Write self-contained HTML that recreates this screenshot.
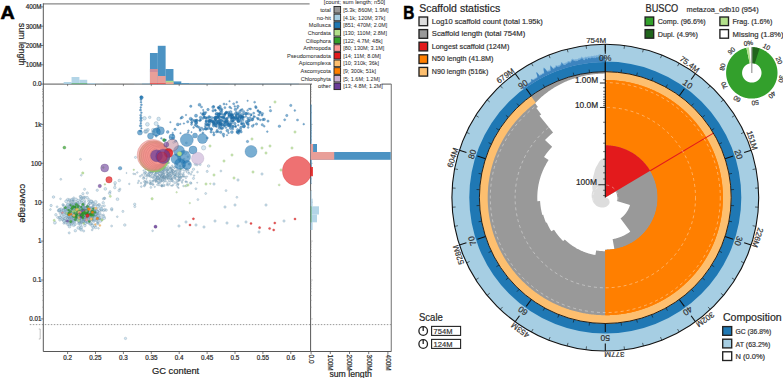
<!DOCTYPE html><html><head><meta charset="utf-8"><style>html,body{margin:0;padding:0;background:#fff;width:783px;height:378px;overflow:hidden}svg{display:block}text{font-family:"Liberation Sans",sans-serif;stroke:#333;stroke-width:0.2px}</style></head><body><svg width="783" height="378" viewBox="0 0 783 378"><text x="0.5" y="18.8" font-size="19" font-weight="bold" fill="#000" textLength="14.2" lengthAdjust="spacingAndGlyphs" style="stroke:#000;stroke-width:0.6px">A</text>
<line x1="43.3" y1="3.8" x2="309.6" y2="3.8" stroke="#888" stroke-width="1.2"/>
<line x1="43.3" y1="3.3" x2="43.3" y2="84.1" stroke="#444" stroke-width="0.9"/>
<line x1="43.3" y1="84.1" x2="310.6" y2="84.1" stroke="#444" stroke-width="0.9"/>
<line x1="40.8" y1="84.1" x2="43.3" y2="84.1" stroke="#444" stroke-width="0.7"/>
<text x="41.5" y="86.4" font-size="6.3" text-anchor="end" fill="#222">0.0</text>
<line x1="40.8" y1="64.8" x2="43.3" y2="64.8" stroke="#444" stroke-width="0.7"/>
<text x="41.5" y="67.1" font-size="6.3" text-anchor="end" fill="#222">100M</text>
<line x1="40.8" y1="45.5" x2="43.3" y2="45.5" stroke="#444" stroke-width="0.7"/>
<text x="41.5" y="47.8" font-size="6.3" text-anchor="end" fill="#222">200M</text>
<line x1="40.8" y1="26.2" x2="43.3" y2="26.2" stroke="#444" stroke-width="0.7"/>
<text x="41.5" y="28.5" font-size="6.3" text-anchor="end" fill="#222">300M</text>
<line x1="40.8" y1="6.9" x2="43.3" y2="6.9" stroke="#444" stroke-width="0.7"/>
<text x="41.5" y="9.2" font-size="6.3" text-anchor="end" fill="#222">400M</text>
<text transform="translate(18.9,44.3) rotate(90)" font-size="8.7" text-anchor="middle" fill="#222">sum length</text>
<line x1="67.6" y1="84.1" x2="67.6" y2="86.1" stroke="#444" stroke-width="0.6"/>
<line x1="95.5" y1="84.1" x2="95.5" y2="86.1" stroke="#444" stroke-width="0.6"/>
<line x1="123.4" y1="84.1" x2="123.4" y2="86.1" stroke="#444" stroke-width="0.6"/>
<line x1="151.3" y1="84.1" x2="151.3" y2="86.1" stroke="#444" stroke-width="0.6"/>
<line x1="179.2" y1="84.1" x2="179.2" y2="86.1" stroke="#444" stroke-width="0.6"/>
<line x1="207.1" y1="84.1" x2="207.1" y2="86.1" stroke="#444" stroke-width="0.6"/>
<line x1="235" y1="84.1" x2="235" y2="86.1" stroke="#444" stroke-width="0.6"/>
<line x1="262.9" y1="84.1" x2="262.9" y2="86.1" stroke="#444" stroke-width="0.6"/>
<line x1="290.8" y1="84.1" x2="290.8" y2="86.1" stroke="#444" stroke-width="0.6"/>
<line x1="43.3" y1="84.1" x2="43.3" y2="351.5" stroke="#444" stroke-width="0.9"/>
<line x1="43.3" y1="351.5" x2="310.6" y2="351.5" stroke="#444" stroke-width="0.9"/>
<line x1="40.8" y1="124.4" x2="43.3" y2="124.4" stroke="#444" stroke-width="0.7"/>
<text x="41.5" y="126.7" font-size="6.3" text-anchor="end" fill="#222">1k</text>
<line x1="42.0" y1="112.69" x2="43.3" y2="112.69" stroke="#999" stroke-width="0.5"/>
<line x1="42.0" y1="105.84" x2="43.3" y2="105.84" stroke="#999" stroke-width="0.5"/>
<line x1="42.0" y1="100.98" x2="43.3" y2="100.98" stroke="#999" stroke-width="0.5"/>
<line x1="42.0" y1="97.21" x2="43.3" y2="97.21" stroke="#999" stroke-width="0.5"/>
<line x1="42.0" y1="94.13" x2="43.3" y2="94.13" stroke="#999" stroke-width="0.5"/>
<line x1="42.0" y1="91.53" x2="43.3" y2="91.53" stroke="#999" stroke-width="0.5"/>
<line x1="42.0" y1="89.27" x2="43.3" y2="89.27" stroke="#999" stroke-width="0.5"/>
<line x1="40.8" y1="163.3" x2="43.3" y2="163.3" stroke="#444" stroke-width="0.7"/>
<text x="41.5" y="165.6" font-size="6.3" text-anchor="end" fill="#222">100</text>
<line x1="42.0" y1="151.59" x2="43.3" y2="151.59" stroke="#999" stroke-width="0.5"/>
<line x1="42.0" y1="144.74" x2="43.3" y2="144.74" stroke="#999" stroke-width="0.5"/>
<line x1="42.0" y1="139.88" x2="43.3" y2="139.88" stroke="#999" stroke-width="0.5"/>
<line x1="42.0" y1="136.11" x2="43.3" y2="136.11" stroke="#999" stroke-width="0.5"/>
<line x1="42.0" y1="133.03" x2="43.3" y2="133.03" stroke="#999" stroke-width="0.5"/>
<line x1="42.0" y1="130.43" x2="43.3" y2="130.43" stroke="#999" stroke-width="0.5"/>
<line x1="42.0" y1="128.17" x2="43.3" y2="128.17" stroke="#999" stroke-width="0.5"/>
<line x1="42.0" y1="126.18" x2="43.3" y2="126.18" stroke="#999" stroke-width="0.5"/>
<line x1="40.8" y1="202.2" x2="43.3" y2="202.2" stroke="#444" stroke-width="0.7"/>
<text x="41.5" y="204.5" font-size="6.3" text-anchor="end" fill="#222">10</text>
<line x1="42.0" y1="190.49" x2="43.3" y2="190.49" stroke="#999" stroke-width="0.5"/>
<line x1="42.0" y1="183.64" x2="43.3" y2="183.64" stroke="#999" stroke-width="0.5"/>
<line x1="42.0" y1="178.78" x2="43.3" y2="178.78" stroke="#999" stroke-width="0.5"/>
<line x1="42.0" y1="175.01" x2="43.3" y2="175.01" stroke="#999" stroke-width="0.5"/>
<line x1="42.0" y1="171.93" x2="43.3" y2="171.93" stroke="#999" stroke-width="0.5"/>
<line x1="42.0" y1="169.33" x2="43.3" y2="169.33" stroke="#999" stroke-width="0.5"/>
<line x1="42.0" y1="167.07" x2="43.3" y2="167.07" stroke="#999" stroke-width="0.5"/>
<line x1="42.0" y1="165.08" x2="43.3" y2="165.08" stroke="#999" stroke-width="0.5"/>
<line x1="40.8" y1="241.1" x2="43.3" y2="241.1" stroke="#444" stroke-width="0.7"/>
<text x="41.5" y="243.4" font-size="6.3" text-anchor="end" fill="#222">1</text>
<line x1="42.0" y1="229.39" x2="43.3" y2="229.39" stroke="#999" stroke-width="0.5"/>
<line x1="42.0" y1="222.54" x2="43.3" y2="222.54" stroke="#999" stroke-width="0.5"/>
<line x1="42.0" y1="217.68" x2="43.3" y2="217.68" stroke="#999" stroke-width="0.5"/>
<line x1="42.0" y1="213.91" x2="43.3" y2="213.91" stroke="#999" stroke-width="0.5"/>
<line x1="42.0" y1="210.83" x2="43.3" y2="210.83" stroke="#999" stroke-width="0.5"/>
<line x1="42.0" y1="208.23" x2="43.3" y2="208.23" stroke="#999" stroke-width="0.5"/>
<line x1="42.0" y1="205.97" x2="43.3" y2="205.97" stroke="#999" stroke-width="0.5"/>
<line x1="42.0" y1="203.98" x2="43.3" y2="203.98" stroke="#999" stroke-width="0.5"/>
<line x1="40.8" y1="280" x2="43.3" y2="280" stroke="#444" stroke-width="0.7"/>
<text x="41.5" y="282.3" font-size="6.3" text-anchor="end" fill="#222">0.1</text>
<line x1="42.0" y1="268.29" x2="43.3" y2="268.29" stroke="#999" stroke-width="0.5"/>
<line x1="42.0" y1="261.44" x2="43.3" y2="261.44" stroke="#999" stroke-width="0.5"/>
<line x1="42.0" y1="256.58" x2="43.3" y2="256.58" stroke="#999" stroke-width="0.5"/>
<line x1="42.0" y1="252.81" x2="43.3" y2="252.81" stroke="#999" stroke-width="0.5"/>
<line x1="42.0" y1="249.73" x2="43.3" y2="249.73" stroke="#999" stroke-width="0.5"/>
<line x1="42.0" y1="247.13" x2="43.3" y2="247.13" stroke="#999" stroke-width="0.5"/>
<line x1="42.0" y1="244.87" x2="43.3" y2="244.87" stroke="#999" stroke-width="0.5"/>
<line x1="42.0" y1="242.88" x2="43.3" y2="242.88" stroke="#999" stroke-width="0.5"/>
<line x1="40.8" y1="318.9" x2="43.3" y2="318.9" stroke="#444" stroke-width="0.7"/>
<text x="41.5" y="321.2" font-size="6.3" text-anchor="end" fill="#222">0.01</text>
<line x1="42.0" y1="307.19" x2="43.3" y2="307.19" stroke="#999" stroke-width="0.5"/>
<line x1="42.0" y1="300.34" x2="43.3" y2="300.34" stroke="#999" stroke-width="0.5"/>
<line x1="42.0" y1="295.48" x2="43.3" y2="295.48" stroke="#999" stroke-width="0.5"/>
<line x1="42.0" y1="291.71" x2="43.3" y2="291.71" stroke="#999" stroke-width="0.5"/>
<line x1="42.0" y1="288.63" x2="43.3" y2="288.63" stroke="#999" stroke-width="0.5"/>
<line x1="42.0" y1="286.03" x2="43.3" y2="286.03" stroke="#999" stroke-width="0.5"/>
<line x1="42.0" y1="283.77" x2="43.3" y2="283.77" stroke="#999" stroke-width="0.5"/>
<line x1="42.0" y1="281.78" x2="43.3" y2="281.78" stroke="#999" stroke-width="0.5"/>
<line x1="42.0" y1="112.69" x2="43.3" y2="112.69" stroke="#999" stroke-width="0.5"/>
<line x1="42.0" y1="105.84" x2="43.3" y2="105.84" stroke="#999" stroke-width="0.5"/>
<line x1="42.0" y1="100.98" x2="43.3" y2="100.98" stroke="#999" stroke-width="0.5"/>
<line x1="42.0" y1="97.21" x2="43.3" y2="97.21" stroke="#999" stroke-width="0.5"/>
<line x1="42.0" y1="94.13" x2="43.3" y2="94.13" stroke="#999" stroke-width="0.5"/>
<line x1="42.0" y1="91.53" x2="43.3" y2="91.53" stroke="#999" stroke-width="0.5"/>
<line x1="42.0" y1="89.27" x2="43.3" y2="89.27" stroke="#999" stroke-width="0.5"/>
<text transform="translate(19.9,203.2) rotate(90)" font-size="9.5" text-anchor="middle" fill="#111">coverage</text>
<line x1="67.6" y1="351.5" x2="67.6" y2="354.0" stroke="#444" stroke-width="0.7"/>
<text x="67.6" y="359.5" font-size="6.3" text-anchor="middle" fill="#222">0.2</text>
<line x1="95.5" y1="351.5" x2="95.5" y2="354.0" stroke="#444" stroke-width="0.7"/>
<text x="95.5" y="359.5" font-size="6.3" text-anchor="middle" fill="#222">0.25</text>
<line x1="123.4" y1="351.5" x2="123.4" y2="354.0" stroke="#444" stroke-width="0.7"/>
<text x="123.4" y="359.5" font-size="6.3" text-anchor="middle" fill="#222">0.3</text>
<line x1="151.3" y1="351.5" x2="151.3" y2="354.0" stroke="#444" stroke-width="0.7"/>
<text x="151.3" y="359.5" font-size="6.3" text-anchor="middle" fill="#222">0.35</text>
<line x1="179.2" y1="351.5" x2="179.2" y2="354.0" stroke="#444" stroke-width="0.7"/>
<text x="179.2" y="359.5" font-size="6.3" text-anchor="middle" fill="#222">0.4</text>
<line x1="207.1" y1="351.5" x2="207.1" y2="354.0" stroke="#444" stroke-width="0.7"/>
<text x="207.1" y="359.5" font-size="6.3" text-anchor="middle" fill="#222">0.45</text>
<line x1="235" y1="351.5" x2="235" y2="354.0" stroke="#444" stroke-width="0.7"/>
<text x="235" y="359.5" font-size="6.3" text-anchor="middle" fill="#222">0.5</text>
<line x1="262.9" y1="351.5" x2="262.9" y2="354.0" stroke="#444" stroke-width="0.7"/>
<text x="262.9" y="359.5" font-size="6.3" text-anchor="middle" fill="#222">0.55</text>
<line x1="290.8" y1="351.5" x2="290.8" y2="354.0" stroke="#444" stroke-width="0.7"/>
<text x="290.8" y="359.5" font-size="6.3" text-anchor="middle" fill="#222">0.6</text>
<text x="175.6" y="374.4" font-size="9.35" text-anchor="middle" fill="#111">GC content</text>
<line x1="29.8" y1="324.6" x2="391.3" y2="324.6" stroke="#555" stroke-width="0.6" stroke-dasharray="1.5,1.5"/>
<path d="M38.8,329 L40.2,329 L40.2,339 L38.8,339" fill="none" stroke="#999" stroke-width="0.6"/>
<line x1="310.6" y1="84.1" x2="310.6" y2="351.5" stroke="#444" stroke-width="0.9"/>
<line x1="310.6" y1="84.1" x2="391.3" y2="84.1" stroke="#444" stroke-width="0.9"/>
<line x1="391.3" y1="84.1" x2="391.3" y2="351.5" stroke="#888" stroke-width="1.2"/>
<line x1="311.1" y1="351.5" x2="311.1" y2="354.0" stroke="#444" stroke-width="0.7"/>
<text transform="translate(308.9,354.6) rotate(90)" font-size="6.4" text-anchor="start" fill="#222">0.0</text>
<line x1="330.3" y1="351.5" x2="330.3" y2="354.0" stroke="#444" stroke-width="0.7"/>
<text transform="translate(328.1,354.6) rotate(90)" font-size="6.4" text-anchor="start" fill="#222">100M</text>
<line x1="349.5" y1="351.5" x2="349.5" y2="354.0" stroke="#444" stroke-width="0.7"/>
<text transform="translate(347.3,354.6) rotate(90)" font-size="6.4" text-anchor="start" fill="#222">200M</text>
<line x1="368.7" y1="351.5" x2="368.7" y2="354.0" stroke="#444" stroke-width="0.7"/>
<text transform="translate(366.5,354.6) rotate(90)" font-size="6.4" text-anchor="start" fill="#222">300M</text>
<line x1="387.9" y1="351.5" x2="387.9" y2="354.0" stroke="#444" stroke-width="0.7"/>
<text transform="translate(385.7,354.6) rotate(90)" font-size="6.4" text-anchor="start" fill="#222">400M</text>
<text x="350.7" y="376.6" font-size="8.7" text-anchor="middle" fill="#111">sum length</text>
<line x1="310.6" y1="351.5" x2="391.3" y2="351.5" stroke="#444" stroke-width="0.9"/>
<line x1="310.6" y1="124.4" x2="312.8" y2="124.4" stroke="#999" stroke-width="0.5"/>
<line x1="310.6" y1="112.69" x2="311.8" y2="112.69" stroke="#999" stroke-width="0.5"/>
<line x1="310.6" y1="105.84" x2="311.8" y2="105.84" stroke="#999" stroke-width="0.5"/>
<line x1="310.6" y1="100.98" x2="311.8" y2="100.98" stroke="#999" stroke-width="0.5"/>
<line x1="310.6" y1="97.21" x2="311.8" y2="97.21" stroke="#999" stroke-width="0.5"/>
<line x1="310.6" y1="94.13" x2="311.8" y2="94.13" stroke="#999" stroke-width="0.5"/>
<line x1="310.6" y1="91.53" x2="311.8" y2="91.53" stroke="#999" stroke-width="0.5"/>
<line x1="310.6" y1="89.27" x2="311.8" y2="89.27" stroke="#999" stroke-width="0.5"/>
<line x1="310.6" y1="87.28" x2="311.8" y2="87.28" stroke="#999" stroke-width="0.5"/>
<line x1="310.6" y1="163.3" x2="312.8" y2="163.3" stroke="#999" stroke-width="0.5"/>
<line x1="310.6" y1="151.59" x2="311.8" y2="151.59" stroke="#999" stroke-width="0.5"/>
<line x1="310.6" y1="144.74" x2="311.8" y2="144.74" stroke="#999" stroke-width="0.5"/>
<line x1="310.6" y1="139.88" x2="311.8" y2="139.88" stroke="#999" stroke-width="0.5"/>
<line x1="310.6" y1="136.11" x2="311.8" y2="136.11" stroke="#999" stroke-width="0.5"/>
<line x1="310.6" y1="133.03" x2="311.8" y2="133.03" stroke="#999" stroke-width="0.5"/>
<line x1="310.6" y1="130.43" x2="311.8" y2="130.43" stroke="#999" stroke-width="0.5"/>
<line x1="310.6" y1="128.17" x2="311.8" y2="128.17" stroke="#999" stroke-width="0.5"/>
<line x1="310.6" y1="126.18" x2="311.8" y2="126.18" stroke="#999" stroke-width="0.5"/>
<line x1="310.6" y1="202.2" x2="312.8" y2="202.2" stroke="#999" stroke-width="0.5"/>
<line x1="310.6" y1="190.49" x2="311.8" y2="190.49" stroke="#999" stroke-width="0.5"/>
<line x1="310.6" y1="183.64" x2="311.8" y2="183.64" stroke="#999" stroke-width="0.5"/>
<line x1="310.6" y1="178.78" x2="311.8" y2="178.78" stroke="#999" stroke-width="0.5"/>
<line x1="310.6" y1="175.01" x2="311.8" y2="175.01" stroke="#999" stroke-width="0.5"/>
<line x1="310.6" y1="171.93" x2="311.8" y2="171.93" stroke="#999" stroke-width="0.5"/>
<line x1="310.6" y1="169.33" x2="311.8" y2="169.33" stroke="#999" stroke-width="0.5"/>
<line x1="310.6" y1="167.07" x2="311.8" y2="167.07" stroke="#999" stroke-width="0.5"/>
<line x1="310.6" y1="165.08" x2="311.8" y2="165.08" stroke="#999" stroke-width="0.5"/>
<line x1="310.6" y1="241.1" x2="312.8" y2="241.1" stroke="#999" stroke-width="0.5"/>
<line x1="310.6" y1="229.39" x2="311.8" y2="229.39" stroke="#999" stroke-width="0.5"/>
<line x1="310.6" y1="222.54" x2="311.8" y2="222.54" stroke="#999" stroke-width="0.5"/>
<line x1="310.6" y1="217.68" x2="311.8" y2="217.68" stroke="#999" stroke-width="0.5"/>
<line x1="310.6" y1="213.91" x2="311.8" y2="213.91" stroke="#999" stroke-width="0.5"/>
<line x1="310.6" y1="210.83" x2="311.8" y2="210.83" stroke="#999" stroke-width="0.5"/>
<line x1="310.6" y1="208.23" x2="311.8" y2="208.23" stroke="#999" stroke-width="0.5"/>
<line x1="310.6" y1="205.97" x2="311.8" y2="205.97" stroke="#999" stroke-width="0.5"/>
<line x1="310.6" y1="203.98" x2="311.8" y2="203.98" stroke="#999" stroke-width="0.5"/>
<line x1="310.6" y1="280" x2="312.8" y2="280" stroke="#999" stroke-width="0.5"/>
<line x1="310.6" y1="268.29" x2="311.8" y2="268.29" stroke="#999" stroke-width="0.5"/>
<line x1="310.6" y1="261.44" x2="311.8" y2="261.44" stroke="#999" stroke-width="0.5"/>
<line x1="310.6" y1="256.58" x2="311.8" y2="256.58" stroke="#999" stroke-width="0.5"/>
<line x1="310.6" y1="252.81" x2="311.8" y2="252.81" stroke="#999" stroke-width="0.5"/>
<line x1="310.6" y1="249.73" x2="311.8" y2="249.73" stroke="#999" stroke-width="0.5"/>
<line x1="310.6" y1="247.13" x2="311.8" y2="247.13" stroke="#999" stroke-width="0.5"/>
<line x1="310.6" y1="244.87" x2="311.8" y2="244.87" stroke="#999" stroke-width="0.5"/>
<line x1="310.6" y1="242.88" x2="311.8" y2="242.88" stroke="#999" stroke-width="0.5"/>
<line x1="310.6" y1="318.9" x2="312.8" y2="318.9" stroke="#999" stroke-width="0.5"/>
<line x1="310.6" y1="307.19" x2="311.8" y2="307.19" stroke="#999" stroke-width="0.5"/>
<line x1="310.6" y1="300.34" x2="311.8" y2="300.34" stroke="#999" stroke-width="0.5"/>
<line x1="310.6" y1="295.48" x2="311.8" y2="295.48" stroke="#999" stroke-width="0.5"/>
<line x1="310.6" y1="291.71" x2="311.8" y2="291.71" stroke="#999" stroke-width="0.5"/>
<line x1="310.6" y1="288.63" x2="311.8" y2="288.63" stroke="#999" stroke-width="0.5"/>
<line x1="310.6" y1="286.03" x2="311.8" y2="286.03" stroke="#999" stroke-width="0.5"/>
<line x1="310.6" y1="283.77" x2="311.8" y2="283.77" stroke="#999" stroke-width="0.5"/>
<line x1="310.6" y1="281.78" x2="311.8" y2="281.78" stroke="#999" stroke-width="0.5"/>
<rect x="63.70" y="82.00" width="7.84" height="2.10" fill="#a6cee3" fill-opacity="0.85"/>
<rect x="71.54" y="77.00" width="7.84" height="7.10" fill="#a6cee3" fill-opacity="0.85"/>
<rect x="79.38" y="79.80" width="7.84" height="4.30" fill="#a6cee3" fill-opacity="0.85"/>
<rect x="87.22" y="83.10" width="7.84" height="1.00" fill="#a6cee3" fill-opacity="0.85"/>
<rect x="95.06" y="83.80" width="7.84" height="0.30" fill="#a6cee3" fill-opacity="0.85"/>
<rect x="134.26" y="83.80" width="7.84" height="0.30" fill="#a6cee3" fill-opacity="0.85"/>
<rect x="142.10" y="83.70" width="7.84" height="0.40" fill="#a6cee3" fill-opacity="0.85"/>
<rect x="149.94" y="83.10" width="7.84" height="1.00" fill="#a6cee3" fill-opacity="0.85"/>
<rect x="157.78" y="83.10" width="7.84" height="1.00" fill="#a6cee3" fill-opacity="0.85"/>
<rect x="165.62" y="83.30" width="7.84" height="0.80" fill="#a6cee3" fill-opacity="0.85"/>
<rect x="173.46" y="83.50" width="7.84" height="0.60" fill="#a6cee3" fill-opacity="0.85"/>
<rect x="181.30" y="83.60" width="7.84" height="0.50" fill="#a6cee3" fill-opacity="0.85"/>
<rect x="189.14" y="83.70" width="7.84" height="0.40" fill="#a6cee3" fill-opacity="0.85"/>
<rect x="196.98" y="83.70" width="7.84" height="0.40" fill="#a6cee3" fill-opacity="0.85"/>
<rect x="204.82" y="83.80" width="7.84" height="0.30" fill="#a6cee3" fill-opacity="0.85"/>
<rect x="71.54" y="83.00" width="7.84" height="1.10" fill="#33a02c" fill-opacity="0.45"/>
<rect x="79.38" y="83.00" width="7.84" height="1.10" fill="#33a02c" fill-opacity="0.45"/>
<rect x="142.10" y="83.80" width="7.84" height="0.30" fill="#1f78b4" fill-opacity="0.8"/>
<rect x="149.94" y="53.00" width="7.84" height="31.10" fill="#1f78b4" fill-opacity="0.8"/>
<rect x="157.78" y="45.80" width="7.84" height="38.30" fill="#1f78b4" fill-opacity="0.8"/>
<rect x="165.62" y="69.00" width="7.84" height="15.10" fill="#1f78b4" fill-opacity="0.8"/>
<rect x="173.46" y="81.40" width="7.84" height="2.70" fill="#1f78b4" fill-opacity="0.8"/>
<rect x="181.30" y="83.30" width="7.84" height="0.80" fill="#1f78b4" fill-opacity="0.8"/>
<rect x="189.14" y="83.60" width="7.84" height="0.50" fill="#1f78b4" fill-opacity="0.8"/>
<rect x="196.98" y="83.60" width="7.84" height="0.50" fill="#1f78b4" fill-opacity="0.8"/>
<rect x="204.82" y="83.70" width="7.84" height="0.40" fill="#1f78b4" fill-opacity="0.8"/>
<rect x="212.66" y="83.70" width="7.84" height="0.40" fill="#1f78b4" fill-opacity="0.8"/>
<rect x="220.50" y="83.70" width="7.84" height="0.40" fill="#1f78b4" fill-opacity="0.8"/>
<rect x="228.34" y="83.80" width="7.84" height="0.30" fill="#1f78b4" fill-opacity="0.8"/>
<rect x="236.18" y="83.80" width="7.84" height="0.30" fill="#1f78b4" fill-opacity="0.8"/>
<rect x="244.02" y="83.80" width="7.84" height="0.30" fill="#1f78b4" fill-opacity="0.8"/>
<rect x="251.86" y="83.80" width="7.84" height="0.30" fill="#1f78b4" fill-opacity="0.8"/>
<rect x="259.70" y="83.80" width="7.84" height="0.30" fill="#1f78b4" fill-opacity="0.8"/>
<rect x="267.54" y="83.80" width="7.84" height="0.30" fill="#1f78b4" fill-opacity="0.8"/>
<rect x="275.38" y="83.80" width="7.84" height="0.30" fill="#1f78b4" fill-opacity="0.8"/>
<rect x="283.22" y="83.80" width="7.84" height="0.30" fill="#1f78b4" fill-opacity="0.8"/>
<rect x="291.06" y="83.80" width="7.84" height="0.30" fill="#1f78b4" fill-opacity="0.8"/>
<rect x="165.62" y="80.80" width="7.84" height="3.30" fill="#b2df8a" fill-opacity="0.95"/>
<rect x="149.94" y="69.00" width="7.84" height="15.10" fill="#f6a096" fill-opacity="0.92"/>
<rect x="157.78" y="76.00" width="7.84" height="8.10" fill="#f6a096" fill-opacity="0.92"/>
<rect x="165.62" y="82.30" width="7.84" height="1.80" fill="#f6a096" fill-opacity="0.92"/>
<rect x="149.94" y="81.50" width="7.84" height="2.60" fill="#cab2d6" fill-opacity="0.0"/>
<rect x="149.94" y="69.00" width="7.84" height="3.0" fill="#b07aa1" fill-opacity="0.45"/>
<rect x="149.94" y="83.20" width="15.68" height="0.8" fill="#e31a1c" fill-opacity="0.6"/>
<rect x="310.60" y="104.50" width="0.90" height="7.90" fill="#1f78b4" fill-opacity="0.8"/>
<rect x="310.60" y="112.30" width="0.90" height="7.90" fill="#1f78b4" fill-opacity="0.8"/>
<rect x="310.60" y="120.10" width="0.90" height="7.90" fill="#1f78b4" fill-opacity="0.8"/>
<rect x="310.60" y="128.00" width="0.90" height="7.90" fill="#1f78b4" fill-opacity="0.8"/>
<rect x="310.60" y="136.00" width="0.90" height="7.90" fill="#1f78b4" fill-opacity="0.8"/>
<rect x="310.60" y="144.00" width="6.40" height="8.00" fill="#1f78b4" fill-opacity="0.8"/>
<rect x="310.60" y="152.00" width="80.10" height="7.80" fill="#1f78b4" fill-opacity="0.8"/>
<rect x="310.60" y="159.80" width="1.00" height="7.20" fill="#1f78b4" fill-opacity="0.8"/>
<rect x="310.60" y="144.00" width="2.50" height="8.00" fill="#f6a096" fill-opacity="0.92"/>
<rect x="310.60" y="152.00" width="23.60" height="7.80" fill="#f6a096" fill-opacity="0.92"/>
<rect x="310.60" y="167.00" width="2.40" height="9.20" fill="#e31a1c" fill-opacity="0.8"/>
<rect x="310.60" y="176.20" width="0.80" height="7.80" fill="#1f78b4" fill-opacity="0.6"/>
<rect x="310.60" y="190.80" width="1.00" height="7.80" fill="#a6cee3" fill-opacity="0.85"/>
<rect x="310.60" y="198.60" width="2.00" height="7.70" fill="#a6cee3" fill-opacity="0.85"/>
<rect x="310.60" y="206.30" width="8.40" height="8.20" fill="#a6cee3" fill-opacity="0.85"/>
<rect x="310.60" y="214.50" width="6.40" height="7.80" fill="#a6cee3" fill-opacity="0.85"/>
<rect x="310.60" y="222.30" width="2.00" height="7.70" fill="#a6cee3" fill-opacity="0.85"/>
<rect x="310.60" y="206.30" width="1.00" height="16.00" fill="#33a02c" fill-opacity="0.5"/>
<style>.a50{fill:#fb9a99;fill-opacity:0.5;stroke:#c07070;stroke-opacity:0.55}.a70{fill:#fb9a99;fill-opacity:0.7;stroke:#c07070;stroke-opacity:0.55}.c70{fill:#33a02c;fill-opacity:0.7;stroke:#2a7a25;stroke-opacity:0.55}.c75{fill:#33a02c;fill-opacity:0.75;stroke:#2a7a25;stroke-opacity:0.55}.c80{fill:#33a02c;fill-opacity:0.8;stroke:#2a7a25;stroke-opacity:0.55}.h55{fill:#b2df8a;fill-opacity:0.55;stroke:#80a868;stroke-opacity:0.55}.h60{fill:#b2df8a;fill-opacity:0.6;stroke:#80a868;stroke-opacity:0.55}.h75{fill:#b2df8a;fill-opacity:0.75;stroke:#80a868;stroke-opacity:0.55}.h95{fill:#b2df8a;fill-opacity:0.95;stroke:#80a868;stroke-opacity:0.55}.l65{fill:#cab2d6;fill-opacity:0.65;stroke:#a090b0;stroke-opacity:0.55}.m15{fill:#1f78b4;fill-opacity:0.15;stroke:#1f5f94;stroke-opacity:0.55}.m55{fill:#1f78b4;fill-opacity:0.55;stroke:#1f5f94;stroke-opacity:0.55}.m60{fill:#1f78b4;fill-opacity:0.6;stroke:#1f5f94;stroke-opacity:0.55}.m65{fill:#1f78b4;fill-opacity:0.65;stroke:#1f5f94;stroke-opacity:0.55}.m80{fill:#1f78b4;fill-opacity:0.8;stroke:#1f5f94;stroke-opacity:0.55}.n45{fill:#a6cee3;fill-opacity:0.45;stroke:#5b7d95;stroke-opacity:0.55}.n50{fill:#a6cee3;fill-opacity:0.5;stroke:#5b7d95;stroke-opacity:0.55}.o60{fill:#6a3d9a;fill-opacity:0.6;stroke:#503070;stroke-opacity:0.55}.o70{fill:#6a3d9a;fill-opacity:0.7;stroke:#503070;stroke-opacity:0.55}.o72{fill:#6a3d9a;fill-opacity:0.72;stroke:#503070;stroke-opacity:0.55}.o85{fill:#6a3d9a;fill-opacity:0.85;stroke:#503070;stroke-opacity:0.55}.p30{fill:#e31a1c;fill-opacity:0.3;stroke:#b01010;stroke-opacity:0.55}.p70{fill:#e31a1c;fill-opacity:0.7;stroke:#b01010;stroke-opacity:0.55}.p75{fill:#e31a1c;fill-opacity:0.75;stroke:#b01010;stroke-opacity:0.55}.p80{fill:#e31a1c;fill-opacity:0.8;stroke:#b01010;stroke-opacity:0.55}.p85{fill:#e31a1c;fill-opacity:0.85;stroke:#b01010;stroke-opacity:0.55}.x85{fill:#fdbf6f;fill-opacity:0.85;stroke:#c09050;stroke-opacity:0.55}.y75{fill:#ff7f00;fill-opacity:0.75;stroke:#c06000;stroke-opacity:0.55}</style>
<g stroke-width="0.45">
<circle class="n50" cx="67.3" cy="217.5" r="1.6"/>
<circle class="n50" cx="93.1" cy="216.2" r="1.4"/>
<circle class="n50" cx="72.6" cy="210.6" r="1.1"/>
<circle class="n50" cx="78.5" cy="219.8" r="0.9"/>
<circle class="n50" cx="80.3" cy="211.2" r="1.4"/>
<circle class="n50" cx="73.9" cy="219.2" r="1.4"/>
<circle class="n50" cx="67.9" cy="199.7" r="1.5"/>
<circle class="n50" cx="87.2" cy="207.2" r="1.5"/>
<circle class="n50" cx="84.5" cy="209.4" r="1.4"/>
<circle class="n50" cx="62.3" cy="212.7" r="1.3"/>
<circle class="n50" cx="103.5" cy="198.8" r="1.2"/>
<circle class="n50" cx="90.3" cy="217.4" r="1.1"/>
<circle class="n50" cx="73.7" cy="218.5" r="1.5"/>
<circle class="n50" cx="89.7" cy="217.3" r="1.3"/>
<circle class="n50" cx="76.5" cy="209.7" r="1.5"/>
<circle class="n50" cx="80.4" cy="221.2" r="1.4"/>
<circle class="n50" cx="88.6" cy="209.5" r="1.1"/>
<circle class="n50" cx="68.9" cy="218.0" r="1.0"/>
<circle class="n50" cx="86.5" cy="212.4" r="0.9"/>
<circle class="n50" cx="94.4" cy="212.6" r="1.0"/>
<circle class="n50" cx="93.7" cy="211.8" r="1.2"/>
<circle class="n50" cx="78.1" cy="212.6" r="1.5"/>
<circle class="n50" cx="89.7" cy="219.2" r="1.1"/>
<circle class="n50" cx="65.4" cy="221.1" r="0.9"/>
<circle class="n50" cx="79.5" cy="221.0" r="1.5"/>
<circle class="n50" cx="85.3" cy="218.0" r="1.2"/>
<circle class="n50" cx="68.1" cy="216.6" r="1.3"/>
<circle class="n50" cx="80.2" cy="215.3" r="1.3"/>
<circle class="n50" cx="97.6" cy="222.9" r="1.0"/>
<circle class="n50" cx="106.1" cy="210.1" r="1.3"/>
<circle class="n50" cx="88.5" cy="209.0" r="1.1"/>
<circle class="n50" cx="89.0" cy="213.0" r="1.1"/>
<circle class="n50" cx="71.8" cy="203.0" r="0.9"/>
<circle class="n50" cx="69.4" cy="211.3" r="1.2"/>
<circle class="n50" cx="67.4" cy="212.4" r="0.9"/>
<circle class="n50" cx="86.2" cy="206.7" r="1.0"/>
<circle class="n50" cx="88.2" cy="209.4" r="1.3"/>
<circle class="n50" cx="74.7" cy="216.7" r="1.3"/>
<circle class="n50" cx="69.2" cy="211.4" r="1.5"/>
<circle class="n50" cx="83.5" cy="213.2" r="1.5"/>
<circle class="n50" cx="84.0" cy="218.7" r="1.2"/>
<circle class="n50" cx="79.7" cy="209.1" r="1.5"/>
<circle class="n50" cx="93.2" cy="206.1" r="1.0"/>
<circle class="n50" cx="80.1" cy="212.5" r="1.3"/>
<circle class="n50" cx="80.4" cy="215.2" r="1.5"/>
<circle class="n50" cx="70.4" cy="202.2" r="0.9"/>
<circle class="n50" cx="82.3" cy="216.5" r="1.5"/>
<circle class="n50" cx="93.9" cy="210.9" r="1.0"/>
<circle class="n50" cx="81.6" cy="210.3" r="0.9"/>
<circle class="n50" cx="81.7" cy="207.7" r="1.3"/>
<circle class="n50" cx="85.2" cy="211.6" r="1.5"/>
<circle class="n50" cx="83.7" cy="218.3" r="1.1"/>
<circle class="n50" cx="86.1" cy="215.8" r="1.1"/>
<circle class="n50" cx="86.2" cy="217.4" r="1.1"/>
<circle class="n50" cx="86.9" cy="210.6" r="1.1"/>
<circle class="n50" cx="73.4" cy="222.0" r="1.3"/>
<circle class="n50" cx="83.9" cy="220.1" r="1.0"/>
<circle class="n50" cx="65.6" cy="212.6" r="1.0"/>
<circle class="n50" cx="83.6" cy="197.5" r="1.4"/>
<circle class="n50" cx="68.9" cy="213.1" r="1.1"/>
<circle class="n50" cx="80.3" cy="228.7" r="1.4"/>
<circle class="n50" cx="85.6" cy="212.4" r="1.2"/>
<circle class="n50" cx="77.0" cy="206.8" r="1.0"/>
<circle class="n50" cx="81.9" cy="222.7" r="1.2"/>
<circle class="n50" cx="65.3" cy="209.2" r="1.1"/>
<circle class="n50" cx="72.8" cy="215.6" r="1.4"/>
<circle class="n50" cx="87.6" cy="217.2" r="1.5"/>
<circle class="n50" cx="69.9" cy="204.2" r="1.4"/>
<circle class="n50" cx="87.2" cy="213.5" r="1.2"/>
<circle class="n50" cx="67.7" cy="219.7" r="1.6"/>
<circle class="n50" cx="72.3" cy="210.9" r="1.0"/>
<circle class="n50" cx="70.5" cy="216.6" r="1.0"/>
<circle class="n50" cx="81.1" cy="212.6" r="1.0"/>
<circle class="n50" cx="86.1" cy="218.7" r="1.2"/>
<circle class="n50" cx="70.8" cy="223.5" r="1.4"/>
<circle class="n50" cx="79.3" cy="206.4" r="1.0"/>
<circle class="n50" cx="96.6" cy="211.1" r="1.6"/>
<circle class="n50" cx="78.0" cy="215.1" r="1.2"/>
<circle class="n50" cx="73.2" cy="209.1" r="1.5"/>
<circle class="n50" cx="84.7" cy="208.0" r="1.4"/>
<circle class="n50" cx="78.9" cy="210.8" r="1.0"/>
<circle class="n50" cx="74.3" cy="211.2" r="1.5"/>
<circle class="n50" cx="63.8" cy="209.0" r="1.1"/>
<circle class="n50" cx="88.9" cy="214.7" r="1.3"/>
<circle class="n50" cx="75.5" cy="217.5" r="1.3"/>
<circle class="n50" cx="81.0" cy="217.1" r="1.1"/>
<circle class="n50" cx="70.8" cy="216.7" r="1.1"/>
<circle class="n50" cx="93.5" cy="219.7" r="1.2"/>
<circle class="n50" cx="88.2" cy="204.9" r="1.4"/>
<circle class="n50" cx="90.4" cy="212.1" r="1.4"/>
<circle class="n50" cx="79.9" cy="213.9" r="1.2"/>
<circle class="n50" cx="85.5" cy="215.8" r="1.5"/>
<circle class="n50" cx="89.5" cy="203.4" r="1.0"/>
<circle class="n50" cx="90.8" cy="223.7" r="1.5"/>
<circle class="n50" cx="84.0" cy="207.6" r="1.2"/>
<circle class="n50" cx="80.4" cy="214.3" r="0.9"/>
<circle class="n50" cx="77.5" cy="217.1" r="1.3"/>
<circle class="n50" cx="73.8" cy="219.1" r="1.2"/>
<circle class="n50" cx="71.7" cy="208.8" r="1.1"/>
<circle class="n50" cx="84.5" cy="209.7" r="1.3"/>
<circle class="n50" cx="78.7" cy="215.0" r="1.4"/>
<circle class="n50" cx="61.8" cy="216.2" r="1.6"/>
<circle class="n50" cx="79.5" cy="218.1" r="0.9"/>
<circle class="n50" cx="91.2" cy="212.5" r="1.3"/>
<circle class="n50" cx="78.4" cy="208.8" r="1.6"/>
<circle class="n50" cx="63.2" cy="205.1" r="1.1"/>
<circle class="n50" cx="79.8" cy="222.9" r="1.5"/>
<circle class="n50" cx="88.5" cy="204.8" r="1.1"/>
<circle class="n50" cx="82.9" cy="216.9" r="1.4"/>
<circle class="n50" cx="76.9" cy="214.4" r="1.2"/>
<circle class="n50" cx="98.7" cy="217.2" r="1.3"/>
<circle class="n50" cx="99.2" cy="218.3" r="1.4"/>
<circle class="n50" cx="80.1" cy="220.6" r="1.0"/>
<circle class="n50" cx="88.8" cy="212.5" r="1.0"/>
<circle class="n50" cx="84.8" cy="215.1" r="1.3"/>
<circle class="n50" cx="88.5" cy="201.5" r="1.0"/>
<circle class="n50" cx="95.0" cy="213.1" r="1.5"/>
<circle class="n50" cx="88.9" cy="207.6" r="1.4"/>
<circle class="n50" cx="81.8" cy="211.9" r="1.0"/>
<circle class="n50" cx="74.7" cy="220.0" r="1.5"/>
<circle class="n50" cx="73.2" cy="213.4" r="1.5"/>
<circle class="n50" cx="80.8" cy="219.2" r="1.5"/>
<circle class="n50" cx="92.1" cy="211.7" r="0.9"/>
<circle class="n50" cx="83.9" cy="215.1" r="1.0"/>
<circle class="n50" cx="81.5" cy="210.4" r="1.0"/>
<circle class="n50" cx="83.5" cy="198.1" r="1.0"/>
<circle class="n50" cx="81.3" cy="208.7" r="1.4"/>
<circle class="n50" cx="86.3" cy="211.3" r="1.6"/>
<circle class="n50" cx="70.2" cy="213.7" r="1.4"/>
<circle class="n50" cx="62.0" cy="212.8" r="0.9"/>
<circle class="n50" cx="76.9" cy="212.1" r="1.5"/>
<circle class="n50" cx="70.0" cy="218.3" r="1.1"/>
<circle class="n50" cx="96.5" cy="216.5" r="1.2"/>
<circle class="n50" cx="79.5" cy="210.5" r="1.4"/>
<circle class="n50" cx="78.6" cy="217.9" r="1.3"/>
<circle class="n50" cx="66.2" cy="201.3" r="1.5"/>
<circle class="n50" cx="83.7" cy="211.2" r="1.0"/>
<circle class="n50" cx="75.0" cy="212.0" r="1.1"/>
<circle class="n50" cx="91.8" cy="220.4" r="1.0"/>
<circle class="n50" cx="89.1" cy="209.7" r="1.1"/>
<circle class="n50" cx="73.6" cy="204.3" r="1.3"/>
<circle class="n50" cx="84.9" cy="213.9" r="1.0"/>
<circle class="n50" cx="54.9" cy="222.7" r="1.5"/>
<circle class="n50" cx="74.5" cy="211.6" r="1.5"/>
<circle class="n50" cx="93.0" cy="212.3" r="1.4"/>
<circle class="n50" cx="88.6" cy="211.7" r="1.6"/>
<circle class="n50" cx="82.7" cy="213.2" r="1.3"/>
<circle class="n50" cx="80.7" cy="220.4" r="1.4"/>
<circle class="n50" cx="67.4" cy="224.3" r="1.1"/>
<circle class="n50" cx="67.9" cy="215.6" r="1.5"/>
<circle class="n50" cx="83.1" cy="212.3" r="1.5"/>
<circle class="n50" cx="97.9" cy="223.6" r="1.3"/>
<circle class="n50" cx="60.2" cy="213.5" r="1.0"/>
<circle class="n50" cx="87.0" cy="213.3" r="1.3"/>
<circle class="n50" cx="86.8" cy="210.8" r="1.2"/>
<circle class="n50" cx="90.1" cy="211.1" r="1.0"/>
<circle class="n50" cx="72.7" cy="214.3" r="1.2"/>
<circle class="n50" cx="75.9" cy="211.2" r="1.3"/>
<circle class="n50" cx="81.4" cy="215.3" r="1.5"/>
<circle class="n50" cx="71.1" cy="213.4" r="1.2"/>
<circle class="n50" cx="69.2" cy="216.1" r="1.0"/>
<circle class="n50" cx="72.5" cy="210.7" r="1.1"/>
<circle class="n50" cx="80.3" cy="211.7" r="1.3"/>
<circle class="n50" cx="84.6" cy="214.3" r="1.3"/>
<circle class="n50" cx="80.8" cy="213.3" r="1.1"/>
<circle class="n50" cx="81.7" cy="213.5" r="1.5"/>
<circle class="n50" cx="74.4" cy="219.7" r="1.2"/>
<circle class="n50" cx="74.1" cy="206.7" r="1.3"/>
<circle class="n50" cx="91.8" cy="201.6" r="1.5"/>
<circle class="n50" cx="80.5" cy="217.1" r="1.5"/>
<circle class="n50" cx="80.2" cy="211.5" r="1.2"/>
<circle class="n50" cx="90.0" cy="220.7" r="0.9"/>
<circle class="n50" cx="92.9" cy="212.4" r="1.4"/>
<circle class="n50" cx="93.2" cy="206.1" r="1.0"/>
<circle class="n50" cx="84.9" cy="225.6" r="1.3"/>
<circle class="n50" cx="80.5" cy="215.2" r="1.5"/>
<circle class="n50" cx="83.8" cy="210.3" r="1.3"/>
<circle class="n50" cx="82.7" cy="208.5" r="1.5"/>
<circle class="n50" cx="94.4" cy="216.1" r="1.2"/>
<circle class="n50" cx="83.8" cy="209.0" r="1.0"/>
<circle class="n50" cx="87.1" cy="215.1" r="1.2"/>
<circle class="n50" cx="80.7" cy="219.6" r="1.5"/>
<circle class="n50" cx="94.2" cy="204.8" r="1.1"/>
<circle class="n50" cx="61.3" cy="210.8" r="1.6"/>
<circle class="n50" cx="84.7" cy="215.7" r="1.0"/>
<circle class="n50" cx="88.3" cy="222.5" r="1.4"/>
<circle class="n50" cx="69.9" cy="218.3" r="1.5"/>
<circle class="n50" cx="101.6" cy="210.2" r="1.1"/>
<circle class="n50" cx="79.6" cy="221.4" r="1.4"/>
<circle class="n50" cx="79.5" cy="210.8" r="1.5"/>
<circle class="n50" cx="70.6" cy="211.9" r="1.1"/>
<circle class="n50" cx="89.4" cy="215.1" r="1.1"/>
<circle class="n50" cx="83.2" cy="206.5" r="1.1"/>
<circle class="n50" cx="75.3" cy="230.7" r="1.3"/>
<circle class="n50" cx="83.2" cy="219.8" r="1.5"/>
<circle class="n50" cx="87.6" cy="214.1" r="1.1"/>
<circle class="n50" cx="92.7" cy="209.6" r="1.6"/>
<circle class="n50" cx="83.1" cy="206.1" r="1.4"/>
<circle class="n50" cx="71.7" cy="215.0" r="1.3"/>
<circle class="n50" cx="75.7" cy="216.9" r="1.4"/>
<circle class="n50" cx="58.9" cy="210.5" r="1.6"/>
<circle class="n50" cx="74.0" cy="211.7" r="1.0"/>
<circle class="n50" cx="88.1" cy="216.1" r="1.2"/>
<circle class="n50" cx="85.5" cy="212.5" r="1.1"/>
<circle class="n50" cx="80.0" cy="202.1" r="1.6"/>
<circle class="n50" cx="77.7" cy="216.7" r="1.3"/>
<circle class="n50" cx="96.2" cy="214.3" r="1.1"/>
<circle class="n50" cx="83.7" cy="217.1" r="1.0"/>
<circle class="n50" cx="89.7" cy="208.5" r="1.5"/>
<circle class="n50" cx="84.8" cy="200.5" r="1.0"/>
<circle class="n50" cx="74.6" cy="205.6" r="1.3"/>
<circle class="n50" cx="95.9" cy="214.6" r="1.5"/>
<circle class="n50" cx="69.1" cy="224.9" r="1.4"/>
<circle class="n50" cx="69.5" cy="226.5" r="1.5"/>
<circle class="n50" cx="76.9" cy="214.6" r="1.3"/>
<circle class="n50" cx="74.0" cy="204.4" r="1.4"/>
<circle class="n50" cx="75.6" cy="210.9" r="1.3"/>
<circle class="n50" cx="75.2" cy="215.4" r="1.2"/>
<circle class="n50" cx="90.5" cy="215.4" r="1.5"/>
<circle class="n50" cx="81.5" cy="213.4" r="1.1"/>
<circle class="n50" cx="84.4" cy="220.6" r="1.0"/>
<circle class="n50" cx="65.8" cy="207.6" r="1.0"/>
<circle class="n50" cx="72.9" cy="200.3" r="1.0"/>
<circle class="n50" cx="91.4" cy="207.7" r="1.4"/>
<circle class="n50" cx="69.4" cy="206.1" r="1.1"/>
<circle class="n50" cx="92.3" cy="225.8" r="1.5"/>
<circle class="n50" cx="71.1" cy="211.7" r="1.0"/>
<circle class="n50" cx="83.9" cy="204.5" r="1.3"/>
<circle class="n50" cx="72.9" cy="216.4" r="1.5"/>
<circle class="n50" cx="82.9" cy="218.7" r="1.4"/>
<circle class="n50" cx="72.4" cy="213.1" r="0.9"/>
<circle class="n50" cx="78.5" cy="213.9" r="1.4"/>
<circle class="n50" cx="97.1" cy="218.8" r="1.6"/>
<circle class="n50" cx="77.4" cy="215.8" r="1.1"/>
<circle class="n50" cx="100.6" cy="208.8" r="1.5"/>
<circle class="n50" cx="76.6" cy="216.2" r="1.3"/>
<circle class="n50" cx="69.7" cy="218.2" r="1.1"/>
<circle class="n50" cx="81.7" cy="214.8" r="1.6"/>
<circle class="n50" cx="77.1" cy="217.9" r="1.5"/>
<circle class="n50" cx="97.9" cy="216.2" r="1.5"/>
<circle class="n50" cx="89.3" cy="211.5" r="0.9"/>
<circle class="n50" cx="92.3" cy="212.0" r="1.4"/>
<circle class="n50" cx="87.1" cy="216.4" r="1.2"/>
<circle class="n50" cx="104.7" cy="209.6" r="1.1"/>
<circle class="n50" cx="88.6" cy="219.5" r="1.5"/>
<circle class="n50" cx="86.1" cy="219.9" r="1.0"/>
<circle class="n50" cx="73.0" cy="201.0" r="1.0"/>
<circle class="n50" cx="72.3" cy="212.4" r="1.3"/>
<circle class="n50" cx="82.8" cy="208.5" r="1.3"/>
<circle class="n50" cx="90.6" cy="209.1" r="1.4"/>
<circle class="n50" cx="91.7" cy="213.7" r="1.1"/>
<circle class="n50" cx="71.9" cy="211.8" r="1.4"/>
<circle class="n50" cx="86.1" cy="216.1" r="1.4"/>
<circle class="n50" cx="82.9" cy="214.7" r="1.6"/>
<circle class="n50" cx="70.3" cy="215.0" r="1.6"/>
<circle class="n50" cx="85.9" cy="208.3" r="1.4"/>
<circle class="n50" cx="59.2" cy="210.8" r="1.1"/>
<circle class="n50" cx="83.5" cy="221.3" r="1.2"/>
<circle class="n50" cx="104.7" cy="198.4" r="1.1"/>
<circle class="n50" cx="71.2" cy="222.8" r="1.2"/>
<circle class="n50" cx="81.2" cy="209.6" r="1.0"/>
<circle class="n50" cx="62.8" cy="219.6" r="1.4"/>
<circle class="n50" cx="73.8" cy="197.8" r="1.0"/>
<circle class="n50" cx="88.3" cy="210.4" r="1.4"/>
<circle class="n50" cx="71.0" cy="217.7" r="1.2"/>
<circle class="n50" cx="80.7" cy="213.7" r="1.2"/>
<circle class="n50" cx="77.6" cy="218.7" r="1.6"/>
<circle class="n50" cx="77.4" cy="207.7" r="1.4"/>
<circle class="n50" cx="82.8" cy="209.6" r="0.9"/>
<circle class="n50" cx="85.7" cy="209.0" r="1.5"/>
<circle class="n50" cx="92.8" cy="215.8" r="1.3"/>
<circle class="n50" cx="89.0" cy="215.5" r="1.5"/>
<circle class="n50" cx="75.6" cy="212.1" r="1.3"/>
<circle class="n50" cx="94.6" cy="211.3" r="1.3"/>
<circle class="n50" cx="93.0" cy="211.1" r="1.4"/>
<circle class="n50" cx="66.0" cy="213.3" r="1.3"/>
<circle class="n50" cx="87.4" cy="207.3" r="1.0"/>
<circle class="n50" cx="88.9" cy="212.5" r="1.4"/>
<circle class="n50" cx="90.3" cy="212.0" r="1.1"/>
<circle class="n50" cx="86.3" cy="209.7" r="1.0"/>
<circle class="n50" cx="68.5" cy="209.5" r="1.3"/>
<circle class="n50" cx="78.4" cy="221.4" r="1.1"/>
<circle class="n50" cx="61.1" cy="209.2" r="1.5"/>
<circle class="n50" cx="79.5" cy="215.2" r="1.4"/>
<circle class="n50" cx="100.5" cy="220.7" r="1.6"/>
<circle class="n50" cx="87.5" cy="217.1" r="1.0"/>
<circle class="n50" cx="89.0" cy="212.9" r="1.4"/>
<circle class="n50" cx="76.1" cy="218.7" r="1.1"/>
<circle class="n50" cx="71.2" cy="204.5" r="1.5"/>
<circle class="n50" cx="70.7" cy="205.7" r="0.9"/>
<circle class="n50" cx="82.2" cy="210.5" r="1.2"/>
<circle class="n50" cx="73.3" cy="211.5" r="1.2"/>
<circle class="n50" cx="74.9" cy="212.3" r="1.4"/>
<circle class="n50" cx="92.0" cy="223.7" r="1.0"/>
<circle class="n50" cx="65.2" cy="222.6" r="1.4"/>
<circle class="n50" cx="68.4" cy="212.6" r="1.0"/>
<circle class="n50" cx="76.1" cy="214.3" r="1.3"/>
<circle class="n50" cx="80.0" cy="207.5" r="1.5"/>
<circle class="n50" cx="79.8" cy="214.7" r="1.3"/>
<circle class="n50" cx="67.6" cy="205.0" r="1.4"/>
<circle class="n50" cx="82.9" cy="220.9" r="1.4"/>
<circle class="n50" cx="79.8" cy="209.8" r="1.1"/>
<circle class="n50" cx="84.4" cy="216.0" r="1.2"/>
<circle class="n50" cx="70.6" cy="205.2" r="1.3"/>
<circle class="n50" cx="83.4" cy="220.9" r="1.2"/>
<circle class="n50" cx="83.1" cy="216.4" r="1.1"/>
<circle class="n50" cx="74.7" cy="224.2" r="1.6"/>
<circle class="n50" cx="78.9" cy="213.2" r="0.9"/>
<circle class="n50" cx="75.7" cy="203.4" r="1.1"/>
<circle class="n50" cx="94.0" cy="208.3" r="1.0"/>
<circle class="n50" cx="51.1" cy="205.5" r="1.2"/>
<circle class="n50" cx="67.1" cy="222.0" r="1.5"/>
<circle class="n50" cx="64.6" cy="209.2" r="1.3"/>
<circle class="n50" cx="77.4" cy="208.4" r="1.6"/>
<circle class="n50" cx="74.5" cy="216.3" r="1.0"/>
<circle class="n50" cx="77.1" cy="214.3" r="1.6"/>
<circle class="n50" cx="87.9" cy="215.7" r="1.5"/>
<circle class="n50" cx="65.3" cy="209.9" r="1.5"/>
<circle class="n50" cx="72.9" cy="201.2" r="1.2"/>
<circle class="n50" cx="78.9" cy="204.9" r="1.0"/>
<circle class="n50" cx="69.5" cy="200.1" r="1.4"/>
<circle class="n50" cx="84.6" cy="220.2" r="1.0"/>
<circle class="n50" cx="84.2" cy="218.1" r="1.6"/>
<circle class="n50" cx="74.2" cy="210.6" r="1.0"/>
<circle class="n50" cx="64.0" cy="216.4" r="1.2"/>
<circle class="n50" cx="96.4" cy="216.7" r="1.2"/>
<circle class="n50" cx="85.5" cy="216.5" r="1.0"/>
<circle class="n50" cx="85.1" cy="215.9" r="1.0"/>
<circle class="n50" cx="81.7" cy="217.9" r="1.2"/>
<circle class="n50" cx="80.9" cy="213.3" r="1.1"/>
<circle class="n50" cx="89.0" cy="199.9" r="1.3"/>
<circle class="n50" cx="80.9" cy="196.8" r="1.3"/>
<circle class="n50" cx="74.9" cy="220.1" r="1.4"/>
<circle class="n50" cx="87.8" cy="216.3" r="1.3"/>
<circle class="n50" cx="81.6" cy="198.2" r="1.2"/>
<circle class="n50" cx="73.6" cy="213.8" r="1.3"/>
<circle class="n50" cx="72.3" cy="207.7" r="1.4"/>
<circle class="n50" cx="92.2" cy="209.6" r="1.1"/>
<circle class="n50" cx="87.1" cy="197.7" r="1.4"/>
<circle class="n50" cx="100.0" cy="217.3" r="1.4"/>
<circle class="n50" cx="75.9" cy="212.3" r="1.4"/>
<circle class="n50" cx="73.9" cy="217.5" r="1.1"/>
<circle class="n50" cx="84.9" cy="219.1" r="1.1"/>
<circle class="n50" cx="94.2" cy="220.3" r="1.4"/>
<circle class="n50" cx="86.7" cy="222.4" r="0.9"/>
<circle class="n50" cx="85.2" cy="214.5" r="1.1"/>
<circle class="n50" cx="99.1" cy="214.1" r="1.2"/>
<circle class="n50" cx="73.9" cy="209.1" r="1.0"/>
<circle class="n50" cx="69.0" cy="215.9" r="1.3"/>
<circle class="n50" cx="73.9" cy="211.4" r="1.6"/>
<circle class="n50" cx="78.0" cy="206.0" r="1.5"/>
<circle class="n50" cx="84.6" cy="219.8" r="0.9"/>
<circle class="n50" cx="90.8" cy="217.0" r="1.3"/>
<circle class="n50" cx="84.9" cy="197.2" r="1.1"/>
<circle class="n50" cx="95.6" cy="202.0" r="1.6"/>
<circle class="n50" cx="73.1" cy="211.5" r="1.4"/>
<circle class="n50" cx="99.3" cy="205.0" r="1.5"/>
<circle class="n50" cx="73.2" cy="220.0" r="0.9"/>
<circle class="n50" cx="92.2" cy="213.9" r="1.3"/>
<circle class="n50" cx="72.0" cy="216.2" r="1.1"/>
<circle class="n50" cx="84.3" cy="218.3" r="1.2"/>
<circle class="n50" cx="81.5" cy="220.7" r="1.2"/>
<circle class="n50" cx="86.0" cy="211.3" r="1.4"/>
<circle class="n50" cx="88.2" cy="216.5" r="1.2"/>
<circle class="n50" cx="79.0" cy="214.4" r="1.5"/>
<circle class="n50" cx="80.4" cy="217.5" r="1.2"/>
<circle class="n50" cx="83.3" cy="216.1" r="1.1"/>
<circle class="n50" cx="68.5" cy="221.2" r="1.2"/>
<circle class="n50" cx="74.0" cy="216.0" r="1.5"/>
<circle class="n50" cx="65.4" cy="210.1" r="1.6"/>
<circle class="n50" cx="81.1" cy="213.6" r="1.0"/>
<circle class="n50" cx="102.3" cy="206.3" r="1.0"/>
<circle class="n50" cx="88.1" cy="214.8" r="1.0"/>
<circle class="n50" cx="72.7" cy="221.7" r="1.0"/>
<circle class="n50" cx="74.2" cy="209.4" r="1.5"/>
<circle class="n50" cx="90.4" cy="203.3" r="1.4"/>
<circle class="n50" cx="76.4" cy="212.4" r="1.5"/>
<circle class="n50" cx="65.6" cy="210.0" r="1.4"/>
<circle class="n50" cx="71.2" cy="212.9" r="1.1"/>
<circle class="n50" cx="70.9" cy="209.4" r="1.2"/>
<circle class="n50" cx="71.2" cy="213.4" r="1.1"/>
<circle class="n50" cx="87.5" cy="207.0" r="1.3"/>
<circle class="n50" cx="81.7" cy="222.0" r="1.0"/>
<circle class="n50" cx="66.7" cy="211.6" r="1.3"/>
<circle class="n50" cx="75.8" cy="215.9" r="1.2"/>
<circle class="n50" cx="70.1" cy="217.3" r="1.3"/>
<circle class="n50" cx="69.4" cy="212.0" r="1.5"/>
<circle class="n50" cx="66.5" cy="215.6" r="1.6"/>
<circle class="n50" cx="97.8" cy="211.5" r="1.2"/>
<circle class="n50" cx="78.0" cy="210.3" r="1.0"/>
<circle class="n50" cx="86.5" cy="211.6" r="1.6"/>
<circle class="n50" cx="89.3" cy="215.8" r="1.0"/>
<circle class="n50" cx="77.3" cy="205.5" r="1.5"/>
<circle class="n50" cx="86.1" cy="207.6" r="1.0"/>
<circle class="n50" cx="86.2" cy="208.2" r="1.2"/>
<circle class="n50" cx="83.1" cy="209.6" r="1.1"/>
<circle class="n50" cx="101.8" cy="219.7" r="1.1"/>
<circle class="n50" cx="83.7" cy="212.7" r="1.3"/>
<circle class="n50" cx="78.8" cy="211.1" r="1.3"/>
<circle class="n50" cx="87.2" cy="213.8" r="1.4"/>
<circle class="n50" cx="98.1" cy="219.1" r="1.3"/>
<circle class="n50" cx="90.5" cy="208.6" r="1.6"/>
<circle class="n50" cx="76.4" cy="218.9" r="1.4"/>
<circle class="n50" cx="72.8" cy="199.3" r="1.3"/>
<circle class="n50" cx="72.1" cy="207.8" r="1.5"/>
<circle class="n50" cx="74.6" cy="221.5" r="1.6"/>
<circle class="n50" cx="84.7" cy="222.0" r="1.0"/>
<circle class="n50" cx="89.1" cy="214.1" r="1.6"/>
<circle class="n50" cx="59.2" cy="210.5" r="1.5"/>
<circle class="n50" cx="80.8" cy="217.8" r="1.3"/>
<circle class="n50" cx="70.4" cy="210.6" r="1.3"/>
<circle class="n50" cx="87.6" cy="222.0" r="1.2"/>
<circle class="n50" cx="89.8" cy="219.9" r="1.4"/>
<circle class="n50" cx="73.5" cy="217.5" r="1.3"/>
<circle class="n50" cx="76.7" cy="208.1" r="1.3"/>
<circle class="n50" cx="71.9" cy="218.7" r="1.5"/>
<circle class="n50" cx="84.8" cy="211.6" r="1.5"/>
<circle class="n50" cx="65.5" cy="211.7" r="1.6"/>
<circle class="n50" cx="70.2" cy="210.6" r="1.2"/>
<circle class="n50" cx="74.4" cy="212.4" r="1.4"/>
<circle class="n50" cx="92.8" cy="216.0" r="1.0"/>
<circle class="n50" cx="104.1" cy="218.0" r="1.6"/>
<circle class="n50" cx="81.2" cy="218.0" r="1.3"/>
<circle class="n50" cx="69.2" cy="232.9" r="1.1"/>
<circle class="n50" cx="81.7" cy="211.1" r="1.4"/>
<circle class="n50" cx="72.7" cy="219.9" r="1.2"/>
<circle class="n50" cx="85.4" cy="209.3" r="1.3"/>
<circle class="n50" cx="70.3" cy="212.0" r="1.3"/>
<circle class="n50" cx="77.5" cy="206.4" r="1.4"/>
<circle class="n50" cx="80.9" cy="220.2" r="1.2"/>
<circle class="n50" cx="86.0" cy="214.7" r="0.9"/>
<circle class="n50" cx="80.3" cy="213.9" r="1.5"/>
<circle class="n50" cx="93.2" cy="212.5" r="1.5"/>
<circle class="n50" cx="82.2" cy="218.6" r="1.2"/>
<circle class="n50" cx="63.6" cy="210.3" r="1.4"/>
<circle class="n50" cx="89.9" cy="215.5" r="1.4"/>
<circle class="n50" cx="78.2" cy="227.9" r="1.4"/>
<circle class="n50" cx="74.6" cy="212.4" r="1.4"/>
<circle class="n50" cx="95.5" cy="209.6" r="1.0"/>
<circle class="n50" cx="71.5" cy="207.3" r="1.1"/>
<circle class="n50" cx="81.7" cy="218.0" r="1.3"/>
<circle class="n50" cx="74.2" cy="213.6" r="1.5"/>
<circle class="n50" cx="94.0" cy="208.9" r="1.4"/>
<circle class="n50" cx="77.5" cy="208.4" r="1.0"/>
<circle class="n50" cx="83.3" cy="213.4" r="1.1"/>
<circle class="n50" cx="67.6" cy="207.4" r="1.4"/>
<circle class="n50" cx="94.8" cy="225.5" r="1.5"/>
<circle class="n50" cx="70.7" cy="212.1" r="1.3"/>
<circle class="n50" cx="89.7" cy="212.2" r="1.2"/>
<circle class="n50" cx="91.7" cy="212.7" r="1.0"/>
<circle class="n50" cx="92.8" cy="202.7" r="1.0"/>
<circle class="n50" cx="98.4" cy="204.8" r="1.1"/>
<circle class="n50" cx="69.8" cy="211.2" r="1.4"/>
<circle class="n50" cx="84.9" cy="213.1" r="1.0"/>
<circle class="n50" cx="82.3" cy="206.1" r="1.2"/>
<circle class="n50" cx="85.0" cy="223.2" r="1.6"/>
<circle class="n50" cx="91.5" cy="215.9" r="1.5"/>
<circle class="n50" cx="82.0" cy="220.8" r="1.5"/>
<circle class="n50" cx="73.2" cy="220.1" r="1.3"/>
<circle class="n50" cx="80.1" cy="212.0" r="1.4"/>
<circle class="n50" cx="95.8" cy="227.5" r="1.3"/>
<circle class="n50" cx="69.7" cy="214.0" r="1.2"/>
<circle class="n50" cx="81.8" cy="202.3" r="1.4"/>
<circle class="n50" cx="71.6" cy="199.7" r="1.3"/>
<circle class="n50" cx="91.6" cy="213.3" r="1.1"/>
<circle class="n50" cx="65.2" cy="218.4" r="1.3"/>
<circle class="n50" cx="77.7" cy="213.7" r="1.6"/>
<circle class="n50" cx="79.8" cy="223.4" r="1.0"/>
<circle class="n50" cx="82.1" cy="211.5" r="1.2"/>
<circle class="n50" cx="103.7" cy="216.6" r="1.3"/>
<circle class="n50" cx="95.9" cy="217.6" r="1.5"/>
<circle class="n50" cx="71.1" cy="207.3" r="1.2"/>
<circle class="n50" cx="101.7" cy="215.1" r="1.0"/>
<circle class="n50" cx="69.6" cy="215.4" r="1.0"/>
<circle class="n50" cx="63.0" cy="219.7" r="1.2"/>
<circle class="n50" cx="66.6" cy="220.3" r="1.1"/>
<circle class="n50" cx="83.0" cy="219.0" r="0.9"/>
<circle class="n50" cx="86.1" cy="208.9" r="1.1"/>
<circle class="n50" cx="59.8" cy="217.6" r="1.6"/>
<circle class="n50" cx="85.2" cy="219.5" r="1.2"/>
<circle class="n50" cx="78.4" cy="213.5" r="1.2"/>
<circle class="n50" cx="87.8" cy="217.6" r="1.1"/>
<circle class="n50" cx="77.3" cy="217.7" r="1.2"/>
<circle class="n50" cx="89.6" cy="220.1" r="1.3"/>
<circle class="n50" cx="86.4" cy="213.7" r="1.0"/>
<circle class="n50" cx="69.7" cy="216.0" r="1.3"/>
<circle class="n50" cx="94.9" cy="214.4" r="1.5"/>
<circle class="n50" cx="83.0" cy="213.6" r="1.2"/>
<circle class="n50" cx="88.0" cy="209.7" r="1.0"/>
<circle class="n50" cx="93.1" cy="211.3" r="1.1"/>
<circle class="n50" cx="71.6" cy="206.7" r="1.6"/>
<circle class="n50" cx="80.2" cy="212.1" r="1.3"/>
<circle class="n50" cx="73.1" cy="217.2" r="1.5"/>
<circle class="n50" cx="72.0" cy="216.8" r="1.5"/>
<circle class="n50" cx="83.6" cy="217.6" r="1.3"/>
<circle class="n50" cx="84.3" cy="212.6" r="1.4"/>
<circle class="n50" cx="93.8" cy="221.3" r="1.2"/>
<circle class="n50" cx="94.3" cy="210.6" r="1.1"/>
<circle class="n50" cx="80.8" cy="217.7" r="1.2"/>
<circle class="n50" cx="73.0" cy="215.6" r="1.2"/>
<circle class="n50" cx="111.7" cy="208.9" r="1.3"/>
<circle class="n50" cx="101.6" cy="209.1" r="1.6"/>
<circle class="n50" cx="80.0" cy="217.5" r="1.5"/>
<circle class="n50" cx="72.1" cy="213.4" r="1.5"/>
<circle class="n50" cx="76.9" cy="214.8" r="1.1"/>
<circle class="n50" cx="83.7" cy="231.0" r="1.1"/>
<circle class="n50" cx="91.9" cy="216.5" r="1.6"/>
<circle class="n50" cx="90.3" cy="213.9" r="1.2"/>
<circle class="n50" cx="85.2" cy="217.5" r="1.3"/>
<circle class="n50" cx="78.6" cy="209.7" r="0.9"/>
<circle class="n50" cx="82.6" cy="212.2" r="1.5"/>
<circle class="n50" cx="78.0" cy="215.8" r="1.4"/>
<circle class="n50" cx="81.7" cy="208.5" r="1.5"/>
<circle class="n50" cx="80.0" cy="213.1" r="1.0"/>
<circle class="n50" cx="86.0" cy="212.2" r="1.0"/>
<circle class="n50" cx="62.9" cy="213.9" r="1.2"/>
<circle class="n50" cx="77.7" cy="203.0" r="1.5"/>
<circle class="n50" cx="78.2" cy="223.5" r="1.0"/>
<circle class="n50" cx="70.1" cy="212.7" r="0.9"/>
<circle class="n50" cx="79.3" cy="216.4" r="1.4"/>
<circle class="n50" cx="70.9" cy="207.2" r="1.4"/>
<circle class="n50" cx="74.6" cy="205.7" r="1.3"/>
<circle class="n50" cx="78.2" cy="213.4" r="1.2"/>
<circle class="n50" cx="78.6" cy="211.4" r="1.0"/>
<circle class="n50" cx="75.5" cy="217.0" r="1.0"/>
<circle class="n50" cx="91.6" cy="207.9" r="1.0"/>
<circle class="n50" cx="82.9" cy="207.5" r="1.1"/>
<circle class="n50" cx="84.1" cy="215.2" r="1.5"/>
<circle class="n50" cx="83.2" cy="217.3" r="1.3"/>
<circle class="n50" cx="74.6" cy="218.6" r="1.3"/>
<circle class="n50" cx="72.5" cy="213.1" r="1.6"/>
<circle class="n50" cx="89.1" cy="214.8" r="1.1"/>
<circle class="n50" cx="77.6" cy="208.6" r="1.2"/>
<circle class="n50" cx="64.0" cy="220.9" r="1.5"/>
<circle class="n50" cx="59.9" cy="219.9" r="1.3"/>
<circle class="n50" cx="83.1" cy="219.7" r="1.1"/>
<circle class="n50" cx="73.9" cy="203.9" r="1.0"/>
<circle class="n50" cx="80.4" cy="218.3" r="1.2"/>
<circle class="n50" cx="75.7" cy="209.0" r="1.1"/>
<circle class="n50" cx="77.1" cy="216.1" r="1.0"/>
<circle class="n50" cx="79.3" cy="215.7" r="1.1"/>
<circle class="n50" cx="69.0" cy="220.3" r="1.1"/>
<circle class="n50" cx="80.8" cy="212.1" r="1.5"/>
<circle class="n50" cx="90.5" cy="211.2" r="1.0"/>
<circle class="n50" cx="87.7" cy="207.4" r="1.3"/>
<circle class="n50" cx="64.3" cy="206.3" r="1.4"/>
<circle class="n50" cx="68.1" cy="216.6" r="1.1"/>
<circle class="n50" cx="68.2" cy="207.9" r="1.0"/>
<circle class="n50" cx="78.6" cy="217.1" r="1.3"/>
<circle class="n50" cx="89.2" cy="211.0" r="1.2"/>
<circle class="n50" cx="84.1" cy="209.9" r="1.2"/>
<circle class="n50" cx="64.2" cy="218.7" r="1.0"/>
<circle class="n50" cx="81.5" cy="218.1" r="1.6"/>
<circle class="n50" cx="88.8" cy="207.4" r="1.1"/>
<circle class="n50" cx="76.7" cy="212.2" r="1.4"/>
<circle class="n50" cx="99.3" cy="213.1" r="1.6"/>
<circle class="n50" cx="74.7" cy="217.0" r="1.1"/>
<circle class="n50" cx="92.3" cy="208.9" r="1.6"/>
<circle class="n50" cx="103.6" cy="210.7" r="1.1"/>
<circle class="n50" cx="68.7" cy="212.5" r="1.2"/>
<circle class="n50" cx="77.9" cy="217.1" r="1.2"/>
<circle class="n50" cx="86.5" cy="218.3" r="1.1"/>
<circle class="n50" cx="111.8" cy="210.0" r="1.1"/>
<circle class="n50" cx="63.8" cy="223.3" r="1.0"/>
<circle class="n50" cx="86.4" cy="215.6" r="1.5"/>
<circle class="n50" cx="83.7" cy="208.5" r="1.1"/>
<circle class="n50" cx="76.9" cy="204.1" r="1.2"/>
<circle class="n50" cx="73.0" cy="210.2" r="1.2"/>
<circle class="n50" cx="76.0" cy="199.3" r="1.4"/>
<circle class="n50" cx="78.1" cy="214.2" r="1.0"/>
<circle class="n50" cx="68.8" cy="216.3" r="1.5"/>
<circle class="n50" cx="96.1" cy="220.5" r="1.0"/>
<circle class="n50" cx="70.4" cy="216.0" r="1.4"/>
<circle class="n50" cx="76.9" cy="203.2" r="1.5"/>
<circle class="n50" cx="74.6" cy="211.5" r="1.1"/>
<circle class="n50" cx="77.0" cy="217.1" r="1.1"/>
<circle class="n50" cx="81.9" cy="200.5" r="1.5"/>
<circle class="n50" cx="73.7" cy="208.3" r="1.4"/>
<circle class="n50" cx="78.7" cy="216.7" r="1.0"/>
<circle class="n50" cx="97.6" cy="213.4" r="1.0"/>
<circle class="n50" cx="91.1" cy="201.5" r="1.5"/>
<circle class="n50" cx="78.2" cy="210.2" r="1.5"/>
<circle class="n50" cx="89.7" cy="213.2" r="1.3"/>
<circle class="n50" cx="73.6" cy="225.1" r="1.5"/>
<circle class="n50" cx="83.2" cy="210.5" r="1.2"/>
<circle class="n50" cx="67.3" cy="207.8" r="0.9"/>
<circle class="n50" cx="70.0" cy="214.5" r="1.1"/>
<circle class="n50" cx="72.7" cy="215.0" r="1.1"/>
<circle class="n50" cx="92.9" cy="216.4" r="1.5"/>
<circle class="n50" cx="83.2" cy="221.4" r="1.0"/>
<circle class="n50" cx="86.3" cy="212.7" r="1.2"/>
<circle class="n50" cx="82.5" cy="205.1" r="1.6"/>
<circle class="n50" cx="84.5" cy="213.3" r="1.1"/>
<circle class="n50" cx="85.0" cy="213.2" r="1.3"/>
<circle class="n50" cx="88.3" cy="218.7" r="1.4"/>
<circle class="n50" cx="82.5" cy="218.0" r="1.5"/>
<circle class="n50" cx="72.2" cy="208.9" r="1.6"/>
<circle class="n50" cx="73.4" cy="217.6" r="1.6"/>
<circle class="n50" cx="92.7" cy="218.9" r="1.3"/>
<circle class="n50" cx="94.6" cy="212.0" r="1.6"/>
<circle class="n50" cx="86.4" cy="218.6" r="0.9"/>
<circle class="n50" cx="65.2" cy="214.1" r="0.9"/>
<circle class="n50" cx="96.1" cy="214.1" r="1.4"/>
<circle class="n50" cx="84.1" cy="212.3" r="1.3"/>
<circle class="n50" cx="80.3" cy="217.8" r="1.2"/>
<circle class="n50" cx="81.2" cy="229.8" r="1.4"/>
<circle class="n50" cx="77.4" cy="214.4" r="1.5"/>
<circle class="n50" cx="97.9" cy="206.4" r="1.6"/>
<circle class="n50" cx="97.2" cy="211.8" r="1.4"/>
<circle class="n50" cx="70.8" cy="209.8" r="1.4"/>
<circle class="n50" cx="79.2" cy="215.0" r="1.4"/>
<circle class="n50" cx="83.9" cy="212.3" r="1.2"/>
<circle class="n50" cx="93.2" cy="227.8" r="1.2"/>
<circle class="n50" cx="57.7" cy="217.4" r="1.1"/>
<circle class="n50" cx="89.9" cy="223.9" r="1.3"/>
<circle class="n50" cx="97.0" cy="209.0" r="1.1"/>
<circle class="n50" cx="77.8" cy="211.9" r="0.9"/>
<circle class="n50" cx="80.5" cy="225.0" r="1.6"/>
<circle class="n50" cx="92.9" cy="203.4" r="1.3"/>
<circle class="n50" cx="84.5" cy="213.9" r="1.3"/>
<circle class="n50" cx="68.1" cy="204.1" r="1.4"/>
<circle class="n50" cx="69.7" cy="222.0" r="1.1"/>
<circle class="n50" cx="71.0" cy="204.9" r="1.2"/>
<circle class="n50" cx="67.2" cy="211.4" r="1.6"/>
<circle class="n50" cx="80.8" cy="212.1" r="1.1"/>
<circle class="n50" cx="75.9" cy="203.3" r="1.2"/>
<circle class="n50" cx="81.3" cy="227.4" r="1.5"/>
<circle class="n50" cx="87.7" cy="212.1" r="1.1"/>
<circle class="n50" cx="98.0" cy="222.6" r="1.0"/>
<circle class="n50" cx="82.9" cy="209.1" r="1.0"/>
<circle class="n50" cx="62.9" cy="204.6" r="1.0"/>
<circle class="n50" cx="94.2" cy="214.3" r="1.1"/>
<circle class="n50" cx="79.7" cy="214.2" r="0.9"/>
<circle class="n50" cx="92.1" cy="230.0" r="0.9"/>
<circle class="n50" cx="76.5" cy="207.0" r="1.4"/>
<circle class="n50" cx="83.8" cy="204.0" r="1.4"/>
<circle class="n50" cx="79.5" cy="209.0" r="1.4"/>
<circle class="n50" cx="80.6" cy="214.8" r="1.2"/>
<circle class="n50" cx="93.1" cy="216.3" r="1.2"/>
<circle class="n50" cx="74.5" cy="208.7" r="1.5"/>
<circle class="n50" cx="82.4" cy="211.0" r="1.4"/>
<circle class="n50" cx="83.0" cy="216.2" r="1.4"/>
<circle class="n50" cx="77.1" cy="219.4" r="1.5"/>
<circle class="n50" cx="59.7" cy="209.6" r="1.3"/>
<circle class="n50" cx="84.2" cy="213.8" r="1.6"/>
<circle class="n50" cx="53.5" cy="197.0" r="1.3"/>
<circle class="n50" cx="66.4" cy="207.4" r="1.5"/>
<circle class="n50" cx="76.4" cy="215.5" r="1.3"/>
<circle class="n50" cx="85.0" cy="213.0" r="1.6"/>
<circle class="n50" cx="89.1" cy="212.0" r="1.3"/>
<circle class="n45" cx="74.2" cy="201.3" r="1.0"/>
<circle class="n45" cx="93.4" cy="210.6" r="0.9"/>
<circle class="n45" cx="99.7" cy="210.7" r="1.1"/>
<circle class="n45" cx="50.4" cy="209.5" r="0.9"/>
<circle class="n45" cx="62.6" cy="211.9" r="0.9"/>
<circle class="n45" cx="75.4" cy="214.7" r="1.0"/>
<circle class="n45" cx="95.6" cy="214.2" r="1.1"/>
<circle class="n45" cx="98.5" cy="228.4" r="0.8"/>
<circle class="n45" cx="103.2" cy="202.8" r="1.3"/>
<circle class="n45" cx="104.5" cy="198.1" r="0.9"/>
<circle class="n45" cx="77.4" cy="213.7" r="1.0"/>
<circle class="n45" cx="70.1" cy="200.8" r="0.9"/>
<circle class="n45" cx="94.7" cy="208.9" r="1.3"/>
<circle class="n45" cx="79.5" cy="209.9" r="1.2"/>
<circle class="n45" cx="83.2" cy="204.1" r="0.9"/>
<circle class="n45" cx="78.2" cy="216.9" r="1.2"/>
<circle class="n45" cx="77.8" cy="215.7" r="1.1"/>
<circle class="n45" cx="94.6" cy="211.7" r="1.0"/>
<circle class="n45" cx="69.8" cy="215.4" r="1.3"/>
<circle class="n45" cx="60.3" cy="217.5" r="1.2"/>
<circle class="n45" cx="73.8" cy="208.1" r="0.9"/>
<circle class="n45" cx="84.1" cy="215.3" r="1.3"/>
<circle class="n45" cx="78.8" cy="211.7" r="1.1"/>
<circle class="n45" cx="81.0" cy="210.5" r="1.1"/>
<circle class="n45" cx="57.1" cy="206.8" r="1.0"/>
<circle class="n45" cx="71.4" cy="224.4" r="1.0"/>
<circle class="n45" cx="96.6" cy="213.1" r="0.8"/>
<circle class="n45" cx="80.5" cy="199.2" r="1.2"/>
<circle class="n45" cx="73.9" cy="214.5" r="1.1"/>
<circle class="n45" cx="97.2" cy="190.2" r="1.2"/>
<circle class="n45" cx="75.4" cy="212.7" r="1.0"/>
<circle class="n45" cx="92.3" cy="216.6" r="1.2"/>
<circle class="n45" cx="85.4" cy="221.8" r="0.9"/>
<circle class="n45" cx="87.8" cy="212.2" r="1.3"/>
<circle class="n45" cx="95.9" cy="204.9" r="1.2"/>
<circle class="n45" cx="111.6" cy="226.0" r="1.0"/>
<circle class="n45" cx="99.0" cy="218.7" r="1.1"/>
<circle class="n45" cx="71.6" cy="220.8" r="0.9"/>
<circle class="n45" cx="68.2" cy="208.5" r="1.1"/>
<circle class="n45" cx="78.3" cy="215.5" r="1.3"/>
<circle class="n45" cx="80.3" cy="196.5" r="1.2"/>
<circle class="n45" cx="91.5" cy="214.3" r="1.2"/>
<circle class="n45" cx="82.9" cy="193.7" r="1.2"/>
<circle class="n45" cx="85.1" cy="202.3" r="0.9"/>
<circle class="n45" cx="60.5" cy="198.8" r="0.9"/>
<circle class="n45" cx="81.8" cy="219.6" r="1.2"/>
<circle class="n45" cx="89.3" cy="217.8" r="0.9"/>
<circle class="n45" cx="104.4" cy="205.8" r="1.0"/>
<circle class="n45" cx="92.6" cy="220.3" r="0.8"/>
<circle class="n45" cx="83.7" cy="211.1" r="0.9"/>
<circle class="c75" cx="87.1" cy="212.4" r="1.2"/>
<circle class="c75" cx="70.6" cy="205.1" r="0.9"/>
<circle class="c75" cx="77.0" cy="214.8" r="1.3"/>
<circle class="c75" cx="79.5" cy="210.6" r="1.0"/>
<circle class="c75" cx="79.7" cy="212.4" r="1.2"/>
<circle class="c75" cx="91.4" cy="214.9" r="1.5"/>
<circle class="c75" cx="87.4" cy="206.6" r="1.2"/>
<circle class="c75" cx="78.8" cy="215.4" r="1.3"/>
<circle class="c75" cx="79.0" cy="215.6" r="1.1"/>
<circle class="c75" cx="70.7" cy="221.6" r="1.3"/>
<circle class="c75" cx="73.3" cy="216.7" r="1.0"/>
<circle class="c75" cx="88.5" cy="214.5" r="1.0"/>
<circle class="c75" cx="68.5" cy="210.1" r="1.0"/>
<circle class="c75" cx="83.8" cy="212.9" r="1.3"/>
<circle class="c75" cx="75.2" cy="206.7" r="1.0"/>
<circle class="c75" cx="77.8" cy="214.8" r="1.0"/>
<circle class="c75" cx="79.1" cy="212.1" r="1.3"/>
<circle class="c75" cx="91.7" cy="211.3" r="1.1"/>
<circle class="c75" cx="82.0" cy="213.0" r="1.3"/>
<circle class="c75" cx="83.1" cy="215.0" r="1.0"/>
<circle class="c75" cx="86.4" cy="214.1" r="1.0"/>
<circle class="c75" cx="65.4" cy="207.6" r="1.2"/>
<circle class="c75" cx="92.0" cy="218.9" r="1.0"/>
<circle class="c75" cx="68.9" cy="213.1" r="1.0"/>
<circle class="c75" cx="75.1" cy="214.4" r="0.9"/>
<circle class="c75" cx="84.3" cy="212.9" r="1.5"/>
<circle class="c75" cx="71.8" cy="208.7" r="1.2"/>
<circle class="c75" cx="68.5" cy="214.1" r="1.3"/>
<circle class="c75" cx="87.4" cy="211.2" r="1.4"/>
<circle class="c75" cx="77.8" cy="209.1" r="1.5"/>
<circle class="c75" cx="86.0" cy="213.5" r="1.3"/>
<circle class="c75" cx="83.0" cy="216.3" r="1.5"/>
<circle class="c75" cx="78.6" cy="215.6" r="1.2"/>
<circle class="c75" cx="90.9" cy="213.8" r="1.1"/>
<circle class="c75" cx="78.2" cy="210.2" r="1.0"/>
<circle class="c75" cx="93.0" cy="211.4" r="1.1"/>
<circle class="c75" cx="74.1" cy="212.3" r="1.3"/>
<circle class="c75" cx="73.4" cy="206.5" r="1.1"/>
<circle class="c75" cx="75.5" cy="216.5" r="1.5"/>
<circle class="c75" cx="81.5" cy="213.3" r="1.0"/>
<circle class="c75" cx="72.6" cy="207.2" r="1.5"/>
<circle class="c75" cx="75.4" cy="219.6" r="1.2"/>
<circle class="c75" cx="89.3" cy="221.5" r="1.1"/>
<circle class="c75" cx="81.2" cy="207.1" r="1.0"/>
<circle class="c75" cx="87.5" cy="212.1" r="1.0"/>
<circle class="c75" cx="82.4" cy="209.2" r="1.0"/>
<circle class="c75" cx="76.2" cy="216.3" r="0.9"/>
<circle class="c75" cx="75.0" cy="206.8" r="1.1"/>
<circle class="c75" cx="81.2" cy="215.1" r="1.4"/>
<circle class="c75" cx="80.5" cy="214.6" r="1.0"/>
<circle class="c75" cx="76.6" cy="217.8" r="0.9"/>
<circle class="c75" cx="76.4" cy="204.4" r="1.2"/>
<circle class="c75" cx="89.4" cy="209.5" r="1.1"/>
<circle class="c75" cx="86.8" cy="211.9" r="1.1"/>
<circle class="c75" cx="82.0" cy="217.1" r="0.9"/>
<circle class="c75" cx="77.8" cy="213.3" r="1.2"/>
<circle class="c75" cx="77.3" cy="216.2" r="1.1"/>
<circle class="c75" cx="93.0" cy="214.9" r="1.5"/>
<circle class="c75" cx="76.2" cy="208.9" r="1.5"/>
<circle class="c75" cx="95.0" cy="212.3" r="1.1"/>
<circle class="c75" cx="75.8" cy="211.1" r="1.5"/>
<circle class="c75" cx="70.4" cy="211.5" r="1.2"/>
<circle class="c75" cx="93.1" cy="208.8" r="1.0"/>
<circle class="c75" cx="79.3" cy="216.2" r="1.5"/>
<circle class="c75" cx="89.9" cy="214.2" r="1.1"/>
<circle class="c75" cx="82.9" cy="204.4" r="1.2"/>
<circle class="c75" cx="78.5" cy="216.1" r="1.3"/>
<circle class="c75" cx="86.1" cy="210.3" r="1.0"/>
<circle class="c75" cx="78.1" cy="206.2" r="1.2"/>
<circle class="c75" cx="82.8" cy="218.2" r="1.0"/>
<circle class="h75" cx="54.2" cy="220.3" r="1.1"/>
<circle class="h75" cx="102.0" cy="219.9" r="1.2"/>
<circle class="h75" cx="73.1" cy="211.4" r="1.2"/>
<circle class="h75" cx="74.7" cy="210.6" r="0.8"/>
<circle class="h75" cx="78.8" cy="220.6" r="1.3"/>
<circle class="h75" cx="83.8" cy="223.4" r="0.9"/>
<circle class="h75" cx="75.4" cy="211.5" r="1.0"/>
<circle class="h75" cx="79.0" cy="214.3" r="1.1"/>
<circle class="h75" cx="78.3" cy="209.2" r="1.2"/>
<circle class="h75" cx="66.7" cy="212.9" r="1.0"/>
<circle class="x85" cx="76.7" cy="209.6" r="1.4"/>
<circle class="x85" cx="95.3" cy="224.5" r="0.9"/>
<circle class="x85" cx="73.9" cy="215.4" r="1.2"/>
<circle class="x85" cx="79.1" cy="217.6" r="1.3"/>
<circle class="x85" cx="90.8" cy="219.0" r="1.0"/>
<circle class="x85" cx="79.4" cy="211.9" r="1.1"/>
<circle class="x85" cx="91.3" cy="219.0" r="1.4"/>
<circle class="x85" cx="95.8" cy="208.3" r="1.2"/>
<circle class="x85" cx="89.8" cy="209.6" r="1.3"/>
<circle class="x85" cx="78.8" cy="212.5" r="1.2"/>
<circle class="x85" cx="99.9" cy="225.4" r="1.0"/>
<circle class="x85" cx="86.9" cy="217.5" r="1.0"/>
<circle class="y75" cx="97.3" cy="218.5" r="1.3"/>
<circle class="y75" cx="71.2" cy="214.0" r="1.0"/>
<circle class="y75" cx="88.5" cy="209.1" r="1.4"/>
<circle class="y75" cx="85.6" cy="211.2" r="1.1"/>
<circle class="y75" cx="92.4" cy="212.3" r="1.3"/>
<circle class="y75" cx="69.3" cy="214.8" r="1.2"/>
<circle class="o60" cx="84.0" cy="209.9" r="0.9"/>
<circle class="o60" cx="86.8" cy="217.0" r="1.0"/>
<circle class="o60" cx="67.4" cy="221.1" r="1.2"/>
<circle class="o60" cx="79.8" cy="213.5" r="1.2"/>
<circle class="o60" cx="82.0" cy="211.0" r="1.0"/>
<circle class="o60" cx="80.7" cy="217.2" r="1.1"/>
<circle class="a70" cx="62.4" cy="212.7" r="0.9"/>
<circle class="a70" cx="86.5" cy="219.9" r="1.2"/>
<circle class="a70" cx="80.5" cy="212.3" r="1.1"/>
<circle class="p80" cx="87.5" cy="215.5" r="1.8"/>
<circle class="c75" cx="86.0" cy="212.0" r="1.6"/>
<circle class="n45" cx="84.6" cy="189.3" r="1.1"/>
<circle class="n45" cx="122.9" cy="211.4" r="1.1"/>
<circle class="n45" cx="117.3" cy="216.7" r="0.9"/>
<circle class="n45" cx="134.7" cy="204.2" r="1.2"/>
<circle class="n45" cx="78.0" cy="216.3" r="1.0"/>
<circle class="n45" cx="109.6" cy="193.3" r="1.3"/>
<circle class="n45" cx="117.5" cy="199.2" r="1.4"/>
<circle class="n45" cx="119.9" cy="189.1" r="1.1"/>
<circle class="n45" cx="114.9" cy="184.9" r="0.8"/>
<circle class="n45" cx="119.1" cy="190.6" r="1.2"/>
<circle class="n45" cx="60.8" cy="179.3" r="1.0"/>
<circle class="n45" cx="105.3" cy="188.9" r="1.4"/>
<circle class="n45" cx="97.4" cy="221.6" r="0.8"/>
<circle class="n45" cx="78.0" cy="200.4" r="1.2"/>
<circle class="n45" cx="114.8" cy="187.6" r="1.3"/>
<circle class="n45" cx="103.6" cy="214.7" r="0.8"/>
<circle class="n45" cx="86.5" cy="210.8" r="1.3"/>
<circle class="n45" cx="81.3" cy="175.3" r="0.9"/>
<circle class="n45" cx="119.3" cy="180.5" r="1.3"/>
<circle class="n45" cx="55.9" cy="214.8" r="1.3"/>
<circle class="n45" cx="110.1" cy="191.7" r="1.1"/>
<circle class="n45" cx="87.3" cy="193.0" r="1.2"/>
<circle class="n45" cx="115.1" cy="182.9" r="1.4"/>
<circle class="n45" cx="154.7" cy="174.7" r="0.9"/>
<circle class="n45" cx="134.8" cy="206.6" r="1.1"/>
<circle class="h75" cx="152.1" cy="198.8" r="1.2"/>
<circle class="h75" cx="110.3" cy="196.3" r="1.1"/>
<circle class="h75" cx="103.3" cy="167.5" r="0.9"/>
<circle class="h75" cx="133.8" cy="169.8" r="0.8"/>
<circle class="h75" cx="104.9" cy="184.4" r="0.8"/>
<circle class="h75" cx="82.8" cy="173.0" r="1.2"/>
<circle class="n50" cx="166.0" cy="181.6" r="0.6"/>
<circle class="n50" cx="160.3" cy="169.9" r="0.7"/>
<circle class="n50" cx="164.1" cy="168.1" r="0.7"/>
<circle class="n50" cx="186.9" cy="176.6" r="0.8"/>
<circle class="n50" cx="156.4" cy="181.2" r="1.0"/>
<circle class="n50" cx="154.7" cy="174.5" r="1.1"/>
<circle class="n50" cx="163.9" cy="178.4" r="0.8"/>
<circle class="n50" cx="155.8" cy="176.2" r="0.8"/>
<circle class="n50" cx="158.8" cy="174.5" r="0.7"/>
<circle class="n50" cx="158.8" cy="183.2" r="1.0"/>
<circle class="n50" cx="151.7" cy="174.9" r="0.7"/>
<circle class="n50" cx="179.9" cy="180.1" r="1.0"/>
<circle class="n50" cx="155.9" cy="167.9" r="0.9"/>
<circle class="n50" cx="181.3" cy="173.8" r="0.9"/>
<circle class="n50" cx="153.5" cy="180.6" r="0.8"/>
<circle class="n50" cx="152.6" cy="172.1" r="0.7"/>
<circle class="n50" cx="167.5" cy="162.0" r="0.8"/>
<circle class="n50" cx="160.9" cy="179.4" r="0.8"/>
<circle class="n50" cx="175.1" cy="178.4" r="0.9"/>
<circle class="n50" cx="172.9" cy="173.2" r="1.0"/>
<circle class="n50" cx="194.0" cy="175.6" r="0.8"/>
<circle class="n50" cx="126.5" cy="173.0" r="0.6"/>
<circle class="n50" cx="150.9" cy="177.3" r="0.8"/>
<circle class="n50" cx="163.7" cy="181.6" r="0.9"/>
<circle class="n50" cx="161.5" cy="176.9" r="1.1"/>
<circle class="n50" cx="163.6" cy="174.5" r="0.9"/>
<circle class="n50" cx="197.5" cy="172.1" r="0.9"/>
<circle class="n50" cx="135.2" cy="174.1" r="0.8"/>
<circle class="n50" cx="173.0" cy="172.0" r="0.7"/>
<circle class="n50" cx="161.3" cy="180.8" r="0.7"/>
<circle class="n50" cx="164.4" cy="168.7" r="1.0"/>
<circle class="n50" cx="178.2" cy="171.5" r="0.8"/>
<circle class="n50" cx="163.5" cy="177.1" r="0.7"/>
<circle class="n50" cx="174.4" cy="177.1" r="1.0"/>
<circle class="n50" cx="180.9" cy="176.6" r="0.8"/>
<circle class="n50" cx="179.7" cy="172.5" r="0.7"/>
<circle class="n50" cx="140.2" cy="176.3" r="0.9"/>
<circle class="n50" cx="155.8" cy="166.5" r="0.7"/>
<circle class="n50" cx="147.5" cy="165.9" r="0.9"/>
<circle class="n50" cx="154.1" cy="167.4" r="0.7"/>
<circle class="n50" cx="161.7" cy="177.4" r="0.9"/>
<circle class="n50" cx="191.0" cy="183.3" r="1.0"/>
<circle class="n50" cx="155.9" cy="172.5" r="0.8"/>
<circle class="n50" cx="160.3" cy="171.8" r="0.9"/>
<circle class="n50" cx="161.9" cy="173.4" r="1.1"/>
<circle class="n50" cx="183.4" cy="186.0" r="0.8"/>
<circle class="n50" cx="156.9" cy="176.5" r="0.9"/>
<circle class="n50" cx="169.9" cy="175.8" r="1.1"/>
<circle class="n50" cx="174.7" cy="171.8" r="0.6"/>
<circle class="n50" cx="171.5" cy="178.2" r="0.8"/>
<circle class="n50" cx="137.9" cy="183.0" r="0.7"/>
<circle class="n50" cx="147.2" cy="176.4" r="0.9"/>
<circle class="n50" cx="172.7" cy="170.4" r="0.7"/>
<circle class="n50" cx="141.0" cy="183.1" r="0.9"/>
<circle class="n50" cx="160.9" cy="175.1" r="1.0"/>
<circle class="n50" cx="144.3" cy="185.9" r="1.0"/>
<circle class="n50" cx="168.8" cy="168.9" r="0.9"/>
<circle class="n50" cx="163.0" cy="174.4" r="0.9"/>
<circle class="n50" cx="143.6" cy="176.9" r="0.7"/>
<circle class="n50" cx="160.3" cy="164.7" r="0.8"/>
<circle class="n50" cx="149.8" cy="175.8" r="0.7"/>
<circle class="n50" cx="156.3" cy="178.9" r="0.8"/>
<circle class="n50" cx="179.6" cy="174.5" r="0.9"/>
<circle class="n50" cx="167.1" cy="177.9" r="0.8"/>
<circle class="n50" cx="167.8" cy="176.3" r="0.8"/>
<circle class="n50" cx="183.2" cy="170.2" r="0.6"/>
<circle class="n50" cx="164.8" cy="179.6" r="0.7"/>
<circle class="n50" cx="180.3" cy="170.7" r="0.9"/>
<circle class="n50" cx="168.6" cy="173.4" r="0.8"/>
<circle class="n50" cx="166.9" cy="170.8" r="0.8"/>
<circle class="n50" cx="158.8" cy="179.0" r="0.9"/>
<circle class="n50" cx="152.8" cy="172.3" r="0.9"/>
<circle class="n50" cx="150.2" cy="172.3" r="0.8"/>
<circle class="n50" cx="151.5" cy="162.3" r="0.6"/>
<circle class="n50" cx="170.2" cy="173.5" r="1.0"/>
<circle class="n50" cx="168.7" cy="181.1" r="0.9"/>
<circle class="n50" cx="152.7" cy="162.6" r="0.7"/>
<circle class="n50" cx="179.2" cy="177.3" r="0.7"/>
<circle class="n50" cx="155.3" cy="174.9" r="1.1"/>
<circle class="n50" cx="158.5" cy="164.7" r="1.0"/>
<circle class="n50" cx="145.9" cy="172.6" r="1.0"/>
<circle class="n50" cx="152.8" cy="180.8" r="0.8"/>
<circle class="n50" cx="174.7" cy="175.0" r="0.8"/>
<circle class="n50" cx="169.2" cy="177.2" r="0.9"/>
<circle class="n50" cx="155.4" cy="181.7" r="0.7"/>
<circle class="n50" cx="179.3" cy="173.2" r="1.1"/>
<circle class="n50" cx="162.7" cy="180.3" r="1.0"/>
<circle class="n50" cx="164.5" cy="167.7" r="0.8"/>
<circle class="n50" cx="177.0" cy="170.0" r="0.9"/>
<circle class="n50" cx="169.5" cy="183.8" r="0.8"/>
<circle class="n50" cx="159.3" cy="183.2" r="1.1"/>
<circle class="n50" cx="150.1" cy="180.7" r="0.8"/>
<circle class="n50" cx="180.0" cy="166.2" r="0.9"/>
<circle class="n50" cx="133.5" cy="173.8" r="0.8"/>
<circle class="n50" cx="155.7" cy="169.8" r="0.8"/>
<circle class="n50" cx="141.3" cy="186.6" r="0.9"/>
<circle class="n50" cx="156.1" cy="167.1" r="0.6"/>
<circle class="n50" cx="174.4" cy="167.6" r="1.0"/>
<circle class="n50" cx="159.3" cy="171.6" r="0.6"/>
<circle class="n50" cx="158.1" cy="177.2" r="0.8"/>
<circle class="n50" cx="162.9" cy="171.7" r="1.1"/>
<circle class="n50" cx="188.6" cy="173.4" r="0.9"/>
<circle class="n50" cx="181.1" cy="177.0" r="1.0"/>
<circle class="n50" cx="166.5" cy="175.4" r="0.7"/>
<circle class="n50" cx="155.4" cy="164.0" r="0.6"/>
<circle class="n50" cx="158.5" cy="167.8" r="1.0"/>
<circle class="n50" cx="168.0" cy="185.0" r="1.1"/>
<circle class="n50" cx="160.6" cy="175.5" r="0.9"/>
<circle class="n50" cx="162.1" cy="186.1" r="1.0"/>
<circle class="n50" cx="150.4" cy="184.0" r="1.0"/>
<circle class="n50" cx="146.3" cy="181.9" r="1.0"/>
<circle class="n50" cx="149.7" cy="175.7" r="0.9"/>
<circle class="n50" cx="166.7" cy="184.5" r="0.8"/>
<circle class="n50" cx="152.0" cy="172.6" r="0.8"/>
<circle class="n50" cx="195.9" cy="188.7" r="1.0"/>
<circle class="n50" cx="170.9" cy="178.9" r="1.0"/>
<circle class="n50" cx="172.2" cy="178.9" r="0.6"/>
<circle class="n50" cx="176.6" cy="173.1" r="0.8"/>
<circle class="n50" cx="150.7" cy="172.1" r="0.8"/>
<circle class="n50" cx="149.1" cy="174.0" r="0.8"/>
<circle class="n50" cx="161.1" cy="172.4" r="0.7"/>
<circle class="n50" cx="171.6" cy="170.4" r="0.7"/>
<circle class="n50" cx="171.2" cy="169.1" r="0.9"/>
<circle class="n50" cx="185.1" cy="176.7" r="0.7"/>
<circle class="n50" cx="182.1" cy="182.7" r="0.7"/>
<circle class="n50" cx="177.8" cy="187.3" r="0.7"/>
<circle class="n50" cx="179.0" cy="180.2" r="1.0"/>
<circle class="n50" cx="168.1" cy="175.0" r="0.9"/>
<circle class="n50" cx="175.7" cy="179.3" r="0.8"/>
<circle class="n50" cx="161.4" cy="185.9" r="0.8"/>
<circle class="n50" cx="159.7" cy="176.5" r="1.0"/>
<circle class="n50" cx="177.0" cy="181.7" r="0.7"/>
<circle class="n50" cx="144.3" cy="178.1" r="0.8"/>
<circle class="n50" cx="183.0" cy="176.6" r="0.8"/>
<circle class="n50" cx="188.9" cy="172.4" r="0.7"/>
<circle class="n50" cx="159.3" cy="180.0" r="0.7"/>
<circle class="n50" cx="175.0" cy="170.9" r="1.0"/>
<circle class="n50" cx="167.8" cy="169.8" r="1.0"/>
<circle class="n50" cx="153.3" cy="177.8" r="1.0"/>
<circle class="n50" cx="170.4" cy="181.6" r="0.7"/>
<circle class="n50" cx="172.5" cy="181.3" r="0.8"/>
<circle class="n50" cx="178.7" cy="180.8" r="0.6"/>
<circle class="n50" cx="161.7" cy="174.0" r="0.6"/>
<circle class="n50" cx="167.7" cy="175.0" r="0.7"/>
<circle class="n50" cx="158.2" cy="182.5" r="0.9"/>
<circle class="n50" cx="178.7" cy="188.0" r="0.6"/>
<circle class="n50" cx="164.7" cy="159.8" r="1.1"/>
<circle class="n50" cx="176.9" cy="183.0" r="0.6"/>
<circle class="n50" cx="157.5" cy="177.1" r="1.1"/>
<circle class="n50" cx="167.5" cy="175.4" r="0.9"/>
<circle class="n50" cx="154.6" cy="171.4" r="0.6"/>
<circle class="n50" cx="156.6" cy="172.0" r="1.0"/>
<circle class="n50" cx="180.0" cy="168.6" r="0.8"/>
<circle class="n50" cx="163.7" cy="177.3" r="1.0"/>
<circle class="n50" cx="164.9" cy="169.9" r="0.9"/>
<circle class="n50" cx="175.2" cy="174.6" r="0.9"/>
<circle class="n50" cx="155.8" cy="166.8" r="0.9"/>
<circle class="n50" cx="190.5" cy="182.8" r="1.1"/>
<circle class="n50" cx="156.2" cy="179.7" r="0.9"/>
<circle class="n50" cx="161.0" cy="168.7" r="0.9"/>
<circle class="n50" cx="193.5" cy="178.4" r="1.1"/>
<circle class="n50" cx="144.3" cy="173.3" r="1.1"/>
<circle class="n50" cx="188.3" cy="170.5" r="0.7"/>
<circle class="n50" cx="170.9" cy="176.0" r="0.9"/>
<circle class="n50" cx="172.5" cy="180.6" r="1.1"/>
<circle class="n50" cx="152.7" cy="184.6" r="1.0"/>
<circle class="n50" cx="168.1" cy="177.2" r="0.7"/>
<circle class="n50" cx="150.0" cy="182.6" r="0.9"/>
<circle class="n50" cx="178.5" cy="179.6" r="1.0"/>
<circle class="n50" cx="162.8" cy="179.6" r="1.0"/>
<circle class="n50" cx="157.6" cy="181.4" r="0.6"/>
<circle class="n50" cx="159.7" cy="167.5" r="0.6"/>
<circle class="n50" cx="163.8" cy="173.2" r="0.7"/>
<circle class="n50" cx="178.1" cy="184.5" r="0.8"/>
<circle class="n50" cx="170.4" cy="167.6" r="0.8"/>
<circle class="n50" cx="156.1" cy="170.6" r="1.0"/>
<circle class="n50" cx="154.7" cy="186.8" r="0.8"/>
<circle class="n50" cx="152.7" cy="169.4" r="0.9"/>
<circle class="n50" cx="175.7" cy="176.3" r="1.0"/>
<circle class="n50" cx="171.7" cy="177.1" r="0.9"/>
<circle class="n50" cx="151.6" cy="173.8" r="1.0"/>
<circle class="n50" cx="145.1" cy="181.0" r="0.8"/>
<circle class="n50" cx="164.8" cy="180.6" r="0.9"/>
<circle class="n50" cx="158.2" cy="171.3" r="1.1"/>
<circle class="n50" cx="172.1" cy="185.8" r="0.7"/>
<circle class="n50" cx="163.9" cy="170.5" r="0.7"/>
<circle class="n50" cx="170.1" cy="172.7" r="0.7"/>
<circle class="n50" cx="175.6" cy="174.5" r="0.8"/>
<circle class="n50" cx="178.5" cy="176.6" r="0.8"/>
<circle class="n50" cx="162.6" cy="168.7" r="1.1"/>
<circle class="n50" cx="174.3" cy="176.7" r="0.6"/>
<circle class="n50" cx="158.1" cy="162.2" r="0.8"/>
<circle class="n50" cx="150.1" cy="172.3" r="0.7"/>
<circle class="n50" cx="168.1" cy="169.8" r="0.9"/>
<circle class="n50" cx="180.4" cy="170.9" r="0.9"/>
<circle class="n50" cx="183.1" cy="174.6" r="0.6"/>
<circle class="n50" cx="164.4" cy="176.5" r="1.1"/>
<circle class="n50" cx="143.6" cy="170.6" r="0.7"/>
<circle class="n50" cx="169.2" cy="175.1" r="0.8"/>
<circle class="n50" cx="162.5" cy="166.0" r="0.9"/>
<circle class="n50" cx="173.0" cy="172.7" r="0.8"/>
<circle class="n50" cx="178.6" cy="180.4" r="0.8"/>
<circle class="n50" cx="159.6" cy="170.8" r="1.1"/>
<circle class="n50" cx="156.2" cy="173.0" r="0.9"/>
<circle class="n50" cx="160.2" cy="174.7" r="1.0"/>
<circle class="n50" cx="156.5" cy="179.6" r="0.8"/>
<circle class="n50" cx="152.5" cy="177.0" r="1.0"/>
<circle class="n50" cx="167.7" cy="173.8" r="0.8"/>
<circle class="n50" cx="155.8" cy="168.9" r="1.0"/>
<circle class="n50" cx="161.4" cy="176.2" r="1.0"/>
<circle class="n50" cx="160.8" cy="157.8" r="1.0"/>
<circle class="n50" cx="157.3" cy="177.3" r="0.8"/>
<circle class="n50" cx="172.5" cy="170.3" r="0.9"/>
<circle class="n50" cx="159.1" cy="178.6" r="0.8"/>
<circle class="n50" cx="163.8" cy="174.4" r="1.0"/>
<circle class="n50" cx="174.8" cy="182.7" r="1.1"/>
<circle class="n50" cx="163.0" cy="171.0" r="0.7"/>
<circle class="n50" cx="146.6" cy="163.0" r="0.7"/>
<circle class="n50" cx="158.9" cy="174.9" r="0.7"/>
<circle class="n50" cx="158.8" cy="171.8" r="0.9"/>
<circle class="n50" cx="172.6" cy="174.1" r="0.8"/>
<circle class="n50" cx="185.5" cy="181.7" r="0.7"/>
<circle class="n50" cx="167.2" cy="169.4" r="0.9"/>
<circle class="n50" cx="163.1" cy="178.7" r="0.6"/>
<circle class="n50" cx="183.0" cy="179.9" r="0.8"/>
<circle class="n50" cx="156.0" cy="181.0" r="1.0"/>
<circle class="n50" cx="168.4" cy="162.9" r="1.1"/>
<circle class="n50" cx="170.6" cy="175.6" r="0.9"/>
<circle class="n50" cx="164.0" cy="170.6" r="1.1"/>
<circle class="n50" cx="162.4" cy="173.3" r="0.6"/>
<circle class="n50" cx="166.9" cy="169.9" r="0.6"/>
<circle class="n50" cx="183.6" cy="172.8" r="0.8"/>
<circle class="n50" cx="171.8" cy="180.3" r="0.9"/>
<circle class="n50" cx="157.3" cy="184.8" r="0.8"/>
<circle class="n50" cx="168.3" cy="178.8" r="1.0"/>
<circle class="n50" cx="176.7" cy="167.5" r="0.8"/>
<circle class="n50" cx="186.9" cy="182.1" r="0.9"/>
<circle class="n50" cx="174.7" cy="167.4" r="1.0"/>
<circle class="n50" cx="167.1" cy="172.5" r="0.7"/>
<circle class="n50" cx="181.9" cy="181.4" r="0.8"/>
<circle class="n50" cx="175.7" cy="171.3" r="1.0"/>
<circle class="n50" cx="166.5" cy="179.0" r="1.1"/>
<circle class="n50" cx="156.4" cy="173.2" r="1.0"/>
<circle class="n50" cx="165.7" cy="167.9" r="1.0"/>
<circle class="n50" cx="176.5" cy="176.0" r="0.9"/>
<circle class="n50" cx="151.3" cy="171.6" r="1.1"/>
<circle class="n50" cx="144.8" cy="185.1" r="1.0"/>
<circle class="n50" cx="171.0" cy="185.6" r="0.6"/>
<circle class="n50" cx="145.5" cy="184.0" r="0.9"/>
<circle class="n50" cx="148.4" cy="168.7" r="0.8"/>
<circle class="n50" cx="162.0" cy="185.9" r="0.7"/>
<circle class="n50" cx="161.6" cy="176.6" r="0.8"/>
<circle class="n50" cx="165.2" cy="177.8" r="0.9"/>
<circle class="n50" cx="166.6" cy="175.9" r="1.0"/>
<circle class="n50" cx="171.1" cy="171.5" r="0.6"/>
<circle class="n50" cx="163.2" cy="175.5" r="0.7"/>
<circle class="n50" cx="154.2" cy="180.0" r="0.7"/>
<circle class="n50" cx="129.3" cy="183.9" r="0.8"/>
<circle class="n50" cx="179.8" cy="178.2" r="1.0"/>
<circle class="n50" cx="174.1" cy="174.9" r="0.6"/>
<circle class="n50" cx="172.1" cy="172.0" r="0.7"/>
<circle class="n50" cx="164.0" cy="172.9" r="0.9"/>
<circle class="n50" cx="153.3" cy="184.4" r="0.7"/>
<circle class="n50" cx="170.2" cy="178.9" r="1.1"/>
<circle class="n50" cx="163.4" cy="176.2" r="0.7"/>
<circle class="n50" cx="147.3" cy="165.1" r="1.0"/>
<circle class="n50" cx="177.0" cy="164.4" r="0.7"/>
<circle class="n50" cx="146.5" cy="178.8" r="0.7"/>
<circle class="n50" cx="158.8" cy="178.5" r="0.8"/>
<circle class="n50" cx="186.0" cy="181.4" r="0.7"/>
<circle class="n50" cx="154.1" cy="176.0" r="1.0"/>
<circle class="n50" cx="166.3" cy="170.9" r="0.9"/>
<circle class="n50" cx="177.3" cy="164.7" r="0.7"/>
<circle class="n50" cx="164.2" cy="169.3" r="0.9"/>
<circle class="n50" cx="146.6" cy="161.1" r="0.9"/>
<circle class="n50" cx="157.9" cy="176.5" r="0.9"/>
<circle class="n50" cx="163.4" cy="177.6" r="0.7"/>
<circle class="n50" cx="145.4" cy="182.9" r="0.9"/>
<circle class="n50" cx="181.8" cy="164.0" r="0.7"/>
<circle class="n50" cx="167.9" cy="166.4" r="1.0"/>
<circle class="n50" cx="172.8" cy="178.4" r="0.8"/>
<circle class="n50" cx="167.3" cy="176.7" r="0.7"/>
<circle class="n50" cx="168.6" cy="162.9" r="0.6"/>
<circle class="n50" cx="159.4" cy="170.5" r="1.0"/>
<circle class="n50" cx="145.6" cy="175.3" r="1.1"/>
<circle class="n50" cx="172.2" cy="172.4" r="0.7"/>
<circle class="n50" cx="164.3" cy="176.9" r="0.9"/>
<circle class="n50" cx="183.3" cy="174.9" r="1.1"/>
<circle class="n50" cx="149.4" cy="171.4" r="1.0"/>
<circle class="n50" cx="165.8" cy="177.0" r="0.7"/>
<circle class="n50" cx="190.9" cy="174.2" r="1.0"/>
<circle class="n50" cx="147.1" cy="181.6" r="0.9"/>
<circle class="n50" cx="149.0" cy="166.1" r="0.8"/>
<circle class="n50" cx="166.6" cy="173.3" r="1.1"/>
<circle class="n50" cx="184.9" cy="170.7" r="0.7"/>
<circle class="n50" cx="148.9" cy="173.2" r="1.1"/>
<circle class="n50" cx="164.5" cy="177.1" r="0.9"/>
<circle class="n50" cx="161.4" cy="178.5" r="1.1"/>
<circle class="n50" cx="156.7" cy="162.0" r="0.9"/>
<circle class="n50" cx="160.5" cy="181.6" r="0.9"/>
<circle class="n50" cx="178.9" cy="177.9" r="0.7"/>
<circle class="n50" cx="165.4" cy="177.8" r="0.9"/>
<circle class="n50" cx="147.2" cy="175.1" r="0.8"/>
<circle class="n50" cx="155.9" cy="180.3" r="0.9"/>
<circle class="n50" cx="164.8" cy="177.2" r="0.7"/>
<circle class="n50" cx="146.1" cy="164.0" r="1.1"/>
<circle class="n50" cx="154.9" cy="170.7" r="0.9"/>
<circle class="n50" cx="158.5" cy="173.2" r="0.8"/>
<circle class="n50" cx="137.3" cy="172.5" r="0.8"/>
<circle class="n50" cx="186.6" cy="172.0" r="0.7"/>
<circle class="n50" cx="143.3" cy="178.3" r="1.1"/>
<circle class="n50" cx="164.2" cy="168.0" r="1.1"/>
<circle class="n50" cx="161.3" cy="170.2" r="1.0"/>
<circle class="n50" cx="155.9" cy="168.8" r="0.8"/>
<circle class="n50" cx="178.6" cy="174.5" r="1.0"/>
<circle class="n50" cx="164.2" cy="177.3" r="0.8"/>
<circle class="n50" cx="153.0" cy="169.3" r="1.0"/>
<circle class="n50" cx="178.0" cy="177.0" r="1.0"/>
<circle class="n50" cx="170.3" cy="171.4" r="1.1"/>
<circle class="n50" cx="150.5" cy="183.1" r="0.7"/>
<circle class="n50" cx="144.4" cy="161.3" r="0.6"/>
<circle class="n50" cx="174.5" cy="174.6" r="1.0"/>
<circle class="n50" cx="161.7" cy="181.5" r="0.7"/>
<circle class="n50" cx="145.2" cy="172.5" r="1.1"/>
<circle class="n50" cx="170.3" cy="168.1" r="1.0"/>
<circle class="n50" cx="145.5" cy="169.5" r="0.7"/>
<circle class="n50" cx="154.8" cy="178.0" r="1.0"/>
<circle class="n50" cx="153.2" cy="171.4" r="0.8"/>
<circle class="n50" cx="138.7" cy="181.0" r="0.9"/>
<circle class="n50" cx="172.0" cy="175.0" r="0.9"/>
<circle class="n50" cx="207.2" cy="171.4" r="1.1"/>
<circle class="n50" cx="171.5" cy="172.1" r="0.9"/>
<circle class="n50" cx="168.6" cy="177.6" r="1.0"/>
<circle class="n50" cx="160.3" cy="180.8" r="0.9"/>
<circle class="n50" cx="162.6" cy="169.9" r="0.8"/>
<circle class="n50" cx="167.0" cy="167.7" r="0.7"/>
<circle class="n50" cx="171.3" cy="167.8" r="0.9"/>
<circle class="n50" cx="157.3" cy="177.6" r="0.9"/>
<circle class="n50" cx="164.1" cy="185.7" r="1.0"/>
<circle class="n50" cx="161.0" cy="171.7" r="0.9"/>
<circle class="n50" cx="170.7" cy="178.8" r="0.9"/>
<circle class="n50" cx="175.5" cy="172.4" r="1.1"/>
<circle class="n50" cx="177.5" cy="180.4" r="1.0"/>
<circle class="n50" cx="158.3" cy="165.9" r="1.1"/>
<circle class="n50" cx="157.9" cy="178.4" r="0.9"/>
<circle class="n50" cx="172.6" cy="167.0" r="0.7"/>
<circle class="n50" cx="160.8" cy="169.7" r="0.7"/>
<circle class="n50" cx="161.4" cy="176.8" r="0.9"/>
<circle class="n50" cx="169.9" cy="173.4" r="1.1"/>
<circle class="n50" cx="168.9" cy="174.4" r="1.0"/>
<circle class="n50" cx="180.8" cy="178.0" r="0.9"/>
<circle class="n50" cx="149.0" cy="176.0" r="0.9"/>
<circle class="n50" cx="178.4" cy="183.8" r="0.8"/>
<circle class="n50" cx="158.5" cy="179.4" r="0.7"/>
<circle class="n50" cx="172.8" cy="169.7" r="0.6"/>
<circle class="n50" cx="148.2" cy="174.4" r="1.0"/>
<circle class="n50" cx="162.8" cy="171.6" r="0.9"/>
<circle class="n50" cx="156.7" cy="172.4" r="1.0"/>
<circle class="n50" cx="186.6" cy="185.6" r="1.0"/>
<circle class="n50" cx="152.6" cy="170.2" r="0.7"/>
<circle class="n45" cx="184.1" cy="176.6" r="0.7"/>
<circle class="n45" cx="161.7" cy="167.0" r="0.8"/>
<circle class="n45" cx="182.6" cy="176.2" r="0.6"/>
<circle class="n45" cx="192.0" cy="171.8" r="0.9"/>
<circle class="n45" cx="197.9" cy="199.6" r="1.0"/>
<circle class="n45" cx="193.5" cy="169.2" r="1.2"/>
<circle class="n45" cx="187.9" cy="156.7" r="0.9"/>
<circle class="n45" cx="152.1" cy="182.1" r="1.2"/>
<circle class="n45" cx="167.4" cy="182.9" r="0.6"/>
<circle class="n45" cx="177.2" cy="185.2" r="1.2"/>
<circle class="n45" cx="169.9" cy="137.2" r="0.6"/>
<circle class="n45" cx="135.5" cy="157.4" r="1.1"/>
<circle class="n45" cx="166.1" cy="158.9" r="1.1"/>
<circle class="n45" cx="156.8" cy="148.8" r="0.7"/>
<circle class="n45" cx="172.7" cy="170.2" r="0.7"/>
<circle class="n45" cx="175.0" cy="176.7" r="1.3"/>
<circle class="n45" cx="144.3" cy="181.7" r="1.0"/>
<circle class="n45" cx="156.0" cy="179.7" r="1.1"/>
<circle class="n45" cx="171.7" cy="168.9" r="0.7"/>
<circle class="n45" cx="150.9" cy="187.4" r="1.0"/>
<circle class="n45" cx="168.4" cy="171.6" r="1.0"/>
<circle class="n45" cx="154.4" cy="134.3" r="0.7"/>
<circle class="n45" cx="156.7" cy="164.5" r="0.9"/>
<circle class="n45" cx="184.0" cy="159.2" r="1.1"/>
<circle class="n45" cx="166.6" cy="172.4" r="0.8"/>
<circle class="n45" cx="159.3" cy="163.1" r="1.2"/>
<circle class="n45" cx="195.2" cy="164.2" r="1.2"/>
<circle class="n45" cx="163.3" cy="184.9" r="1.2"/>
<circle class="n45" cx="168.2" cy="158.8" r="0.7"/>
<circle class="n45" cx="169.1" cy="151.3" r="1.0"/>
<circle class="n45" cx="220.9" cy="171.0" r="1.0"/>
<circle class="n45" cx="179.6" cy="175.8" r="1.1"/>
<circle class="n45" cx="183.6" cy="166.5" r="1.3"/>
<circle class="n45" cx="162.4" cy="167.8" r="0.9"/>
<circle class="n45" cx="183.3" cy="160.7" r="0.8"/>
<circle class="n45" cx="188.2" cy="151.7" r="0.8"/>
<circle class="n45" cx="148.6" cy="158.5" r="0.6"/>
<circle class="n45" cx="176.3" cy="154.8" r="1.0"/>
<circle class="n45" cx="197.2" cy="182.7" r="0.6"/>
<circle class="n45" cx="200.2" cy="164.6" r="1.0"/>
<circle class="n45" cx="173.1" cy="184.9" r="0.8"/>
<circle class="n45" cx="208.6" cy="166.0" r="1.3"/>
<circle class="n45" cx="157.2" cy="156.5" r="1.2"/>
<circle class="n45" cx="187.0" cy="169.9" r="1.2"/>
<circle class="n45" cx="178.3" cy="170.1" r="0.6"/>
<circle class="n45" cx="150.9" cy="183.8" r="1.0"/>
<circle class="n45" cx="186.4" cy="142.9" r="1.0"/>
<circle class="n45" cx="147.1" cy="162.5" r="0.9"/>
<circle class="n45" cx="157.8" cy="172.6" r="1.1"/>
<circle class="n45" cx="167.5" cy="158.4" r="0.9"/>
<circle class="n45" cx="148.4" cy="169.1" r="1.2"/>
<circle class="n45" cx="189.3" cy="164.1" r="0.9"/>
<circle class="n45" cx="161.4" cy="185.1" r="0.8"/>
<circle class="n45" cx="147.8" cy="183.0" r="0.7"/>
<circle class="n45" cx="173.6" cy="142.5" r="1.0"/>
<circle class="n45" cx="169.0" cy="148.8" r="0.7"/>
<circle class="n45" cx="150.4" cy="158.0" r="1.3"/>
<circle class="n45" cx="159.8" cy="166.8" r="1.0"/>
<circle class="n45" cx="184.5" cy="165.7" r="1.0"/>
<circle class="n45" cx="183.4" cy="161.4" r="1.1"/>
<circle class="n45" cx="142.0" cy="175.1" r="1.0"/>
<circle class="n45" cx="185.9" cy="178.3" r="0.6"/>
<circle class="n45" cx="186.1" cy="168.9" r="1.0"/>
<circle class="n45" cx="189.1" cy="164.1" r="1.1"/>
<circle class="n45" cx="161.1" cy="168.2" r="0.7"/>
<circle class="n45" cx="156.1" cy="157.6" r="1.1"/>
<circle class="n45" cx="167.7" cy="177.8" r="0.8"/>
<circle class="n45" cx="158.1" cy="177.9" r="1.3"/>
<circle class="n45" cx="165.0" cy="156.5" r="0.7"/>
<circle class="n45" cx="159.0" cy="185.5" r="0.6"/>
<circle class="n45" cx="164.5" cy="167.2" r="0.8"/>
<circle class="n45" cx="160.9" cy="177.9" r="1.0"/>
<circle class="n45" cx="170.0" cy="167.8" r="0.7"/>
<circle class="n45" cx="172.2" cy="165.6" r="0.8"/>
<circle class="n45" cx="164.9" cy="176.5" r="0.9"/>
<circle class="n45" cx="160.0" cy="155.9" r="1.2"/>
<circle class="n45" cx="197.0" cy="164.8" r="1.2"/>
<circle class="n45" cx="185.4" cy="153.3" r="1.3"/>
<circle class="n45" cx="177.8" cy="173.8" r="1.1"/>
<circle class="n45" cx="154.3" cy="165.0" r="1.0"/>
<circle class="n45" cx="205.7" cy="193.5" r="1.0"/>
<circle class="n45" cx="80.5" cy="159.3" r="1.0"/>
<circle class="n45" cx="152.6" cy="230.8" r="0.9"/>
<circle class="n45" cx="226.0" cy="190.6" r="1.0"/>
<circle class="n45" cx="124.8" cy="225.0" r="1.3"/>
<circle class="n45" cx="236.9" cy="197.3" r="1.0"/>
<circle class="h55" cx="189.8" cy="203.1" r="0.8"/>
<circle class="h55" cx="210.3" cy="183.7" r="0.8"/>
<circle class="h55" cx="279.2" cy="184.9" r="1.0"/>
<circle class="h55" cx="180.8" cy="168.9" r="0.9"/>
<circle class="h55" cx="176.6" cy="192.3" r="0.8"/>
<circle class="h55" cx="185.2" cy="186.1" r="0.9"/>
<circle class="o85" cx="155.5" cy="226.7" r="1.6"/>
<circle class="p75" cx="193.4" cy="218.8" r="1.1"/>
<circle class="p75" cx="190.0" cy="225.0" r="1.1"/>
<circle class="p75" cx="251.0" cy="223.5" r="1.1"/>
<circle class="p75" cx="259.6" cy="227.7" r="1.1"/>
<circle class="p75" cx="269.6" cy="228.5" r="1.1"/>
<circle class="p75" cx="274.8" cy="223.0" r="1.1"/>
<circle class="p75" cx="273.7" cy="230.0" r="1.1"/>
<circle class="p75" cx="295.0" cy="219.0" r="1.1"/>
<circle class="n50" cx="179.0" cy="226.0" r="1.2"/>
<circle class="n50" cx="186.0" cy="222.0" r="1.2"/>
<circle class="n50" cx="196.0" cy="225.0" r="1.2"/>
<circle class="n50" cx="204.0" cy="227.0" r="1.2"/>
<circle class="n50" cx="215.0" cy="221.0" r="1.2"/>
<circle class="n50" cx="227.0" cy="223.0" r="1.2"/>
<circle class="n50" cx="238.0" cy="226.0" r="1.2"/>
<circle class="n50" cx="246.0" cy="222.0" r="1.2"/>
<circle class="n50" cx="284.0" cy="221.0" r="1.2"/>
<circle class="n50" cx="259.0" cy="232.0" r="1.2"/>
<circle class="n50" cx="125.5" cy="338.4" r="1.2"/>
<circle class="n50" cx="262.0" cy="174.0" r="1.2"/>
<circle class="n50" cx="235.0" cy="205.0" r="1.2"/>
<circle class="n50" cx="266.0" cy="205.0" r="1.2"/>
<circle class="n50" cx="238.0" cy="180.0" r="1.2"/>
<circle class="n50" cx="214.0" cy="184.0" r="1.2"/>
<circle class="n50" cx="225.0" cy="207.0" r="1.2"/>
<circle class="m60" cx="215.6" cy="110.6" r="0.8"/>
<circle class="m60" cx="180.9" cy="118.3" r="1.0"/>
<circle class="m60" cx="231.7" cy="114.5" r="0.9"/>
<circle class="m60" cx="237.5" cy="117.6" r="1.6"/>
<circle class="m60" cx="224.7" cy="124.7" r="1.2"/>
<circle class="m60" cx="243.7" cy="114.2" r="0.8"/>
<circle class="m60" cx="241.0" cy="127.3" r="1.3"/>
<circle class="m60" cx="196.3" cy="123.1" r="1.3"/>
<circle class="m60" cx="218.3" cy="107.6" r="1.1"/>
<circle class="m60" cx="215.3" cy="119.6" r="1.3"/>
<circle class="m60" cx="249.1" cy="120.6" r="1.5"/>
<circle class="m60" cx="241.4" cy="123.8" r="0.9"/>
<circle class="m60" cx="224.7" cy="114.6" r="0.9"/>
<circle class="m60" cx="232.5" cy="117.5" r="1.3"/>
<circle class="m60" cx="239.0" cy="130.9" r="1.2"/>
<circle class="m60" cx="212.0" cy="121.2" r="1.4"/>
<circle class="m60" cx="219.8" cy="113.9" r="1.4"/>
<circle class="m60" cx="220.8" cy="110.2" r="1.5"/>
<circle class="m60" cx="216.2" cy="117.2" r="1.5"/>
<circle class="m60" cx="218.3" cy="121.9" r="1.4"/>
<circle class="m60" cx="226.4" cy="112.1" r="1.1"/>
<circle class="m60" cx="203.2" cy="129.4" r="1.0"/>
<circle class="m60" cx="204.2" cy="116.6" r="0.9"/>
<circle class="m60" cx="234.8" cy="106.4" r="0.9"/>
<circle class="m60" cx="248.4" cy="120.4" r="1.5"/>
<circle class="m60" cx="253.7" cy="116.2" r="0.8"/>
<circle class="m60" cx="194.6" cy="120.8" r="1.4"/>
<circle class="m60" cx="230.1" cy="126.1" r="1.3"/>
<circle class="m60" cx="209.3" cy="117.0" r="1.0"/>
<circle class="m60" cx="214.9" cy="124.3" r="0.8"/>
<circle class="m60" cx="219.3" cy="116.4" r="1.2"/>
<circle class="m60" cx="230.7" cy="128.3" r="1.4"/>
<circle class="m60" cx="232.3" cy="118.3" r="1.0"/>
<circle class="m60" cx="183.9" cy="123.5" r="0.8"/>
<circle class="m60" cx="213.8" cy="123.8" r="1.1"/>
<circle class="m60" cx="240.7" cy="116.9" r="1.4"/>
<circle class="m60" cx="225.5" cy="121.7" r="1.2"/>
<circle class="m60" cx="196.8" cy="120.6" r="1.5"/>
<circle class="m60" cx="207.6" cy="124.6" r="1.1"/>
<circle class="m60" cx="210.1" cy="121.0" r="1.2"/>
<circle class="m60" cx="239.1" cy="114.3" r="1.6"/>
<circle class="m60" cx="251.9" cy="119.7" r="1.4"/>
<circle class="m60" cx="205.5" cy="123.9" r="1.0"/>
<circle class="m60" cx="230.6" cy="112.1" r="1.6"/>
<circle class="m60" cx="218.2" cy="118.0" r="1.0"/>
<circle class="m60" cx="231.2" cy="108.3" r="0.8"/>
<circle class="m60" cx="219.3" cy="120.3" r="1.2"/>
<circle class="m60" cx="205.3" cy="126.2" r="1.0"/>
<circle class="m60" cx="213.9" cy="134.8" r="1.2"/>
<circle class="m60" cx="212.4" cy="122.1" r="1.0"/>
<circle class="m60" cx="247.1" cy="123.1" r="1.3"/>
<circle class="m60" cx="211.5" cy="129.4" r="1.2"/>
<circle class="m60" cx="232.3" cy="122.7" r="1.1"/>
<circle class="m60" cx="208.0" cy="109.6" r="1.3"/>
<circle class="m60" cx="211.7" cy="117.7" r="1.3"/>
<circle class="m60" cx="226.7" cy="121.0" r="1.5"/>
<circle class="m60" cx="213.7" cy="122.1" r="1.2"/>
<circle class="m60" cx="254.7" cy="116.7" r="0.9"/>
<circle class="m60" cx="243.6" cy="111.7" r="1.3"/>
<circle class="m60" cx="203.2" cy="110.1" r="0.8"/>
<circle class="m60" cx="231.3" cy="120.7" r="1.2"/>
<circle class="m60" cx="247.9" cy="123.7" r="1.4"/>
<circle class="m60" cx="202.9" cy="118.5" r="1.0"/>
<circle class="m60" cx="216.5" cy="123.3" r="1.1"/>
<circle class="m60" cx="246.4" cy="113.6" r="1.5"/>
<circle class="m60" cx="209.3" cy="119.9" r="1.0"/>
<circle class="m60" cx="232.6" cy="114.8" r="0.9"/>
<circle class="m60" cx="222.0" cy="124.4" r="1.4"/>
<circle class="m60" cx="225.1" cy="113.6" r="1.2"/>
<circle class="m60" cx="206.0" cy="122.0" r="1.1"/>
<circle class="m60" cx="222.2" cy="124.9" r="1.2"/>
<circle class="m60" cx="215.7" cy="120.0" r="1.1"/>
<circle class="m60" cx="250.5" cy="109.0" r="1.0"/>
<circle class="m60" cx="233.4" cy="120.6" r="1.2"/>
<circle class="m60" cx="224.4" cy="118.1" r="0.8"/>
<circle class="m60" cx="221.6" cy="111.7" r="1.2"/>
<circle class="m60" cx="233.8" cy="117.1" r="1.0"/>
<circle class="m60" cx="196.6" cy="120.3" r="0.9"/>
<circle class="m60" cx="206.8" cy="124.7" r="1.3"/>
<circle class="m60" cx="207.5" cy="118.0" r="1.1"/>
<circle class="m60" cx="209.7" cy="121.3" r="1.0"/>
<circle class="m60" cx="196.3" cy="125.7" r="1.4"/>
<circle class="m60" cx="229.8" cy="107.2" r="1.1"/>
<circle class="m60" cx="215.6" cy="126.0" r="0.9"/>
<circle class="m60" cx="243.0" cy="117.3" r="0.9"/>
<circle class="m60" cx="220.0" cy="113.6" r="1.0"/>
<circle class="m60" cx="216.7" cy="120.7" r="1.2"/>
<circle class="m60" cx="230.4" cy="124.7" r="1.4"/>
<circle class="m60" cx="229.2" cy="114.5" r="1.4"/>
<circle class="m60" cx="217.6" cy="116.5" r="1.0"/>
<circle class="m60" cx="232.8" cy="126.4" r="1.0"/>
<circle class="m60" cx="243.9" cy="126.5" r="1.5"/>
<circle class="m60" cx="216.5" cy="131.9" r="1.1"/>
<circle class="m60" cx="243.6" cy="117.4" r="1.1"/>
<circle class="m60" cx="218.8" cy="114.0" r="1.3"/>
<circle class="m60" cx="236.0" cy="112.2" r="0.9"/>
<circle class="m60" cx="221.7" cy="117.5" r="0.8"/>
<circle class="m60" cx="215.7" cy="114.1" r="0.9"/>
<circle class="m60" cx="227.7" cy="121.4" r="0.8"/>
<circle class="m60" cx="205.2" cy="128.7" r="1.3"/>
<circle class="m60" cx="196.0" cy="115.7" r="1.6"/>
<circle class="m60" cx="222.8" cy="128.2" r="1.1"/>
<circle class="m60" cx="218.1" cy="114.4" r="1.4"/>
<circle class="m60" cx="204.0" cy="117.1" r="1.2"/>
<circle class="m60" cx="256.0" cy="107.6" r="1.2"/>
<circle class="m60" cx="229.6" cy="123.0" r="1.4"/>
<circle class="m60" cx="210.8" cy="120.1" r="0.8"/>
<circle class="m60" cx="230.9" cy="118.6" r="1.0"/>
<circle class="m60" cx="229.5" cy="101.2" r="0.8"/>
<circle class="m60" cx="215.9" cy="116.5" r="0.8"/>
<circle class="m60" cx="218.9" cy="121.5" r="1.2"/>
<circle class="m60" cx="190.8" cy="106.2" r="1.2"/>
<circle class="m60" cx="227.4" cy="130.6" r="1.5"/>
<circle class="m60" cx="253.3" cy="118.0" r="0.9"/>
<circle class="m60" cx="241.8" cy="123.9" r="1.2"/>
<circle class="m60" cx="239.2" cy="115.8" r="1.2"/>
<circle class="m60" cx="213.7" cy="125.8" r="1.4"/>
<circle class="m60" cx="206.0" cy="128.8" r="1.5"/>
<circle class="m60" cx="238.5" cy="133.1" r="1.3"/>
<circle class="m60" cx="226.8" cy="112.8" r="1.1"/>
<circle class="m60" cx="220.7" cy="132.2" r="1.3"/>
<circle class="m60" cx="216.9" cy="113.6" r="1.5"/>
<circle class="m60" cx="237.9" cy="118.9" r="0.9"/>
<circle class="m60" cx="232.5" cy="116.2" r="1.3"/>
<circle class="m60" cx="214.9" cy="119.4" r="1.0"/>
<circle class="m60" cx="219.6" cy="108.3" r="1.2"/>
<circle class="m60" cx="195.5" cy="120.7" r="1.2"/>
<circle class="m60" cx="202.9" cy="114.5" r="1.3"/>
<circle class="m60" cx="231.7" cy="117.5" r="1.1"/>
<circle class="m60" cx="215.4" cy="122.0" r="1.0"/>
<circle class="m60" cx="208.7" cy="121.5" r="0.9"/>
<circle class="m60" cx="226.9" cy="118.6" r="1.1"/>
<circle class="m60" cx="243.9" cy="125.8" r="1.6"/>
<circle class="m60" cx="209.3" cy="123.1" r="1.6"/>
<circle class="m60" cx="217.8" cy="123.8" r="1.6"/>
<circle class="m60" cx="219.3" cy="128.1" r="1.3"/>
<circle class="m60" cx="262.0" cy="115.2" r="1.1"/>
<circle class="m60" cx="239.2" cy="118.6" r="1.4"/>
<circle class="m60" cx="227.3" cy="123.3" r="1.2"/>
<circle class="m60" cx="199.5" cy="120.6" r="0.9"/>
<circle class="m60" cx="235.7" cy="125.9" r="0.9"/>
<circle class="m60" cx="231.4" cy="115.0" r="1.0"/>
<circle class="m60" cx="219.4" cy="118.8" r="0.8"/>
<circle class="m60" cx="210.4" cy="120.2" r="1.2"/>
<circle class="m60" cx="215.2" cy="118.6" r="1.1"/>
<circle class="m60" cx="196.0" cy="122.5" r="1.5"/>
<circle class="m60" cx="216.1" cy="117.6" r="1.1"/>
<circle class="m60" cx="213.7" cy="106.4" r="1.0"/>
<circle class="m60" cx="208.7" cy="128.1" r="1.4"/>
<circle class="m60" cx="217.1" cy="117.7" r="1.0"/>
<circle class="m60" cx="197.6" cy="126.7" r="1.1"/>
<circle class="m60" cx="240.1" cy="111.4" r="1.4"/>
<circle class="m60" cx="220.4" cy="123.4" r="1.4"/>
<circle class="m60" cx="202.7" cy="114.0" r="0.9"/>
<circle class="m60" cx="235.8" cy="127.0" r="0.8"/>
<circle class="m60" cx="231.4" cy="117.9" r="0.9"/>
<circle class="m60" cx="214.2" cy="117.8" r="1.0"/>
<circle class="m60" cx="199.5" cy="104.8" r="1.5"/>
<circle class="m60" cx="220.0" cy="106.2" r="1.2"/>
<circle class="m60" cx="229.7" cy="115.8" r="1.5"/>
<circle class="m60" cx="232.4" cy="114.6" r="1.2"/>
<circle class="m60" cx="236.9" cy="114.2" r="1.3"/>
<circle class="m60" cx="235.9" cy="114.9" r="1.0"/>
<circle class="m60" cx="199.3" cy="127.6" r="1.2"/>
<circle class="m60" cx="224.1" cy="116.8" r="1.1"/>
<circle class="m60" cx="192.1" cy="120.1" r="1.5"/>
<circle class="m60" cx="237.5" cy="113.3" r="1.5"/>
<circle class="m60" cx="228.3" cy="112.3" r="1.1"/>
<circle class="m60" cx="237.9" cy="119.9" r="1.4"/>
<circle class="m60" cx="222.7" cy="116.7" r="1.0"/>
<circle class="m60" cx="222.1" cy="117.1" r="1.2"/>
<circle class="m60" cx="213.8" cy="122.0" r="1.5"/>
<circle class="m60" cx="177.8" cy="124.4" r="1.5"/>
<circle class="m60" cx="219.7" cy="124.3" r="1.0"/>
<circle class="m60" cx="264.2" cy="119.4" r="1.3"/>
<circle class="m60" cx="242.2" cy="109.5" r="1.0"/>
<circle class="m60" cx="218.4" cy="115.0" r="1.5"/>
<circle class="m60" cx="228.3" cy="124.5" r="1.3"/>
<circle class="m60" cx="229.4" cy="116.3" r="1.5"/>
<circle class="m60" cx="213.5" cy="124.1" r="1.5"/>
<circle class="m60" cx="221.9" cy="114.1" r="1.2"/>
<circle class="m60" cx="226.5" cy="104.3" r="0.8"/>
<circle class="m60" cx="213.1" cy="107.1" r="1.5"/>
<circle class="m60" cx="229.5" cy="114.4" r="1.6"/>
<circle class="m60" cx="242.1" cy="114.7" r="1.5"/>
<circle class="m60" cx="237.4" cy="131.9" r="1.1"/>
<circle class="m60" cx="227.5" cy="123.4" r="1.1"/>
<circle class="m60" cx="220.3" cy="123.8" r="1.4"/>
<circle class="m60" cx="234.9" cy="123.6" r="1.3"/>
<circle class="m60" cx="213.1" cy="110.8" r="1.3"/>
<circle class="m60" cx="212.6" cy="120.9" r="1.2"/>
<circle class="m60" cx="243.1" cy="116.7" r="1.0"/>
<circle class="m60" cx="218.1" cy="131.8" r="1.0"/>
<circle class="m60" cx="200.6" cy="117.6" r="1.4"/>
<circle class="m60" cx="235.5" cy="109.4" r="1.4"/>
<circle class="m60" cx="234.4" cy="118.7" r="1.1"/>
<circle class="m60" cx="240.7" cy="116.5" r="1.1"/>
<circle class="m60" cx="221.3" cy="120.3" r="1.4"/>
<circle class="m60" cx="241.4" cy="119.0" r="1.6"/>
<circle class="m60" cx="220.9" cy="120.7" r="1.3"/>
<circle class="m60" cx="206.4" cy="117.5" r="0.8"/>
<circle class="m60" cx="219.8" cy="117.2" r="1.4"/>
<circle class="m60" cx="228.5" cy="132.9" r="0.9"/>
<circle class="m60" cx="205.2" cy="117.7" r="1.3"/>
<circle class="m60" cx="220.4" cy="122.9" r="0.9"/>
<circle class="m60" cx="226.4" cy="113.2" r="0.9"/>
<circle class="m60" cx="215.2" cy="110.1" r="1.1"/>
<circle class="m60" cx="224.9" cy="124.9" r="1.6"/>
<circle class="m60" cx="222.8" cy="120.9" r="0.9"/>
<circle class="m60" cx="211.1" cy="129.0" r="1.4"/>
<circle class="m60" cx="229.2" cy="125.5" r="1.6"/>
<circle class="m60" cx="232.6" cy="120.4" r="1.5"/>
<circle class="m60" cx="190.7" cy="118.8" r="1.6"/>
<circle class="m60" cx="213.7" cy="132.6" r="0.9"/>
<circle class="m60" cx="236.4" cy="119.0" r="1.6"/>
<circle class="m60" cx="231.9" cy="132.1" r="1.5"/>
<circle class="m60" cx="193.6" cy="127.5" r="0.9"/>
<circle class="m60" cx="227.8" cy="125.2" r="1.4"/>
<circle class="m60" cx="246.2" cy="121.6" r="1.2"/>
<circle class="m60" cx="237.8" cy="121.6" r="1.0"/>
<circle class="m60" cx="235.7" cy="117.9" r="1.5"/>
<circle class="m60" cx="223.4" cy="134.5" r="1.4"/>
<circle class="m60" cx="224.4" cy="115.0" r="1.4"/>
<circle class="m60" cx="204.5" cy="113.4" r="1.5"/>
<circle class="m60" cx="224.3" cy="122.2" r="1.6"/>
<circle class="m60" cx="260.1" cy="112.7" r="1.4"/>
<circle class="m60" cx="224.1" cy="126.3" r="1.0"/>
<circle class="m60" cx="209.1" cy="120.9" r="1.3"/>
<circle class="m60" cx="233.0" cy="126.6" r="1.5"/>
<circle class="m60" cx="191.5" cy="124.4" r="1.0"/>
<circle class="m60" cx="259.7" cy="112.0" r="1.1"/>
<circle class="m60" cx="233.7" cy="117.5" r="0.8"/>
<circle class="m60" cx="220.2" cy="125.0" r="1.1"/>
<circle class="m60" cx="217.8" cy="117.4" r="0.8"/>
<circle class="m60" cx="209.1" cy="117.0" r="1.6"/>
<circle class="m60" cx="225.8" cy="119.1" r="1.1"/>
<circle class="m60" cx="224.9" cy="122.2" r="1.0"/>
<circle class="m60" cx="200.2" cy="130.3" r="1.2"/>
<circle class="m60" cx="240.3" cy="121.2" r="1.3"/>
<circle class="m60" cx="219.0" cy="126.0" r="1.1"/>
<circle class="m60" cx="206.7" cy="121.0" r="1.5"/>
<circle class="m60" cx="240.3" cy="129.7" r="1.5"/>
<circle class="m60" cx="237.5" cy="132.0" r="1.6"/>
<circle class="m60" cx="214.7" cy="117.4" r="1.0"/>
<circle class="m60" cx="214.0" cy="122.8" r="1.0"/>
<circle class="m60" cx="241.7" cy="117.7" r="1.4"/>
<circle class="m60" cx="218.2" cy="122.9" r="1.2"/>
<circle class="m60" cx="227.4" cy="118.1" r="1.1"/>
<circle class="m60" cx="245.8" cy="113.8" r="1.4"/>
<circle class="m60" cx="204.3" cy="114.6" r="1.0"/>
<circle class="m55" cx="205.9" cy="118.6" r="0.8"/>
<circle class="m55" cx="248.4" cy="124.9" r="0.9"/>
<circle class="m55" cx="191.9" cy="122.6" r="0.8"/>
<circle class="m55" cx="200.3" cy="120.3" r="1.1"/>
<circle class="m55" cx="268.0" cy="121.1" r="1.2"/>
<circle class="m55" cx="234.6" cy="113.6" r="0.8"/>
<circle class="m55" cx="239.3" cy="131.0" r="1.1"/>
<circle class="m55" cx="218.9" cy="116.4" r="0.7"/>
<circle class="m55" cx="294.8" cy="110.5" r="0.9"/>
<circle class="m55" cx="303.7" cy="124.2" r="0.9"/>
<circle class="m55" cx="222.2" cy="109.4" r="0.9"/>
<circle class="m55" cx="248.2" cy="127.4" r="1.0"/>
<circle class="m55" cx="220.6" cy="123.0" r="1.1"/>
<circle class="m55" cx="238.8" cy="121.3" r="1.2"/>
<circle class="m55" cx="260.3" cy="120.0" r="1.0"/>
<circle class="m55" cx="258.1" cy="110.5" r="0.9"/>
<circle class="m55" cx="223.7" cy="136.5" r="0.8"/>
<circle class="m55" cx="238.3" cy="125.2" r="0.9"/>
<circle class="m55" cx="297.5" cy="120.0" r="1.1"/>
<circle class="m55" cx="252.5" cy="126.1" r="1.3"/>
<circle class="m55" cx="264.2" cy="126.2" r="1.0"/>
<circle class="m55" cx="242.7" cy="122.7" r="1.3"/>
<circle class="m55" cx="225.3" cy="113.6" r="0.8"/>
<circle class="m55" cx="200.8" cy="113.1" r="0.7"/>
<circle class="m55" cx="203.6" cy="112.2" r="0.9"/>
<circle class="m55" cx="187.7" cy="121.8" r="1.2"/>
<circle class="m55" cx="202.9" cy="132.8" r="1.0"/>
<circle class="m55" cx="205.9" cy="112.4" r="1.0"/>
<circle class="m55" cx="245.9" cy="116.5" r="0.9"/>
<circle class="m55" cx="188.5" cy="130.7" r="0.9"/>
<circle class="m55" cx="238.3" cy="117.3" r="0.7"/>
<circle class="m55" cx="180.3" cy="124.1" r="0.8"/>
<circle class="m55" cx="290.8" cy="105.4" r="1.2"/>
<circle class="m55" cx="214.5" cy="124.2" r="1.1"/>
<circle class="m55" cx="231.5" cy="115.8" r="1.0"/>
<circle class="m55" cx="270.5" cy="110.7" r="1.2"/>
<circle class="m55" cx="223.2" cy="118.2" r="1.1"/>
<circle class="m55" cx="231.1" cy="124.1" r="0.8"/>
<circle class="m55" cx="232.8" cy="129.1" r="1.0"/>
<circle class="m55" cx="240.9" cy="109.8" r="0.9"/>
<circle class="m55" cx="216.6" cy="126.7" r="0.9"/>
<circle class="m55" cx="270.1" cy="107.1" r="0.8"/>
<circle class="m55" cx="254.6" cy="102.2" r="1.0"/>
<circle class="m55" cx="231.3" cy="115.0" r="0.9"/>
<circle class="m55" cx="258.3" cy="118.5" r="1.0"/>
<circle class="m55" cx="225.9" cy="120.9" r="1.2"/>
<circle class="m55" cx="215.9" cy="125.7" r="1.1"/>
<circle class="m55" cx="224.0" cy="104.0" r="1.1"/>
<circle class="m55" cx="241.1" cy="131.9" r="1.2"/>
<circle class="m55" cx="191.5" cy="132.2" r="0.7"/>
<circle class="m55" cx="221.1" cy="127.7" r="1.3"/>
<circle class="m55" cx="237.9" cy="106.3" r="1.3"/>
<circle class="m55" cx="201.8" cy="127.9" r="0.9"/>
<circle class="m55" cx="235.9" cy="116.0" r="1.0"/>
<circle class="m55" cx="200.8" cy="119.9" r="0.8"/>
<circle class="m55" cx="233.1" cy="120.8" r="0.9"/>
<circle class="m55" cx="224.9" cy="107.7" r="1.1"/>
<circle class="m55" cx="237.5" cy="129.7" r="1.1"/>
<circle class="m55" cx="211.1" cy="131.9" r="1.2"/>
<circle class="m55" cx="180.5" cy="133.2" r="0.8"/>
<circle class="m55" cx="165.7" cy="140.0" r="0.9"/>
<circle class="m55" cx="191.6" cy="122.6" r="1.1"/>
<circle class="m55" cx="206.1" cy="120.7" r="0.7"/>
<circle class="m55" cx="186.0" cy="115.0" r="0.8"/>
<circle class="m55" cx="262.3" cy="124.8" r="1.2"/>
<circle class="m55" cx="247.5" cy="141.5" r="1.2"/>
<circle class="m55" cx="247.6" cy="110.3" r="0.9"/>
<circle class="m55" cx="200.2" cy="129.4" r="0.9"/>
<circle class="m55" cx="252.6" cy="119.6" r="1.2"/>
<circle class="m55" cx="209.0" cy="124.8" r="1.1"/>
<circle class="m55" cx="258.0" cy="119.3" r="0.9"/>
<circle class="m55" cx="226.0" cy="127.7" r="0.9"/>
<circle class="m55" cx="170.4" cy="122.2" r="0.8"/>
<circle class="m55" cx="224.4" cy="118.5" r="1.2"/>
<circle class="m55" cx="207.3" cy="138.0" r="1.1"/>
<circle class="m55" cx="286.8" cy="115.5" r="1.2"/>
<circle class="m55" cx="194.7" cy="125.0" r="0.8"/>
<circle class="m55" cx="218.3" cy="107.5" r="0.9"/>
<circle class="m55" cx="220.6" cy="126.4" r="1.2"/>
<circle class="m55" cx="206.9" cy="129.1" r="0.9"/>
<circle class="m55" cx="209.2" cy="125.9" r="1.0"/>
<circle class="m55" cx="227.0" cy="135.2" r="0.7"/>
<circle class="m55" cx="233.7" cy="103.8" r="1.1"/>
<circle class="m55" cx="217.1" cy="130.3" r="1.1"/>
<circle class="m55" cx="218.7" cy="108.4" r="0.9"/>
<circle class="m55" cx="225.8" cy="112.6" r="1.0"/>
<circle class="m55" cx="201.5" cy="107.0" r="1.1"/>
<circle class="m55" cx="221.5" cy="129.1" r="1.0"/>
<circle class="m55" cx="227.3" cy="120.3" r="1.1"/>
<circle class="m55" cx="251.4" cy="115.0" r="0.7"/>
<circle class="m55" cx="243.3" cy="119.9" r="0.9"/>
<circle class="m55" cx="236.8" cy="102.2" r="1.0"/>
<circle class="m55" cx="248.5" cy="113.7" r="1.1"/>
<circle class="m55" cx="207.5" cy="125.0" r="1.2"/>
<circle class="m55" cx="253.7" cy="113.2" r="1.1"/>
<circle class="m55" cx="217.2" cy="121.6" r="1.1"/>
<circle class="m55" cx="221.4" cy="108.1" r="0.7"/>
<circle class="m55" cx="216.4" cy="123.7" r="0.9"/>
<circle class="m55" cx="242.1" cy="116.9" r="1.0"/>
<circle class="m55" cx="238.3" cy="121.4" r="1.0"/>
<circle class="m55" cx="247.9" cy="118.2" r="1.1"/>
<circle class="m55" cx="262.6" cy="113.6" r="1.1"/>
<circle class="m55" cx="257.0" cy="117.9" r="0.8"/>
<circle class="m55" cx="234.0" cy="118.0" r="1.1"/>
<circle class="m55" cx="256.5" cy="124.0" r="1.2"/>
<circle class="m55" cx="258.3" cy="114.9" r="0.7"/>
<circle class="m55" cx="250.2" cy="117.7" r="1.1"/>
<circle class="m55" cx="244.2" cy="123.8" r="0.7"/>
<circle class="m55" cx="236.0" cy="117.4" r="1.0"/>
<circle class="m55" cx="255.7" cy="106.6" r="1.1"/>
<circle class="m55" cx="253.7" cy="124.8" r="0.8"/>
<circle class="m55" cx="250.9" cy="114.7" r="1.2"/>
<circle class="m55" cx="262.9" cy="119.6" r="1.2"/>
<circle class="m55" cx="257.8" cy="111.1" r="1.0"/>
<circle class="m55" cx="241.8" cy="116.1" r="0.8"/>
<circle class="m55" cx="249.1" cy="108.7" r="0.8"/>
<circle class="m55" cx="267.3" cy="131.6" r="0.9"/>
<circle class="m55" cx="237.6" cy="108.1" r="0.8"/>
<circle class="m55" cx="279.4" cy="126.2" r="1.3"/>
<circle class="m55" cx="247.6" cy="100.8" r="0.8"/>
<circle class="m55" cx="284.7" cy="119.8" r="1.1"/>
<circle class="m55" cx="259.4" cy="115.0" r="0.8"/>
<circle class="m55" cx="235.2" cy="126.4" r="0.7"/>
<circle class="m65" cx="141.1" cy="97.0" r="1.2"/>
<circle class="m65" cx="141.0" cy="99.6" r="1.1"/>
<circle class="m65" cx="141.0" cy="102.2" r="0.9"/>
<circle class="m65" cx="141.4" cy="104.8" r="1.0"/>
<circle class="m65" cx="140.7" cy="107.5" r="0.9"/>
<circle class="m65" cx="140.5" cy="110.1" r="1.1"/>
<circle class="m65" cx="141.4" cy="112.7" r="0.9"/>
<circle class="m65" cx="140.7" cy="115.3" r="1.1"/>
<circle class="m65" cx="141.0" cy="117.9" r="1.3"/>
<circle class="m65" cx="140.9" cy="120.5" r="1.3"/>
<circle class="m65" cx="140.8" cy="123.2" r="0.9"/>
<circle class="m65" cx="140.6" cy="125.8" r="1.3"/>
<circle class="m65" cx="141.4" cy="128.4" r="0.8"/>
<circle class="m65" cx="140.5" cy="131.0" r="1.1"/>
<circle class="m80" cx="141.5" cy="97.5" r="1.8"/>
<circle class="m55" cx="172.6" cy="137.9" r="1.2"/>
<circle class="m55" cx="164.5" cy="140.4" r="1.3"/>
<circle class="m55" cx="173.0" cy="135.0" r="0.8"/>
<circle class="m55" cx="158.3" cy="126.1" r="1.0"/>
<circle class="m55" cx="156.2" cy="136.0" r="1.2"/>
<circle class="m55" cx="161.4" cy="138.3" r="0.9"/>
<circle class="m55" cx="172.7" cy="133.0" r="0.8"/>
<circle class="m55" cx="175.0" cy="129.3" r="1.2"/>
<circle class="m55" cx="167.7" cy="132.0" r="1.4"/>
<circle class="m55" cx="188.0" cy="132.5" r="0.8"/>
<circle class="m55" cx="182.1" cy="117.3" r="1.3"/>
<circle class="m55" cx="175.6" cy="141.2" r="1.2"/>
<circle class="n50" cx="144.5" cy="118.3" r="1.8"/>
<circle class="n50" cx="153.2" cy="130.1" r="1.8"/>
<circle class="n50" cx="158.6" cy="118.9" r="1.8"/>
<circle class="n50" cx="146.3" cy="131.1" r="2.2"/>
<circle class="n50" cx="150.7" cy="145.7" r="2.0"/>
<circle class="n50" cx="147.4" cy="124.3" r="1.9"/>
<circle class="n50" cx="149.7" cy="117.3" r="1.3"/>
<circle class="n50" cx="152.9" cy="132.1" r="1.4"/>
<circle class="n50" cx="156.1" cy="123.6" r="2.0"/>
<circle class="n50" cx="157.3" cy="129.6" r="2.2"/>
<circle class="n50" cx="148.0" cy="129.8" r="1.4"/>
<circle class="n50" cx="156.0" cy="131.2" r="1.9"/>
<circle class="n50" cx="148.3" cy="143.6" r="2.2"/>
<circle class="n50" cx="145.1" cy="131.8" r="1.5"/>
<circle class="n50" cx="146.2" cy="131.5" r="1.2"/>
<circle class="h60" cx="275.0" cy="102.0" r="1.2"/>
<circle class="h60" cx="252.0" cy="139.0" r="1.2"/>
<circle class="h60" cx="262.0" cy="148.0" r="1.2"/>
<circle class="h60" cx="270.0" cy="146.0" r="1.2"/>
<circle class="h60" cx="266.0" cy="153.0" r="1.2"/>
<circle class="h60" cx="295.0" cy="132.0" r="1.2"/>
<circle class="h60" cx="292.0" cy="148.0" r="1.2"/>
<circle class="h60" cx="281.0" cy="170.0" r="1.2"/>
<circle class="h60" cx="232.0" cy="155.0" r="1.2"/>
<circle class="h60" cx="224.0" cy="161.0" r="1.2"/>
<circle class="h60" cx="234.0" cy="178.0" r="1.2"/>
<circle class="h60" cx="214.0" cy="175.0" r="1.2"/>
<circle class="h60" cx="253.0" cy="172.0" r="1.2"/>
<circle class="h60" cx="210.0" cy="146.0" r="1.2"/>
<circle class="h60" cx="206.0" cy="184.0" r="1.2"/>
<circle class="h60" cx="188.0" cy="185.0" r="1.2"/>
<circle class="c70" cx="64.4" cy="147.6" r="1.5"/>
<circle class="m60" cx="186.8" cy="140.0" r="6.5"/>
<circle class="m60" cx="202.5" cy="138.6" r="5.0"/>
<circle class="m60" cx="195.0" cy="135.5" r="2.5"/>
<circle class="m60" cx="179.0" cy="151.0" r="5.5"/>
<circle class="m60" cx="184.0" cy="157.0" r="6.5"/>
<circle class="m60" cx="180.0" cy="164.0" r="5.5"/>
<circle class="m60" cx="176.0" cy="159.0" r="5.0"/>
<circle class="m60" cx="187.0" cy="165.0" r="4.5"/>
<circle class="m60" cx="160.4" cy="130.7" r="4.0"/>
<circle class="m60" cx="156.4" cy="132.0" r="4.0"/>
<circle class="m60" cx="150.5" cy="136.0" r="3.0"/>
<circle class="m60" cx="139.9" cy="132.6" r="2.5"/>
<circle class="m60" cx="251.0" cy="151.4" r="6.0"/>
<circle class="m60" cx="120.1" cy="168.2" r="1.8"/>
<circle class="m60" cx="193.0" cy="150.0" r="4.0"/>
<circle class="m60" cx="172.0" cy="137.0" r="3.0"/>
<circle class="n50" cx="203.6" cy="147.8" r="2.2"/>
<circle class="l65" cx="197.7" cy="158.4" r="6.2"/>
<circle cx="154.3" cy="156.6" r="15.6" fill="#8cc46a" fill-opacity="0.9" stroke="none"/>
<circle cx="152.8" cy="155.1" r="15.7" fill="#f49490" fill-opacity="0.62" stroke="#b86060" stroke-opacity="0.55" stroke-width="0.45"/>
<circle cx="153.7" cy="155.3" r="14.5" fill="#f49490" fill-opacity="0.62" stroke="#b86060" stroke-opacity="0.55" stroke-width="0.45"/>
<circle cx="154.6" cy="155.5" r="13.3" fill="#f49490" fill-opacity="0.62" stroke="#b86060" stroke-opacity="0.55" stroke-width="0.45"/>
<circle cx="155.5" cy="155.6" r="12.1" fill="#f49490" fill-opacity="0.62" stroke="#b86060" stroke-opacity="0.55" stroke-width="0.45"/>
<circle cx="156.4" cy="155.8" r="10.9" fill="#f49490" fill-opacity="0.62" stroke="#b86060" stroke-opacity="0.55" stroke-width="0.45"/>
<circle cx="157.3" cy="156.0" r="9.7" fill="#f49490" fill-opacity="0.62" stroke="#b86060" stroke-opacity="0.55" stroke-width="0.45"/>
<circle cx="158.2" cy="156.2" r="8.5" fill="#f49490" fill-opacity="0.62" stroke="#b86060" stroke-opacity="0.55" stroke-width="0.45"/>
<circle class="a50" cx="172.3" cy="145.2" r="6.0"/>
<circle class="m15" cx="172.3" cy="145.2" r="6.0"/>
<circle class="o60" cx="166.3" cy="144.5" r="2.5"/>
<circle class="p85" cx="168.5" cy="153.0" r="4.5"/>
<circle class="o72" cx="156.5" cy="155.7" r="6.0"/>
<circle class="o72" cx="163.0" cy="156.4" r="7.2"/>
<circle class="p30" cx="162.0" cy="157.0" r="5.0"/>
<circle class="h95" cx="179.5" cy="153.8" r="2.3"/>
<circle class="c80" cx="164.0" cy="140.0" r="1.5"/>
<circle class="o60" cx="104.7" cy="168.0" r="4.0"/>
<circle class="p70" cx="109.0" cy="179.8" r="3.2"/>
<circle class="o70" cx="99.8" cy="186.0" r="1.7"/>
<circle cx="297" cy="171" r="14.7" fill="#e31a1c" fill-opacity="0.62" stroke="#c01010" stroke-opacity="0.3" stroke-width="0.5"/>
</g>
<rect x="312" y="0" width="69.5" height="90.5" fill="#fff"/>
<text x="354.5" y="3.9" font-size="6.0" text-anchor="middle" textLength="61.4" lengthAdjust="spacingAndGlyphs" fill="#333" style="stroke-width:0.05px">[count; sum length; n50]</text>
<rect x="334.0" y="6.50" width="6.6" height="6.6" fill="#999999" stroke="#222" stroke-width="0.9"/>
<text x="330.8" y="11.90" font-size="6.0" text-anchor="end" textLength="10.55" lengthAdjust="spacingAndGlyphs" fill="#333" style="stroke-width:0.05px">total</text>
<text x="343.2" y="11.90" font-size="6.0" textLength="45.37" lengthAdjust="spacingAndGlyphs" fill="#333" style="stroke-width:0.05px">[5.3k; 860M; 1.9M]</text>
<rect x="334.0" y="14.15" width="6.6" height="6.6" fill="#a6cee3" stroke="#222" stroke-width="0.9"/>
<text x="330.8" y="19.55" font-size="6.0" text-anchor="end" textLength="13.96" lengthAdjust="spacingAndGlyphs" fill="#333" style="stroke-width:0.05px">no-hit</text>
<text x="343.2" y="19.55" font-size="6.0" textLength="42.02" lengthAdjust="spacingAndGlyphs" fill="#333" style="stroke-width:0.05px">[4.1k; 120M; 37k]</text>
<rect x="334.0" y="21.80" width="6.6" height="6.6" fill="#1f78b4" stroke="#222" stroke-width="0.9"/>
<text x="330.8" y="27.20" font-size="6.0" text-anchor="end" textLength="22.02" lengthAdjust="spacingAndGlyphs" fill="#333" style="stroke-width:0.05px">Mollusca</text>
<text x="343.2" y="27.20" font-size="6.0" textLength="44.15" lengthAdjust="spacingAndGlyphs" fill="#333" style="stroke-width:0.05px">[851; 470M; 2.0M]</text>
<rect x="334.0" y="29.45" width="6.6" height="6.6" fill="#b2df8a" stroke="#222" stroke-width="0.9"/>
<text x="330.8" y="34.85" font-size="6.0" text-anchor="end" textLength="22.96" lengthAdjust="spacingAndGlyphs" fill="#333" style="stroke-width:0.05px">Chordata</text>
<text x="343.2" y="34.85" font-size="6.0" textLength="43.75" lengthAdjust="spacingAndGlyphs" fill="#333" style="stroke-width:0.05px">[130; 110M; 2.8M]</text>
<rect x="334.0" y="37.10" width="6.6" height="6.6" fill="#33a02c" stroke="#222" stroke-width="0.9"/>
<text x="330.8" y="42.50" font-size="6.0" text-anchor="end" textLength="25.12" lengthAdjust="spacingAndGlyphs" fill="#333" style="stroke-width:0.05px">Ciliophora</text>
<text x="343.2" y="42.50" font-size="6.0" textLength="39.28" lengthAdjust="spacingAndGlyphs" fill="#333" style="stroke-width:0.05px">[122; 4.7M; 48k]</text>
<rect x="334.0" y="44.75" width="6.6" height="6.6" fill="#fb9a99" stroke="#222" stroke-width="0.9"/>
<text x="330.8" y="50.15" font-size="6.0" text-anchor="end" textLength="27.61" lengthAdjust="spacingAndGlyphs" fill="#333" style="stroke-width:0.05px">Arthropoda</text>
<text x="343.2" y="50.15" font-size="6.0" textLength="41.11" lengthAdjust="spacingAndGlyphs" fill="#333" style="stroke-width:0.05px">[80; 130M; 3.1M]</text>
<rect x="334.0" y="52.40" width="6.6" height="6.6" fill="#e31a1c" stroke="#222" stroke-width="0.9"/>
<text x="330.8" y="57.80" font-size="6.0" text-anchor="end" textLength="43.75" lengthAdjust="spacingAndGlyphs" fill="#333" style="stroke-width:0.05px">Pseudomonadota</text>
<text x="343.2" y="57.80" font-size="6.0" textLength="37.65" lengthAdjust="spacingAndGlyphs" fill="#333" style="stroke-width:0.05px">[14; 11M; 8.0M]</text>
<rect x="334.0" y="60.05" width="6.6" height="6.6" fill="#fdbf6f" stroke="#222" stroke-width="0.9"/>
<text x="330.8" y="65.45" font-size="6.0" text-anchor="end" textLength="31.95" lengthAdjust="spacingAndGlyphs" fill="#333" style="stroke-width:0.05px">Apicomplexa</text>
<text x="343.2" y="65.45" font-size="6.0" textLength="35.94" lengthAdjust="spacingAndGlyphs" fill="#333" style="stroke-width:0.05px">[10; 310k; 36k]</text>
<rect x="334.0" y="67.70" width="6.6" height="6.6" fill="#ff7f00" stroke="#222" stroke-width="0.9"/>
<text x="330.8" y="73.10" font-size="6.0" text-anchor="end" textLength="30.39" lengthAdjust="spacingAndGlyphs" fill="#333" style="stroke-width:0.05px">Ascomycota</text>
<text x="343.2" y="73.10" font-size="6.0" textLength="32.89" lengthAdjust="spacingAndGlyphs" fill="#333" style="stroke-width:0.05px">[9; 300k; 51k]</text>
<rect x="334.0" y="75.35" width="6.6" height="6.6" fill="#cab2d6" stroke="#222" stroke-width="0.9"/>
<text x="330.8" y="80.75" font-size="6.0" text-anchor="end" textLength="30.09" lengthAdjust="spacingAndGlyphs" fill="#333" style="stroke-width:0.05px">Chlorophyta</text>
<text x="343.2" y="80.75" font-size="6.0" textLength="36.54" lengthAdjust="spacingAndGlyphs" fill="#333" style="stroke-width:0.05px">[5; 1.6M; 1.2M]</text>
<rect x="334.0" y="83.00" width="6.6" height="6.6" fill="#6a3d9a" stroke="#222" stroke-width="0.9"/>
<text x="330.8" y="88.40" font-size="6.0" text-anchor="end" textLength="12.72" lengthAdjust="spacingAndGlyphs" fill="#333" style="stroke-width:0.05px">other</text>
<text x="343.2" y="88.40" font-size="6.0" textLength="39.58" lengthAdjust="spacingAndGlyphs" fill="#333" style="stroke-width:0.05px">[13; 4.8M; 1.2M]</text>
<circle cx="605.3" cy="197.6" r="139.65" fill="none" stroke="#a6cee3" stroke-width="27.50"/>
<circle cx="605.3" cy="197.6" r="130.95" fill="none" stroke="#1f78b4" stroke-width="10.10"/>
<polygon points="522.73,88.03 523.24,87.51 523.77,87.02 524.30,86.52 524.84,86.04 525.38,85.56 525.96,85.13 526.52,84.67 527.05,84.17 527.61,83.72 528.16,83.23 528.78,82.86 529.35,82.41 529.92,81.97 530.50,81.53 531.08,81.09 530.81,79.31 531.37,78.83 532.60,79.43 533.39,79.34 533.96,78.87 534.62,78.56 535.18,78.08 535.82,77.74 536.42,77.34 537.03,76.93 537.06,75.50 536.01,72.09 536.81,71.98 539.48,75.36 540.03,74.85 540.60,74.37 541.34,74.21 541.86,73.62 542.54,73.35 543.15,72.95 543.86,72.74 543.56,70.45 543.22,68.03 543.81,67.51 545.01,68.30 547.03,70.90 547.70,70.62 548.35,70.28 549.00,69.94 549.65,69.61 550.30,69.28 550.08,66.87 550.09,64.96 551.40,66.19 552.93,67.99 553.60,67.67 554.20,67.21 554.91,67.00 555.43,66.32 555.77,65.12 556.68,65.46 557.61,65.87 558.19,65.31 558.97,65.30 559.62,64.92 560.20,64.37 560.89,64.09 560.96,61.95 561.76,61.98 563.05,63.61 563.76,63.40 564.45,63.14 565.14,62.89 565.78,62.45 566.53,62.40 567.18,61.98 567.77,61.36 568.42,60.92 569.28,61.29 570.03,61.23 570.74,61.00 571.13,59.52 571.81,59.15 572.41,58.45 573.36,59.23 574.13,59.28 574.99,59.74 575.61,59.10 576.42,59.35 577.13,59.16 577.85,58.98 578.46,58.22 579.28,58.58 579.90,57.82 580.67,57.93 581.23,56.80 581.99,56.79 582.91,57.78 583.63,57.63 584.36,57.48 585.09,57.33 585.72,56.48 586.55,57.05 587.28,56.91 587.96,56.37 588.71,56.41 589.48,56.53 590.21,56.40 590.95,56.29 591.63,55.64 592.40,55.90 593.16,55.96 593.90,55.86 594.61,55.39 595.38,55.67 596.12,55.58 596.83,55.02 597.60,55.41 598.33,55.12 599.04,54.32 599.80,54.52 600.55,54.28 601.32,55.06 602.06,55.01 602.81,54.95 603.55,54.60 604.30,54.86 605.05,54.81 605.30,62.10 602.94,62.12 600.57,62.18 598.21,62.29 595.85,62.43 593.49,62.62 591.14,62.84 588.79,63.11 586.44,63.42 584.10,63.77 581.77,64.16 579.45,64.59 577.13,65.06 574.82,65.57 572.52,66.12 570.23,66.72 567.95,67.35 565.68,68.02 563.43,68.73 561.19,69.48 558.96,70.27 556.74,71.10 554.54,71.97 552.36,72.87 550.19,73.81 548.04,74.80 545.90,75.81 543.78,76.87 541.69,77.96 539.61,79.09 537.55,80.25 535.51,81.45 533.50,82.69 531.50,83.96 529.53,85.27 527.58,86.60 525.66,87.98 523.75,89.38" fill="#7ab0d9"/>
<polygon points="522.97,88.35 523.49,87.85 524.02,87.36 524.56,86.88 525.11,86.41 525.65,85.93 526.25,85.54 526.81,85.08 527.34,84.58 527.91,84.14 528.45,83.67 529.09,83.33 529.66,82.89 530.27,82.50 530.83,82.04 531.39,81.59 531.13,79.82 531.70,79.35 532.94,79.97 533.73,79.89 534.30,79.44 534.99,79.19 535.53,78.67 536.22,78.43 536.78,77.95 537.46,77.70 537.42,76.14 536.38,72.74 537.17,72.65 539.94,76.21 540.40,75.54 540.97,75.08 541.71,74.93 542.23,74.35 542.91,74.10 543.53,73.72 544.28,73.60 543.94,71.24 543.61,68.84 544.19,68.33 545.40,69.14 547.41,71.75 548.12,71.54 548.84,71.39 549.54,71.17 550.23,70.96 550.84,70.54 550.47,67.80 550.48,65.90 551.80,67.14 553.38,69.11 554.07,68.87 554.59,68.21 555.30,68.02 555.82,67.35 556.16,66.17 557.07,66.51 558.12,67.26 558.58,66.39 559.46,66.70 560.00,66.04 560.59,65.50 561.27,65.23 561.34,63.11 562.13,63.15 563.43,64.80 564.28,65.08 565.03,65.05 565.70,64.77 566.14,63.70 566.96,63.90 567.54,63.26 568.13,62.64 568.77,62.22 569.63,62.60 570.40,62.65 571.08,62.36 571.47,60.88 572.14,60.52 572.73,59.83 573.68,60.63 574.45,60.69 575.37,61.47 575.92,60.54 576.79,61.15 577.51,61.01 578.15,60.48 578.75,59.73 579.57,60.10 580.18,59.35 580.94,59.47 581.50,58.36 582.25,58.36 583.18,59.52 584.02,60.15 584.74,60.05 585.34,59.10 585.95,58.12 586.80,58.91 587.60,59.40 588.17,58.05 588.91,58.11 589.67,58.28 590.44,58.59 591.13,58.08 591.80,57.40 592.57,57.67 593.32,57.80 594.10,58.46 594.74,57.20 595.55,58.16 596.25,57.73 596.94,56.87 597.73,57.74 598.42,56.99 599.13,56.21 599.88,56.42 600.61,56.19 601.38,57.36 602.11,57.24 602.86,57.72 603.58,56.56 604.32,57.10 605.05,57.02 605.30,62.10 602.94,62.12 600.57,62.18 598.21,62.29 595.85,62.43 593.49,62.62 591.14,62.84 588.79,63.11 586.44,63.42 584.10,63.77 581.77,64.16 579.45,64.59 577.13,65.06 574.82,65.57 572.52,66.12 570.23,66.72 567.95,67.35 565.68,68.02 563.43,68.73 561.19,69.48 558.96,70.27 556.74,71.10 554.54,71.97 552.36,72.87 550.19,73.81 548.04,74.80 545.90,75.81 543.78,76.87 541.69,77.96 539.61,79.09 537.55,80.25 535.51,81.45 533.50,82.69 531.50,83.96 529.53,85.27 527.58,86.60 525.66,87.98 523.75,89.38" fill="#3d84bf"/>
<polygon points="605.30,197.60 615.61,191.46 615.66,191.55 615.71,191.64 615.77,191.73 615.82,191.82 615.87,191.91 615.92,192.01 615.97,192.10 616.01,192.19 616.06,192.29 616.11,192.38 616.15,192.48 616.20,192.57 616.24,192.67 616.28,192.77 616.33,192.86 616.37,192.96 616.41,193.06 616.45,193.15 616.48,193.25 616.52,193.35 616.56,193.45 616.60,193.55 616.63,193.65 616.66,193.75 616.70,193.85 616.73,193.95 616.76,194.05 616.79,194.15 616.82,194.25 616.85,194.35 616.88,194.45 616.91,194.56 616.93,194.66 616.96,194.76 616.98,194.86 617.01,194.96 617.03,195.07 617.05,195.17 617.07,195.27 617.09,195.38 617.11,195.48 617.13,195.59 617.15,195.69 617.16,195.79 617.18,195.90 617.19,196.00 617.21,196.11 617.22,196.21 617.23,196.32 617.24,196.42 617.25,196.53 617.26,196.63 617.27,196.74 617.28,196.84 617.28,196.95 617.29,197.05 617.29,197.16 617.30,197.26 617.30,197.37 617.30,197.47 617.30,197.58 617.30,197.68 617.30,197.79 617.30,197.89 617.29,198.00 617.29,198.10 617.28,198.21 617.28,198.32 617.27,198.42 617.26,198.53 617.26,198.63 617.25,198.74 617.24,198.84 617.22,198.95 617.21,199.05 617.20,199.15 617.18,199.26 617.17,199.36 617.15,199.47 617.14,199.57 617.12,199.68 617.10,199.78 617.08,199.88 617.06,199.99 617.04,200.09 617.02,200.19 616.99,200.29 616.97,200.40 616.94,200.50 616.92,200.60 616.89,200.70 616.86,200.81 616.84,200.91 616.81,201.01 630.04,204.93 629.97,205.14 629.91,205.36 629.84,205.58 629.77,205.79 629.69,206.01 629.62,206.22 629.54,206.43 629.46,206.64 629.38,206.86 629.30,207.07 629.22,207.28 629.13,207.49 629.04,207.70 628.95,207.90 628.86,208.11 628.77,208.32 628.67,208.52 628.58,208.73 628.48,208.93 628.38,209.13 628.28,209.34 628.17,209.54 628.07,209.74 627.96,209.94 627.85,210.13 627.74,210.33 627.63,210.53 627.51,210.72 627.40,210.92 627.28,211.11 627.16,211.30 627.04,211.50 626.92,211.69 626.79,211.87 626.67,212.06 626.54,212.25 626.41,212.44 626.28,212.62 626.14,212.80 626.01,212.99 625.87,213.17 625.74,213.35 625.60,213.53 625.46,213.70 625.32,213.88 625.17,214.05 625.03,214.23 624.88,214.40 624.73,214.57 624.58,214.74 624.43,214.91 624.28,215.08 624.12,215.24 623.97,215.41 623.81,215.57 623.65,215.73 623.49,215.89 623.33,216.05 623.17,216.21 623.01,216.36 622.84,216.52 622.67,216.67 622.51,216.82 622.34,216.97 622.17,217.12 621.99,217.27 621.82,217.42 621.65,217.56 621.47,217.70 621.29,217.84 621.12,217.98 620.94,218.12 620.76,218.26 620.57,218.39 630.28,231.61 629.98,231.83 629.68,232.05 629.37,232.26 629.07,232.47 628.76,232.68 628.45,232.89 628.14,233.09 627.82,233.29 627.51,233.49 627.19,233.68 626.87,233.87 626.55,234.06 626.22,234.25 625.90,234.43 625.57,234.61 625.25,234.79 624.92,234.96 624.59,235.13 624.25,235.30 623.92,235.47 623.59,235.63 623.25,235.79 622.91,235.95 622.57,236.10 622.23,236.25 621.89,236.40 621.55,236.55 621.20,236.69 620.86,236.83 620.51,236.96 620.16,237.10 619.81,237.23 619.46,237.35 619.11,237.48 618.76,237.60 618.41,237.71 618.05,237.83 617.69,237.94 617.34,238.05 616.98,238.15 616.62,238.25 616.26,238.35 615.90,238.45 615.54,238.54 615.18,238.63 614.82,238.71 614.45,238.80 614.09,238.87 613.73,238.95 613.36,239.02 612.99,239.09 612.63,239.16 614.33,248.81 613.88,248.89 613.43,248.96 612.99,249.03 612.54,249.09 612.09,249.16 611.64,249.21 611.19,249.27 610.74,249.32 610.28,249.36 609.83,249.40 609.38,249.44 608.93,249.47 608.47,249.50 608.02,249.53 607.57,249.55 607.11,249.57 606.66,249.58 606.21,249.59 605.75,249.60 605.30,249.60 605.30,251.20 604.82,251.20 604.34,251.19 603.85,251.18 603.37,251.17 602.89,251.15 602.41,251.12 601.92,251.09 601.44,251.06 600.96,251.02 600.48,250.98 600.00,250.94 599.52,250.89 599.04,250.83 598.56,250.77 598.08,250.71 597.61,250.64 597.13,250.57 596.65,250.50 596.18,250.42 595.38,255.05 594.87,254.96 594.37,254.87 593.87,254.77 593.37,254.67 592.87,254.56 592.37,254.45 591.87,254.33 591.37,254.21 590.87,254.09 590.38,253.96 589.88,253.83 589.39,253.69 588.90,253.55 588.41,253.40 587.92,253.25 587.43,253.09 586.95,252.94 586.46,252.77 585.98,252.60 585.50,252.43 585.01,252.26 584.54,252.08 584.06,251.89 583.58,251.70 583.11,251.51 582.64,251.31 582.17,251.11 581.70,250.91 581.23,250.70 580.76,250.49 580.30,250.27 579.84,250.05 579.38,249.82 578.92,249.59 578.47,249.36 578.01,249.12 577.56,248.88 577.11,248.63 576.67,248.38 576.22,248.13 575.78,247.87 575.34,247.61 574.90,247.35 574.47,247.08 574.03,246.81 573.60,246.53 573.17,246.25 572.75,245.97 572.33,245.68 571.90,245.39 571.49,245.09 571.07,244.79 570.66,244.49 570.25,244.19 569.84,243.88 569.44,243.56 569.03,243.25 568.63,242.93 568.24,242.60 567.84,242.28 567.45,241.95 567.07,241.61 566.68,241.27 566.30,240.93 565.92,240.59 565.54,240.24 565.17,239.89 564.80,239.54 563.27,241.12 562.89,240.75 562.52,240.38 562.15,240.01 561.78,239.63 561.41,239.25 561.05,238.86 560.69,238.47 560.34,238.08 559.99,237.69 559.64,237.29 559.30,236.89 558.95,236.49 558.62,236.08 558.28,235.67 557.95,235.26 557.63,234.85 557.30,234.43 556.98,234.01 556.67,233.59 556.35,233.16 556.05,232.73 555.74,232.30 555.44,231.87 555.14,231.43 554.85,230.99 554.56,230.55 554.27,230.11 553.99,229.66 551.36,231.30 551.07,230.83 550.78,230.36 550.50,229.88 550.22,229.40 549.95,228.92 549.67,228.43 549.41,227.95 549.14,227.46 548.89,226.97 548.63,226.47 548.38,225.98 548.14,225.48 547.90,224.98 547.66,224.48 547.43,223.97 547.20,223.47 546.97,222.96 546.76,222.45 546.02,222.76 545.80,222.24 545.59,221.72 545.38,221.20 545.18,220.68 544.98,220.15 544.78,219.63 544.59,219.10 544.41,218.57 544.23,218.03 544.05,217.50 543.88,216.97 543.71,216.43 543.55,215.89 543.39,215.35 543.24,214.81 542.37,215.05 542.23,214.50 542.08,213.95 541.94,213.40 541.80,212.84 541.67,212.29 541.55,211.73 541.43,211.18 541.31,210.62 541.20,210.06 541.09,209.50 540.99,208.94 540.90,208.38 540.80,207.82 540.72,207.25 540.64,206.69 540.56,206.12 540.49,205.56 540.42,204.99 540.36,204.43 540.30,203.86 540.25,203.29 540.20,202.72 540.16,202.16 540.12,201.59 540.09,201.02 537.39,201.16 537.36,200.57 537.34,199.97 537.32,199.38 537.31,198.79 537.30,198.19 537.30,197.60 537.30,197.01 537.31,196.41 537.32,195.82 537.34,195.23 537.36,194.63 537.39,194.04 537.43,193.45 537.47,192.86 537.51,192.26 537.56,191.67 537.61,191.08 537.67,190.49 537.74,189.90 537.81,189.31 537.88,188.72 537.96,188.14 538.05,187.55 538.14,186.96 538.23,186.38 538.33,185.79 538.44,185.21 538.55,184.62 538.67,184.04 538.79,183.46 538.91,182.88 539.04,182.30 539.18,181.73 539.32,181.15 539.47,180.57 539.62,180.00 539.77,179.43 539.93,178.86 540.10,178.29 540.27,177.72 540.45,177.15 540.63,176.59 540.81,176.02 541.00,175.46 541.20,174.90 541.40,174.34 541.61,173.79 541.82,173.23 542.03,172.68 542.25,172.13 542.48,171.58 542.71,171.03 542.94,170.49 543.18,169.94 543.42,169.40 543.67,168.86 543.92,168.33 544.18,167.79 544.44,167.26 544.71,166.73 544.98,166.20 545.26,165.68 545.54,165.15 545.83,164.63 546.12,164.12 546.41,163.60 546.71,163.09 547.01,162.58 547.32,162.07 547.63,161.57 547.95,161.06 548.27,160.56 548.60,160.07 544.01,157.03 544.37,156.49 544.74,155.95 545.11,155.41 545.49,154.88 545.87,154.35 546.26,153.82 546.65,153.29 547.05,152.77 547.45,152.26 547.86,151.74 548.27,151.24 548.68,150.73 549.10,150.23 549.53,149.73 549.96,149.23 550.39,148.74 550.83,148.26 551.27,147.77 551.71,147.30 552.16,146.82 545.00,139.98 545.51,139.46 546.02,138.94 546.53,138.42 547.05,137.91 547.58,137.41 548.10,136.90 548.63,136.41 549.17,135.91 549.71,135.43 550.26,134.94 550.80,134.47 551.36,133.99 551.91,133.53 552.48,133.06 553.04,132.60 539.51,115.77 540.37,115.09 541.23,114.41 536.35,108.07 537.14,107.47 537.93,106.88 535.18,103.19 535.90,102.43 536.62,101.67 537.36,100.93 538.10,100.19 538.85,99.46 539.61,98.73 540.39,98.02 541.17,97.32 541.95,96.62 542.75,95.93 543.56,95.25 544.38,94.58 545.20,93.92 546.03,93.27 546.87,92.63 547.72,92.00 548.58,91.37 549.44,90.76 550.32,90.15 551.20,89.56 552.09,88.98 552.98,88.40 553.88,87.84 554.79,87.28 555.71,86.74 556.63,86.20 557.56,85.68 558.50,85.17 559.44,84.66 560.39,84.17 561.35,83.69 562.31,83.22 563.27,82.76 564.25,82.31 565.23,81.87 566.21,81.44 567.20,81.03 568.19,80.62 569.19,80.23 570.20,79.85 571.20,79.47 572.22,79.11 573.24,78.76 574.26,78.42 575.28,78.10 576.31,77.78 577.35,77.48 578.38,77.18 579.42,76.90 580.47,76.63 581.52,76.37 582.57,76.13 583.62,75.89 584.68,75.67 585.74,75.46 586.80,75.26 587.86,75.07 588.93,74.89 589.99,74.72 591.06,74.57 592.14,74.43 593.21,74.29 594.28,74.17 595.36,74.07 596.44,73.97 597.52,73.88 598.60,73.81 599.68,73.75 600.76,73.70 601.84,73.65 602.92,73.63 604.00,73.61 605.08,73.60 605.30,73.60 605.30,73.60 605.30,197.60 605.30,71.70 604.20,71.70 603.10,71.72 602.00,71.74 600.91,71.78 599.81,71.82 598.71,71.87 597.61,71.93 596.52,72.01 595.42,72.09 594.33,72.18 593.23,72.28 592.14,72.39 591.05,72.51 589.96,72.64 588.87,72.78 587.78,72.93 586.69,73.08 585.60,73.25 584.52,73.43 583.44,73.61 582.36,73.81 581.28,74.01 580.20,74.23 579.12,74.45 578.05,74.68 576.98,74.93 575.91,75.18 574.84,75.44 573.78,75.71 572.71,75.99 571.65,76.28 570.60,76.58 569.54,76.88 568.49,77.20 567.44,77.53 566.39,77.86 565.35,78.21 564.31,78.56 563.27,78.92 562.24,79.29 561.21,79.67 560.18,80.06 559.16,80.46 558.14,80.87 557.12,81.28 556.11,81.71 555.10,82.14 554.09,82.58 553.09,83.04 552.09,83.50 551.10,83.96 550.11,84.44 549.12,84.93 548.14,85.42 547.17,85.93 546.19,86.44 545.23,86.96 544.26,87.49 543.30,88.02 542.35,88.57 541.40,89.12 540.46,89.68 539.52,90.25 538.58,90.83 537.65,91.42 536.73,92.01 535.81,92.61 534.90,93.22 533.99,93.84 533.09,94.47 532.19,95.10 531.30,95.74 530.41,96.39 529.53,97.05 528.66,97.72 527.79,98.39 526.93,99.07 526.07,99.76 525.22,100.45 524.37,101.16 523.53,101.86 522.70,102.58 521.88,103.31 521.06,104.04 520.24,104.78 519.44,105.52 518.64,106.28 517.84,107.04 517.06,107.80 516.28,108.58 515.50,109.36 514.74,110.14 513.98,110.94 513.22,111.74 512.48,112.54 511.74,113.36 511.01,114.18 510.28,115.00 509.56,115.83 508.86,116.67 508.15,117.52 507.46,118.37 506.77,119.23 506.09,120.09 505.42,120.96 504.75,121.83 504.09,122.71 503.44,123.60 502.80,124.49 502.17,125.39 501.54,126.29 500.92,127.20 500.31,128.11 499.71,129.03 499.12,129.95 498.53,130.88 497.95,131.82 497.38,132.76 496.82,133.70 496.27,134.65 495.72,135.60 495.19,136.56 494.66,137.53 494.14,138.49 493.63,139.47 493.12,140.44 492.63,141.42 492.14,142.41 491.66,143.40 491.20,144.39 490.74,145.39 490.28,146.39 489.84,147.40 489.41,148.41 488.98,149.42 488.57,150.44 488.16,151.46 487.76,152.48 487.37,153.51 486.99,154.54 486.62,155.57 486.26,156.61 485.91,157.65 485.56,158.69 485.23,159.74 484.90,160.79 484.58,161.84 484.28,162.90 483.98,163.95 483.69,165.01 483.41,166.08 483.14,167.14 482.88,168.21 482.63,169.28 482.38,170.35 482.15,171.42 481.93,172.50 481.71,173.58 481.51,174.66 481.31,175.74 481.13,176.82 480.95,177.90 480.78,178.99 480.63,180.08 480.48,181.17 480.34,182.26 480.21,183.35 480.09,184.44 479.98,185.53 479.88,186.63 479.79,187.72 479.71,188.82 479.63,189.91 479.57,191.01 479.52,192.11 479.48,193.21 479.44,194.30 479.42,195.40 479.40,196.50 479.40,197.60 479.40,198.70 479.42,199.80 479.44,200.90 479.48,201.99 479.52,203.09 479.57,204.19 479.63,205.29 479.71,206.38 479.79,207.48 479.88,208.57 479.98,209.67 480.09,210.76 480.21,211.85 480.34,212.94 480.48,214.03 480.63,215.12 480.78,216.21 480.95,217.30 481.13,218.38 481.31,219.46 481.51,220.54 481.71,221.62 481.93,222.70 482.15,223.78 482.38,224.85 482.63,225.92 482.88,226.99 483.14,228.06 483.41,229.12 483.69,230.19 483.98,231.25 484.28,232.30 484.58,233.36 484.90,234.41 485.23,235.46 485.56,236.51 485.91,237.55 486.26,238.59 486.62,239.63 486.99,240.66 487.37,241.69 487.76,242.72 488.16,243.74 488.57,244.76 488.98,245.78 489.41,246.79 489.84,247.80 490.28,248.81 490.74,249.81 491.20,250.81 491.66,251.80 492.14,252.79 492.63,253.78 493.12,254.76 493.63,255.73 494.14,256.71 494.66,257.67 495.19,258.64 495.72,259.60 496.27,260.55 496.82,261.50 497.38,262.44 497.95,263.38 498.53,264.32 499.12,265.25 499.71,266.17 500.31,267.09 500.92,268.00 501.54,268.91 502.17,269.81 502.80,270.71 503.44,271.60 504.09,272.49 504.75,273.37 505.42,274.24 506.09,275.11 506.77,275.97 507.46,276.83 508.15,277.68 508.86,278.53 509.56,279.37 510.28,280.20 511.01,281.02 511.74,281.84 512.48,282.66 513.22,283.46 513.98,284.26 514.74,285.06 515.50,285.84 516.28,286.62 517.06,287.40 517.84,288.16 518.64,288.92 519.44,289.68 520.24,290.42 521.06,291.16 521.88,291.89 522.70,292.62 523.53,293.34 524.37,294.04 525.22,294.75 526.07,295.44 526.93,296.13 527.79,296.81 528.66,297.48 529.53,298.15 530.41,298.81 531.30,299.46 532.19,300.10 533.09,300.73 533.99,301.36 534.90,301.98 535.81,302.59 536.73,303.19 537.65,303.78 538.58,304.37 539.52,304.95 540.46,305.52 541.40,306.08 542.35,306.63 543.30,307.18 544.26,307.71 545.23,308.24 546.19,308.76 547.17,309.27 548.14,309.78 549.12,310.27 550.11,310.76 551.10,311.24 552.09,311.70 553.09,312.16 554.09,312.62 555.10,313.06 556.11,313.49 557.12,313.92 558.14,314.33 559.16,314.74 560.18,315.14 561.21,315.53 562.24,315.91 563.27,316.28 564.31,316.64 565.35,316.99 566.39,317.34 567.44,317.67 568.49,318.00 569.54,318.32 570.60,318.62 571.65,318.92 572.71,319.21 573.78,319.49 574.84,319.76 575.91,320.02 576.98,320.27 578.05,320.52 579.12,320.75 580.20,320.97 581.28,321.19 582.36,321.39 583.44,321.59 584.52,321.77 585.60,321.95 586.69,322.12 587.78,322.27 588.87,322.42 589.96,322.56 591.05,322.69 592.14,322.81 593.23,322.92 594.33,323.02 595.42,323.11 596.52,323.19 597.61,323.27 598.71,323.33 599.81,323.38 600.91,323.42 602.00,323.46 603.10,323.48 604.20,323.50 605.30,323.50 606.40,323.50 607.50,323.48 608.60,323.46 609.69,323.42 610.79,323.38 611.89,323.33 612.99,323.27 614.08,323.19 615.18,323.11 616.27,323.02 617.37,322.92 618.46,322.81 619.55,322.69 620.64,322.56 621.73,322.42 622.82,322.27 623.91,322.12 625.00,321.95 626.08,321.77 627.16,321.59 628.24,321.39 629.32,321.19 630.40,320.97 631.48,320.75 632.55,320.52 633.62,320.27 634.69,320.02 635.76,319.76 636.82,319.49 637.89,319.21 638.95,318.92 640.00,318.62 641.06,318.32 642.11,318.00 643.16,317.67 644.21,317.34 645.25,316.99 646.29,316.64 647.33,316.28 648.36,315.91 649.39,315.53 650.42,315.14 651.44,314.74 652.46,314.33 653.48,313.92 654.49,313.49 655.50,313.06 656.51,312.62 657.51,312.16 658.51,311.70 659.50,311.24 660.49,310.76 661.48,310.27 662.46,309.78 663.43,309.27 664.41,308.76 665.37,308.24 666.34,307.71 667.30,307.18 668.25,306.63 669.20,306.08 670.14,305.52 671.08,304.95 672.02,304.37 672.95,303.78 673.87,303.19 674.79,302.59 675.70,301.98 676.61,301.36 677.51,300.73 678.41,300.10 679.30,299.46 680.19,298.81 681.07,298.15 681.94,297.48 682.81,296.81 683.67,296.13 684.53,295.44 685.38,294.75 686.23,294.04 687.07,293.34 687.90,292.62 688.72,291.89 689.54,291.16 690.36,290.42 691.16,289.68 691.96,288.92 692.76,288.16 693.54,287.40 694.32,286.62 695.10,285.84 695.86,285.06 696.62,284.26 697.38,283.46 698.12,282.66 698.86,281.84 699.59,281.02 700.32,280.20 701.04,279.37 701.74,278.53 702.45,277.68 703.14,276.83 703.83,275.97 704.51,275.11 705.18,274.24 705.85,273.37 706.51,272.49 707.16,271.60 707.80,270.71 708.43,269.81 709.06,268.91 709.68,268.00 710.29,267.09 710.89,266.17 711.48,265.25 712.07,264.32 712.65,263.38 713.22,262.44 713.78,261.50 714.33,260.55 714.88,259.60 715.41,258.64 715.94,257.67 716.46,256.71 716.97,255.73 717.48,254.76 717.97,253.78 718.46,252.79 718.94,251.80 719.40,250.81 719.86,249.81 720.32,248.81 720.76,247.80 721.19,246.79 721.62,245.78 722.03,244.76 722.44,243.74 722.84,242.72 723.23,241.69 723.61,240.66 723.98,239.63 724.34,238.59 724.69,237.55 725.04,236.51 725.37,235.46 725.70,234.41 726.02,233.36 726.32,232.30 726.62,231.25 726.91,230.19 727.19,229.12 727.46,228.06 727.72,226.99 727.97,225.92 728.22,224.85 728.45,223.78 728.67,222.70 728.89,221.62 729.09,220.54 729.29,219.46 729.47,218.38 729.65,217.30 729.82,216.21 729.97,215.12 730.12,214.03 730.26,212.94 730.39,211.85 730.51,210.76 730.62,209.67 730.72,208.57 730.81,207.48 730.89,206.38 730.97,205.29 731.03,204.19 731.08,203.09 731.12,201.99 731.16,200.90 731.18,199.80 731.20,198.70 731.20,197.60 731.20,196.50 731.18,195.40 731.16,194.30 731.12,193.21 731.08,192.11 731.03,191.01 730.97,189.91 730.89,188.82 730.81,187.72 730.72,186.63 730.62,185.53 730.51,184.44 730.39,183.35 730.26,182.26 730.12,181.17 729.97,180.08 729.82,178.99 729.65,177.90 729.47,176.82 729.29,175.74 729.09,174.66 728.89,173.58 728.67,172.50 728.45,171.42 728.22,170.35 727.97,169.28 727.72,168.21 727.46,167.14 727.19,166.08 726.91,165.01 726.62,163.95 726.32,162.90 726.02,161.84 725.70,160.79 725.37,159.74 725.04,158.69 724.69,157.65 724.34,156.61 723.98,155.57 723.61,154.54 723.23,153.51 722.84,152.48 722.44,151.46 722.03,150.44 721.62,149.42 721.19,148.41 720.76,147.40 720.32,146.39 719.86,145.39 719.40,144.39 718.94,143.40 718.46,142.41 717.97,141.42 717.48,140.44 716.97,139.47 716.46,138.49 715.94,137.53 715.41,136.56 714.88,135.60 714.33,134.65 713.78,133.70 713.22,132.76 712.65,131.82 712.07,130.88 711.48,129.95 710.89,129.03 710.29,128.11 709.68,127.20 709.06,126.29 708.43,125.39 707.80,124.49 707.16,123.60 706.51,122.71 705.85,121.83 705.18,120.96 704.51,120.09 703.83,119.23 703.14,118.37 702.45,117.52 701.74,116.67 701.04,115.83 700.32,115.00 699.59,114.18 698.86,113.36 698.12,112.54 697.38,111.74 696.62,110.94 695.86,110.14 695.10,109.36 694.32,108.58 693.54,107.80 692.76,107.04 691.96,106.28 691.16,105.52 690.36,104.78 689.54,104.04 688.72,103.31 687.90,102.58 687.07,101.86 686.23,101.16 685.38,100.45 684.53,99.76 683.67,99.07 682.81,98.39 681.94,97.72 681.07,97.05 680.19,96.39 679.30,95.74 678.41,95.10 677.51,94.47 676.61,93.84 675.70,93.22 674.79,92.61 673.87,92.01 672.95,91.42 672.02,90.83 671.08,90.25 670.14,89.68 669.20,89.12 668.25,88.57 667.30,88.02 666.34,87.49 665.37,86.96 664.41,86.44 663.43,85.93 662.46,85.42 661.48,84.93 660.49,84.44 659.50,83.96 658.51,83.50 657.51,83.04 656.51,82.58 655.50,82.14 654.49,81.71 653.48,81.28 652.46,80.87 651.44,80.46 650.42,80.06 649.39,79.67 648.36,79.29 647.33,78.92 646.29,78.56 645.25,78.21 644.21,77.86 643.16,77.53 642.11,77.20 641.06,76.88 640.00,76.58 638.95,76.28 637.89,75.99 636.82,75.71 635.76,75.44 634.69,75.18 633.62,74.93 632.55,74.68 631.48,74.45 630.40,74.23 629.32,74.01 628.24,73.81 627.16,73.61 626.08,73.43 625.00,73.25 623.91,73.08 622.82,72.93 621.73,72.78 620.64,72.64 619.55,72.51 618.46,72.39 617.37,72.28 616.27,72.18 615.18,72.09 614.08,72.01 612.99,71.93 611.89,71.87 610.79,71.82 609.69,71.78 608.60,71.74 607.50,71.72 606.40,71.70 605.30,71.70" fill="#999999"/>
<polygon points="605.30,71.70 606.40,71.70 607.50,71.72 608.60,71.74 609.69,71.78 610.79,71.82 611.89,71.87 612.99,71.93 614.08,72.01 615.18,72.09 616.27,72.18 617.37,72.28 618.46,72.39 619.55,72.51 620.64,72.64 621.73,72.78 622.82,72.93 623.91,73.08 625.00,73.25 626.08,73.43 627.16,73.61 628.24,73.81 629.32,74.01 630.40,74.23 631.48,74.45 632.55,74.68 633.62,74.93 634.69,75.18 635.76,75.44 636.82,75.71 637.89,75.99 638.95,76.28 640.00,76.58 641.06,76.88 642.11,77.20 643.16,77.53 644.21,77.86 645.25,78.21 646.29,78.56 647.33,78.92 648.36,79.29 649.39,79.67 650.42,80.06 651.44,80.46 652.46,80.87 653.48,81.28 654.49,81.71 655.50,82.14 656.51,82.58 657.51,83.04 658.51,83.50 659.50,83.96 660.49,84.44 661.48,84.93 662.46,85.42 663.43,85.93 664.41,86.44 665.37,86.96 666.34,87.49 667.30,88.02 668.25,88.57 669.20,89.12 670.14,89.68 671.08,90.25 672.02,90.83 672.95,91.42 673.87,92.01 674.79,92.61 675.70,93.22 676.61,93.84 677.51,94.47 678.41,95.10 679.30,95.74 680.19,96.39 681.07,97.05 681.94,97.72 682.81,98.39 683.67,99.07 684.53,99.76 685.38,100.45 686.23,101.16 687.07,101.86 687.90,102.58 688.72,103.31 689.54,104.04 690.36,104.78 691.16,105.52 691.96,106.28 692.76,107.04 693.54,107.80 694.32,108.58 695.10,109.36 695.86,110.14 696.62,110.94 697.38,111.74 698.12,112.54 698.86,113.36 699.59,114.18 700.32,115.00 701.04,115.83 701.74,116.67 702.45,117.52 703.14,118.37 703.83,119.23 704.51,120.09 705.18,120.96 705.85,121.83 706.51,122.71 707.16,123.60 707.80,124.49 708.43,125.39 709.06,126.29 709.68,127.20 710.29,128.11 710.89,129.03 711.48,129.95 712.07,130.88 712.65,131.82 713.22,132.76 713.78,133.70 714.33,134.65 714.88,135.60 715.41,136.56 715.94,137.53 716.46,138.49 716.97,139.47 717.48,140.44 717.97,141.42 718.46,142.41 718.94,143.40 719.40,144.39 719.86,145.39 720.32,146.39 720.76,147.40 721.19,148.41 721.62,149.42 722.03,150.44 722.44,151.46 722.84,152.48 723.23,153.51 723.61,154.54 723.98,155.57 724.34,156.61 724.69,157.65 725.04,158.69 725.37,159.74 725.70,160.79 726.02,161.84 726.32,162.90 726.62,163.95 726.91,165.01 727.19,166.08 727.46,167.14 727.72,168.21 727.97,169.28 728.22,170.35 728.45,171.42 728.67,172.50 728.89,173.58 729.09,174.66 729.29,175.74 729.47,176.82 729.65,177.90 729.82,178.99 729.97,180.08 730.12,181.17 730.26,182.26 730.39,183.35 730.51,184.44 730.62,185.53 730.72,186.63 730.81,187.72 730.89,188.82 730.97,189.91 731.03,191.01 731.08,192.11 731.12,193.21 731.16,194.30 731.18,195.40 731.20,196.50 731.20,197.60 731.20,198.70 731.18,199.80 731.16,200.90 731.12,201.99 731.08,203.09 731.03,204.19 730.97,205.29 730.89,206.38 730.81,207.48 730.72,208.57 730.62,209.67 730.51,210.76 730.39,211.85 730.26,212.94 730.12,214.03 729.97,215.12 729.82,216.21 729.65,217.30 729.47,218.38 729.29,219.46 729.09,220.54 728.89,221.62 728.67,222.70 728.45,223.78 728.22,224.85 727.97,225.92 727.72,226.99 727.46,228.06 727.19,229.12 726.91,230.19 726.62,231.25 726.32,232.30 726.02,233.36 725.70,234.41 725.37,235.46 725.04,236.51 724.69,237.55 724.34,238.59 723.98,239.63 723.61,240.66 723.23,241.69 722.84,242.72 722.44,243.74 722.03,244.76 721.62,245.78 721.19,246.79 720.76,247.80 720.32,248.81 719.86,249.81 719.40,250.81 718.94,251.80 718.46,252.79 717.97,253.78 717.48,254.76 716.97,255.73 716.46,256.71 715.94,257.67 715.41,258.64 714.88,259.60 714.33,260.55 713.78,261.50 713.22,262.44 712.65,263.38 712.07,264.32 711.48,265.25 710.89,266.17 710.29,267.09 709.68,268.00 709.06,268.91 708.43,269.81 707.80,270.71 707.16,271.60 706.51,272.49 705.85,273.37 705.18,274.24 704.51,275.11 703.83,275.97 703.14,276.83 702.45,277.68 701.74,278.53 701.04,279.37 700.32,280.20 699.59,281.02 698.86,281.84 698.12,282.66 697.38,283.46 696.62,284.26 695.86,285.06 695.10,285.84 694.32,286.62 693.54,287.40 692.76,288.16 691.96,288.92 691.16,289.68 690.36,290.42 689.54,291.16 688.72,291.89 687.90,292.62 687.07,293.34 686.23,294.04 685.38,294.75 684.53,295.44 683.67,296.13 682.81,296.81 681.94,297.48 681.07,298.15 680.19,298.81 679.30,299.46 678.41,300.10 677.51,300.73 676.61,301.36 675.70,301.98 674.79,302.59 673.87,303.19 672.95,303.78 672.02,304.37 671.08,304.95 670.14,305.52 669.20,306.08 668.25,306.63 667.30,307.18 666.34,307.71 665.37,308.24 664.41,308.76 663.43,309.27 662.46,309.78 661.48,310.27 660.49,310.76 659.50,311.24 658.51,311.70 657.51,312.16 656.51,312.62 655.50,313.06 654.49,313.49 653.48,313.92 652.46,314.33 651.44,314.74 650.42,315.14 649.39,315.53 648.36,315.91 647.33,316.28 646.29,316.64 645.25,316.99 644.21,317.34 643.16,317.67 642.11,318.00 641.06,318.32 640.00,318.62 638.95,318.92 637.89,319.21 636.82,319.49 635.76,319.76 634.69,320.02 633.62,320.27 632.55,320.52 631.48,320.75 630.40,320.97 629.32,321.19 628.24,321.39 627.16,321.59 626.08,321.77 625.00,321.95 623.91,322.12 622.82,322.27 621.73,322.42 620.64,322.56 619.55,322.69 618.46,322.81 617.37,322.92 616.27,323.02 615.18,323.11 614.08,323.19 612.99,323.27 611.89,323.33 610.79,323.38 609.69,323.42 608.60,323.46 607.50,323.48 606.40,323.50 605.30,323.50 605.30,249.90 605.76,249.90 606.21,249.89 606.67,249.88 607.13,249.87 607.58,249.85 608.04,249.83 608.49,249.80 608.95,249.77 609.40,249.74 609.86,249.70 610.31,249.66 610.77,249.61 611.22,249.56 611.67,249.51 612.13,249.45 612.58,249.39 613.03,249.33 613.48,249.26 613.93,249.18 614.38,249.11 614.83,249.02 615.28,248.94 615.73,248.85 616.17,248.76 616.62,248.66 617.06,248.56 617.51,248.45 617.95,248.35 618.39,248.23 618.84,248.12 619.28,248.00 619.72,247.87 620.15,247.75 620.59,247.61 621.03,247.48 621.46,247.34 621.90,247.20 622.33,247.05 622.76,246.90 623.19,246.75 623.62,246.59 624.04,246.43 624.47,246.26 624.89,246.09 625.31,245.92 625.74,245.74 626.15,245.56 626.57,245.38 626.99,245.19 627.40,245.00 627.82,244.81 628.23,244.61 628.64,244.41 629.04,244.20 629.45,243.99 629.85,243.78 630.26,243.56 630.66,243.34 631.05,243.12 631.45,242.89 631.84,242.66 632.24,242.43 632.63,242.19 633.01,241.95 633.40,241.71 633.78,241.46 634.17,241.21 634.55,240.96 634.92,240.70 635.30,240.44 635.67,240.18 636.04,239.91 636.41,239.64 636.77,239.37 637.14,239.09 637.50,238.81 637.86,238.53 638.21,238.24 638.57,237.96 638.92,237.66 639.27,237.37 639.61,237.07 639.96,236.77 640.30,236.47 640.63,236.16 640.97,235.85 641.30,235.54 641.63,235.22 641.96,234.90 642.28,234.58 642.60,234.26 642.92,233.93 643.24,233.60 643.55,233.27 643.86,232.93 644.17,232.60 644.47,232.26 644.77,231.91 645.07,231.57 645.36,231.22 645.66,230.87 645.94,230.51 646.23,230.16 646.51,229.80 646.79,229.44 647.07,229.07 647.34,228.71 647.61,228.34 647.88,227.97 648.14,227.60 648.40,227.22 648.66,226.85 648.91,226.47 649.16,226.08 649.41,225.70 649.65,225.31 649.89,224.93 650.13,224.54 650.36,224.14 650.59,223.75 650.82,223.35 651.04,222.96 651.26,222.56 651.48,222.15 651.69,221.75 651.90,221.34 652.11,220.94 652.31,220.53 652.51,220.12 652.70,219.70 652.89,219.29 653.08,218.87 653.26,218.45 653.44,218.04 653.62,217.61 653.79,217.19 653.96,216.77 654.13,216.34 654.29,215.92 654.45,215.49 654.60,215.06 654.75,214.63 654.90,214.20 655.04,213.76 655.18,213.33 655.31,212.89 655.45,212.45 655.57,212.02 655.70,211.58 655.82,211.14 655.93,210.69 656.05,210.25 656.15,209.81 656.26,209.36 656.36,208.92 656.46,208.47 656.55,208.03 656.64,207.58 656.72,207.13 656.81,206.68 656.88,206.23 656.96,205.78 657.03,205.33 657.09,204.88 657.15,204.43 657.21,203.97 657.26,203.52 657.31,203.07 657.36,202.61 657.40,202.16 657.44,201.70 657.47,201.25 657.50,200.79 657.53,200.34 657.55,199.88 657.57,199.43 657.58,198.97 657.59,198.51 657.60,198.06 657.60,197.60 657.60,197.14 657.59,196.69 657.58,196.23 657.57,195.77 657.55,195.32 657.53,194.86 657.50,194.41 657.47,193.95 657.44,193.50 657.40,193.04 657.36,192.59 657.31,192.13 657.26,191.68 657.21,191.23 657.15,190.77 657.09,190.32 657.03,189.87 656.96,189.42 656.88,188.97 656.81,188.52 656.72,188.07 656.64,187.62 656.55,187.17 656.46,186.73 656.36,186.28 656.26,185.84 656.15,185.39 656.05,184.95 655.93,184.51 655.82,184.06 655.70,183.62 655.57,183.18 655.45,182.75 655.31,182.31 655.18,181.87 655.04,181.44 654.90,181.00 654.75,180.57 654.60,180.14 654.45,179.71 654.29,179.28 654.13,178.86 653.96,178.43 653.79,178.01 653.62,177.59 653.44,177.16 653.26,176.75 653.08,176.33 652.89,175.91 652.70,175.50 652.51,175.08 652.31,174.67 652.11,174.26 651.90,173.86 651.69,173.45 651.48,173.05 651.26,172.64 651.04,172.24 650.82,171.85 650.59,171.45 650.36,171.06 650.13,170.66 649.89,170.27 649.65,169.89 649.41,169.50 649.16,169.12 648.91,168.73 648.66,168.35 648.40,167.98 648.14,167.60 647.88,167.23 647.61,166.86 647.34,166.49 647.07,166.13 646.79,165.76 646.51,165.40 646.23,165.04 645.94,164.69 645.66,164.33 645.36,163.98 645.07,163.63 644.77,163.29 644.47,162.94 644.17,162.60 643.86,162.27 643.55,161.93 643.24,161.60 642.92,161.27 642.60,160.94 642.28,160.62 641.96,160.30 641.63,159.98 641.30,159.66 640.97,159.35 640.63,159.04 640.30,158.73 639.96,158.43 639.61,158.13 639.27,157.83 638.92,157.54 638.57,157.24 638.21,156.96 637.86,156.67 637.50,156.39 637.14,156.11 636.77,155.83 636.41,155.56 636.04,155.29 635.67,155.02 635.30,154.76 634.92,154.50 634.55,154.24 634.17,153.99 633.78,153.74 633.40,153.49 633.01,153.25 632.63,153.01 632.24,152.77 631.84,152.54 631.45,152.31 631.05,152.08 630.66,151.86 630.26,151.64 629.85,151.42 629.45,151.21 629.04,151.00 628.64,150.79 628.23,150.59 627.82,150.39 627.40,150.20 626.99,150.01 626.57,149.82 626.15,149.64 625.74,149.46 625.31,149.28 624.89,149.11 624.47,148.94 624.04,148.77 623.62,148.61 623.19,148.45 622.76,148.30 622.33,148.15 621.90,148.00 621.46,147.86 621.03,147.72 620.59,147.59 620.15,147.45 619.72,147.33 619.28,147.20 618.84,147.08 618.39,146.97 617.95,146.85 617.51,146.75 617.06,146.64 616.62,146.54 616.17,146.44 615.73,146.35 615.28,146.26 614.83,146.18 614.38,146.09 613.93,146.02 613.48,145.94 613.03,145.87 612.58,145.81 612.13,145.75 611.67,145.69 611.22,145.64 610.77,145.59 610.31,145.54 609.86,145.50 609.40,145.46 608.95,145.43 608.49,145.40 608.04,145.37 607.58,145.35 607.13,145.33 606.67,145.32 606.21,145.31 605.76,145.30 605.30,145.30" fill="#ff7f00"/>
<polygon points="605.30,71.70 606.40,71.70 607.50,71.72 608.60,71.74 609.70,71.78 610.80,71.82 611.90,71.87 612.99,71.94 614.09,72.01 615.19,72.09 616.28,72.18 617.38,72.28 618.47,72.39 619.57,72.51 620.66,72.64 621.75,72.78 622.84,72.93 623.93,73.09 625.01,73.25 626.10,73.43 627.18,73.62 628.26,73.81 629.34,74.02 630.42,74.23 631.50,74.46 632.57,74.69 633.65,74.93 634.72,75.19 635.79,75.45 636.85,75.72 637.91,76.00 638.98,76.29 640.03,76.59 641.09,76.89 642.14,77.21 643.19,77.54 644.24,77.87 645.28,78.22 646.33,78.57 647.36,78.93 648.40,79.31 649.43,79.69 650.46,80.08 651.48,80.48 652.50,80.88 653.52,81.30 654.54,81.73 655.55,82.16 656.55,82.60 657.56,83.06 658.55,83.52 659.55,83.99 660.54,84.47 661.52,84.95 662.51,85.45 663.48,85.95 664.46,86.46 665.43,86.98 666.39,87.51 667.35,88.05 668.30,88.60 669.25,89.15 670.20,89.72 671.14,90.29 672.07,90.87 673.00,91.45 673.93,92.05 674.85,92.65 675.76,93.26 676.67,93.88 677.57,94.51 678.47,95.14 679.36,95.79 680.25,96.44 681.13,97.10 682.00,97.76 682.87,98.44 683.74,99.12 684.59,99.81 685.44,100.50 686.29,101.21 687.13,101.92 687.96,102.64 688.79,103.36 689.61,104.10 690.42,104.84 691.23,105.58 692.03,106.34 692.82,107.10 693.61,107.87 694.39,108.64 695.16,109.42 695.93,110.21 696.69,111.00 697.44,111.81 698.19,112.61 698.93,113.43 699.66,114.25 700.38,115.08 701.10,115.91 701.81,116.75 702.51,117.60 703.21,118.45 703.90,119.31 704.58,120.17 705.25,121.04 705.91,121.92 706.57,122.80 707.22,123.69 707.86,124.58 708.50,125.48 709.12,126.38 709.74,127.29 710.35,128.21 710.95,129.13 711.55,130.05 712.13,130.98 712.71,131.92 713.28,132.86 713.84,133.81 714.39,134.76 714.94,135.71 715.47,136.67 716.00,137.64 716.52,138.61 717.03,139.58 717.54,140.56 718.03,141.54 718.52,142.53 718.99,143.52 719.46,144.51 719.92,145.51 720.37,146.51 720.81,147.52 721.24,148.53 721.67,149.55 722.08,150.57 722.49,151.59 722.89,152.61 723.28,153.64 723.66,154.67 724.03,155.71 724.39,156.75 724.74,157.79 725.08,158.83 725.42,159.88 725.74,160.93 726.06,161.99 726.36,163.04 726.66,164.10 726.95,165.16 727.23,166.23 727.50,167.29 727.76,168.36 728.01,169.43 728.25,170.50 728.48,171.58 728.70,172.66 728.92,173.74 729.12,174.82 729.32,175.90 729.50,176.98 729.68,178.07 729.84,179.16 730.00,180.24 730.14,181.33 730.28,182.42 730.41,183.52 730.53,184.61 730.64,185.70 730.74,186.80 730.83,187.90 730.91,188.99 730.98,190.09 731.04,191.19 731.09,192.29 731.13,193.39 731.16,194.48 731.18,195.58 731.20,196.68 731.20,197.78 731.19,198.88 731.18,199.98 731.15,201.08 731.12,202.18 731.07,203.28 731.02,204.38 730.95,205.48 730.88,206.57 730.80,207.67 730.70,208.77 730.60,209.86 730.49,210.95 730.37,212.05 730.24,213.14 730.10,214.23 729.95,215.32 729.79,216.41 729.62,217.49 729.44,218.58 729.25,219.66 729.05,220.74 728.85,221.82 728.63,222.90 728.41,223.98 728.17,225.05 727.93,226.13 727.67,227.20 727.41,228.26 727.14,229.33 726.85,230.39 726.56,231.45 726.26,232.51 725.95,233.57 725.63,234.62 725.31,235.67 724.97,236.71 724.62,237.76 724.27,238.80 723.90,239.84 723.53,240.87 723.15,241.90 722.76,242.93 722.36,243.95 721.95,244.97 721.53,245.99 721.10,247.00 720.67,248.01 720.22,249.02 719.77,250.02 719.30,251.02 718.83,252.01 718.35,253.00 717.87,253.99 717.37,254.97 716.86,255.95 716.35,256.92 715.83,257.89 715.30,258.85 714.76,259.81 714.21,260.76 713.65,261.71 713.09,262.65 712.52,263.59 711.94,264.53 711.35,265.46 710.75,266.38 710.15,267.30 709.53,268.21 708.91,269.12 708.28,270.02 707.65,270.92 707.00,271.81 706.35,272.70 705.69,273.58 705.02,274.45 704.35,275.32 703.67,276.18 702.98,277.04 702.28,277.89 701.57,278.73 700.86,279.57 700.14,280.40 699.42,281.22 698.68,282.04 697.94,282.86 697.19,283.66 696.44,284.46 695.67,285.25 694.91,286.04 694.13,286.82 693.35,287.59 692.56,288.36 691.76,289.12 690.96,289.87 690.15,290.61 689.33,291.35 688.51,292.08 687.68,292.80 686.85,293.52 686.01,294.23 685.16,294.93 684.31,295.62 683.45,296.31 682.58,296.99 681.71,297.66 680.84,298.32 679.95,298.98 679.06,299.63 678.17,300.27 677.27,300.90 676.37,301.53 675.46,302.14 674.54,302.75 673.62,303.35 672.69,303.94 671.76,304.53 670.82,305.11 669.88,305.67 668.94,306.23 667.99,306.79 667.03,307.33 666.07,307.86 665.10,308.39 664.13,308.91 663.16,309.42 662.18,309.92 661.20,310.41 660.21,310.90 659.22,311.37 658.22,311.84 657.22,312.30 656.22,312.74 655.21,313.18 654.20,313.62 653.18,314.04 652.16,314.45 651.14,314.86 650.12,315.25 649.09,315.64 648.05,316.02 647.02,316.39 645.98,316.75 644.94,317.10 643.89,317.44 642.84,317.77 641.79,318.10 640.74,318.41 639.68,318.71 638.62,319.01 637.56,319.30 636.50,319.57 635.43,319.84 634.36,320.10 633.29,320.35 632.22,320.59 631.14,320.82 630.06,321.04 628.98,321.25 627.90,321.45 626.82,321.65 625.74,321.83 624.65,322.00 623.56,322.17 622.47,322.32 621.38,322.47 620.29,322.60 619.20,322.73 618.11,322.85 617.01,322.95 615.92,323.05 614.82,323.14 613.72,323.22 612.63,323.29 611.53,323.35 610.43,323.40 609.33,323.44 608.23,323.47 607.13,323.49 606.03,323.50 604.93,323.50 603.83,323.49 602.73,323.47 601.63,323.45 600.54,323.41 599.44,323.36 598.34,323.31 597.24,323.24 596.14,323.17 595.05,323.08 593.95,322.99 592.86,322.88 591.76,322.77 590.67,322.65 589.58,322.51 588.49,322.37 587.40,322.22 586.31,322.06 585.22,321.89 584.14,321.71 583.06,321.52 581.97,321.32 580.90,321.11 579.82,320.89 578.74,320.67 577.67,320.43 576.60,320.18 575.53,319.93 574.46,319.66 573.39,319.39 572.33,319.11 571.27,318.81 570.21,318.51 569.16,318.20 568.11,317.88 567.06,317.55 566.01,317.21 564.97,316.86 563.93,316.51 562.89,316.14 561.86,315.77 560.83,315.38 559.80,314.99 558.78,314.59 557.76,314.18 556.74,313.76 555.73,313.33 554.72,312.89 553.71,312.45 552.71,311.99 551.71,311.53 550.72,311.05 549.73,310.57 548.75,310.08 547.77,309.59 546.79,309.08 545.82,308.56 544.85,308.04 543.89,307.51 542.93,306.97 541.98,306.42 541.03,305.86 540.09,305.30 539.15,304.72 538.22,304.14 537.29,303.55 536.37,302.95 535.45,302.35 534.54,301.73 533.63,301.11 532.73,300.48 531.83,299.84 530.94,299.20 530.06,298.54 529.18,297.88 528.31,297.21 527.44,296.54 526.58,295.85 525.72,295.16 524.87,294.46 524.03,293.76 523.19,293.04 522.36,292.32 521.54,291.59 520.72,290.86 519.91,290.12 519.10,289.37 518.31,288.61 517.51,287.85 516.73,287.08 515.95,286.30 515.18,285.52 514.42,284.73 513.66,283.93 512.91,283.12 512.16,282.31 511.43,281.50 510.70,280.67 509.98,279.85 509.26,279.01 508.55,278.17 507.85,277.32 507.16,276.47 506.48,275.60 505.80,274.74 505.13,273.87 504.47,272.99 503.81,272.11 503.17,271.22 502.53,270.32 501.89,269.42 501.27,268.51 500.66,267.60 500.05,266.69 499.45,265.76 498.86,264.84 498.27,263.91 497.70,262.97 497.13,262.03 496.57,261.08 496.02,260.13 495.48,259.17 494.95,258.21 494.42,257.24 493.91,256.27 493.40,255.30 492.90,254.32 492.41,253.33 491.92,252.34 491.45,251.35 490.99,250.35 490.53,249.35 490.08,248.35 489.64,247.34 489.21,246.33 488.79,245.31 488.38,244.29 487.98,243.27 487.58,242.24 487.20,241.21 486.82,240.18 486.45,239.14 486.09,238.11 485.74,237.06 485.40,236.02 485.07,234.97 484.75,233.92 484.44,232.86 484.14,231.80 483.84,230.75 483.56,229.68 483.28,228.62 483.01,227.55 482.76,226.48 482.51,225.41 482.27,224.34 482.04,223.26 481.82,222.18 481.61,221.10 481.41,220.02 481.22,218.94 481.04,217.86 480.87,216.77 480.71,215.68 480.55,214.59 480.41,213.50 480.27,212.41 480.15,211.32 480.03,210.22 479.93,209.13 479.83,208.03 479.75,206.94 479.67,205.84 479.60,204.74 479.55,203.65 479.50,202.55 479.46,201.45 479.43,200.35 479.41,199.25 479.40,198.15 479.40,197.05 479.41,195.95 479.43,194.85 479.46,193.75 479.50,192.65 479.55,191.55 479.60,190.46 479.67,189.36 479.75,188.26 479.83,187.16 479.93,186.07 480.03,184.97 480.15,183.88 480.27,182.79 480.41,181.70 480.55,180.61 480.71,179.52 480.87,178.43 481.04,177.34 481.22,176.26 481.41,175.18 481.61,174.09 481.82,173.02 482.04,171.94 482.27,170.86 482.51,169.79 482.76,168.72 483.01,167.65 483.28,166.58 483.56,165.52 483.84,164.45 484.14,163.39 484.44,162.34 484.75,161.28 485.07,160.23 485.40,159.18 485.74,158.14 486.09,157.09 486.45,156.05 486.82,155.02 487.20,153.98 487.58,152.95 487.98,151.93 488.38,150.91 488.79,149.89 489.21,148.87 489.64,147.86 490.08,146.85 490.53,145.85 490.99,144.84 491.45,143.85 491.93,142.86 492.41,141.87 492.90,140.88 493.40,139.90 493.91,138.93 494.42,137.96 494.95,136.99 495.48,136.03 496.02,135.07 496.57,134.12 497.13,133.17 497.70,132.23 498.27,131.29 498.86,130.36 499.45,129.43 500.05,128.51 500.66,127.60 501.27,126.68 501.90,125.78 502.53,124.88 503.17,123.98 503.81,123.09 504.47,122.21 505.13,121.33 505.80,120.46 506.48,119.59 507.16,118.73 507.85,117.88 508.55,117.03 509.26,116.19 509.98,115.35 510.70,114.52 511.43,113.70 512.16,112.89 512.91,112.07 513.66,111.27 514.42,110.47 515.18,109.68 515.95,108.90 516.73,108.12 517.52,107.35 518.31,106.59 519.11,105.83 519.91,105.08 520.72,104.34 521.54,103.61 522.36,102.88 523.19,102.16 524.03,101.44 524.87,100.74 525.72,100.04 526.58,99.35 527.44,98.66 528.31,97.99 529.18,97.32 530.06,96.66 530.94,96.00 535.84,102.70 535.02,103.31 534.20,103.93 533.38,104.55 532.57,105.19 531.77,105.82 530.97,106.47 530.18,107.12 529.39,107.78 528.61,108.45 527.83,109.12 527.06,109.80 526.30,110.49 525.54,111.18 524.79,111.88 524.04,112.59 523.30,113.30 522.57,114.02 521.84,114.75 521.12,115.48 520.41,116.22 519.70,116.96 519.00,117.71 518.30,118.47 517.62,119.23 516.94,120.00 516.26,120.78 515.59,121.56 514.93,122.34 514.28,123.14 513.63,123.93 512.99,124.74 512.36,125.55 511.73,126.36 511.11,127.18 510.50,128.01 509.90,128.84 509.30,129.67 508.71,130.51 508.13,131.36 507.56,132.21 506.99,133.07 506.43,133.93 505.88,134.79 505.33,135.67 504.79,136.54 504.26,137.42 503.74,138.31 503.23,139.20 502.72,140.09 502.22,140.99 501.73,141.89 501.25,142.80 500.78,143.71 500.31,144.62 499.85,145.54 499.40,146.46 498.96,147.39 498.52,148.32 498.10,149.26 497.68,150.20 497.27,151.14 496.87,152.08 496.47,153.03 496.09,153.98 495.71,154.94 495.34,155.90 494.98,156.86 494.63,157.83 494.29,158.79 493.95,159.76 493.63,160.74 493.31,161.72 493.00,162.70 492.70,163.68 492.41,164.66 492.12,165.65 491.85,166.64 491.58,167.63 491.33,168.63 491.08,169.62 490.84,170.62 490.61,171.62 490.38,172.62 490.17,173.63 489.96,174.64 489.77,175.64 489.58,176.65 489.40,177.67 489.23,178.68 489.07,179.69 488.92,180.71 488.78,181.73 488.64,182.74 488.52,183.76 488.40,184.79 488.29,185.81 488.19,186.83 488.10,187.85 488.02,188.88 487.95,189.90 487.89,190.93 487.84,191.95 487.79,192.98 487.75,194.01 487.73,195.03 487.71,196.06 487.70,197.09 487.70,198.11 487.71,199.14 487.73,200.17 487.75,201.19 487.79,202.22 487.84,203.25 487.89,204.27 487.95,205.30 488.02,206.32 488.10,207.35 488.19,208.37 488.29,209.39 488.40,210.41 488.52,211.43 488.64,212.45 488.78,213.47 488.92,214.49 489.07,215.51 489.23,216.52 489.40,217.53 489.58,218.55 489.77,219.56 489.96,220.56 490.17,221.57 490.38,222.57 490.61,223.58 490.84,224.58 491.08,225.58 491.33,226.57 491.58,227.57 491.85,228.56 492.12,229.55 492.41,230.54 492.70,231.52 493.00,232.50 493.31,233.48 493.63,234.46 493.95,235.43 494.29,236.41 494.63,237.37 494.98,238.34 495.34,239.30 495.71,240.26 496.09,241.22 496.47,242.17 496.87,243.12 497.27,244.06 497.68,245.00 498.10,245.94 498.52,246.88 498.96,247.81 499.40,248.73 499.85,249.66 500.31,250.58 500.78,251.49 501.25,252.40 501.73,253.31 502.22,254.21 502.72,255.11 503.23,256.00 503.74,256.89 504.26,257.78 504.79,258.66 505.33,259.53 505.88,260.40 506.43,261.27 506.99,262.13 507.55,262.99 508.13,263.84 508.71,264.69 509.30,265.53 509.90,266.36 510.50,267.19 511.11,268.02 511.73,268.84 512.36,269.65 512.99,270.46 513.63,271.27 514.28,272.06 514.93,272.86 515.59,273.64 516.26,274.42 516.94,275.20 517.62,275.97 518.30,276.73 519.00,277.49 519.70,278.24 520.41,278.98 521.12,279.72 521.84,280.45 522.57,281.18 523.30,281.90 524.04,282.61 524.79,283.32 525.54,284.02 526.30,284.71 527.06,285.40 527.83,286.08 528.61,286.75 529.39,287.42 530.18,288.08 530.97,288.73 531.77,289.38 532.57,290.01 533.38,290.65 534.20,291.27 535.02,291.89 535.84,292.50 536.68,293.10 537.51,293.70 538.35,294.29 539.20,294.87 540.05,295.44 540.91,296.01 541.77,296.56 542.64,297.12 543.51,297.66 544.39,298.20 545.27,298.72 546.15,299.24 547.04,299.76 547.94,300.26 548.84,300.76 549.74,301.25 550.65,301.73 551.56,302.20 552.48,302.67 553.40,303.13 554.32,303.58 555.25,304.02 556.18,304.45 557.11,304.87 558.05,305.29 558.99,305.70 559.94,306.10 560.89,306.49 561.84,306.88 562.80,307.25 563.76,307.62 564.72,307.98 565.69,308.33 566.66,308.67 567.63,309.00 568.60,309.33 569.58,309.64 570.56,309.95 571.54,310.25 572.53,310.54 573.51,310.82 574.50,311.10 575.50,311.36 576.49,311.62 577.49,311.86 578.49,312.10 579.49,312.33 580.49,312.55 581.50,312.77 582.50,312.97 583.51,313.16 584.52,313.35 585.53,313.53 586.55,313.70 587.56,313.85 588.58,314.01 589.60,314.15 590.61,314.28 591.63,314.40 592.66,314.52 593.68,314.62 594.70,314.72 595.72,314.81 596.75,314.89 597.77,314.96 598.80,315.02 599.82,315.07 600.85,315.12 601.88,315.15 602.90,315.18 603.93,315.19 604.96,315.20 605.98,315.20 607.01,315.19 608.04,315.17 609.07,315.14 610.09,315.10 611.12,315.06 612.14,315.00 613.17,314.94 614.19,314.86 615.22,314.78 616.24,314.69 617.26,314.59 618.28,314.48 619.30,314.36 620.32,314.24 621.34,314.10 622.36,313.96 623.38,313.80 624.39,313.64 625.40,313.47 626.41,313.29 627.42,313.10 628.43,312.90 629.44,312.70 630.44,312.48 631.44,312.26 632.44,312.02 633.44,311.78 634.44,311.53 635.43,311.27 636.43,311.01 637.41,310.73 638.40,310.45 639.39,310.15 640.37,309.85 641.35,309.54 642.32,309.22 643.30,308.89 644.27,308.56 645.24,308.21 646.20,307.86 647.16,307.50 648.12,307.13 649.07,306.75 650.03,306.36 650.97,305.97 651.92,305.56 652.86,305.15 653.80,304.73 654.73,304.31 655.66,303.87 656.59,303.43 657.51,302.97 658.43,302.51 659.34,302.05 660.25,301.57 661.16,301.09 662.06,300.59 662.96,300.09 663.85,299.59 664.74,299.07 665.63,298.55 666.50,298.02 667.38,297.48 668.25,296.93 669.11,296.38 669.98,295.82 670.83,295.25 671.68,294.67 672.53,294.09 673.37,293.50 674.20,292.90 675.03,292.30 675.86,291.68 676.67,291.06 677.49,290.44 678.30,289.80 679.10,289.16 679.90,288.51 680.69,287.86 681.47,287.20 682.25,286.53 683.03,285.85 683.79,285.17 684.56,284.48 685.31,283.78 686.06,283.08 686.81,282.37 687.54,281.66 688.27,280.94 689.00,280.21 689.72,279.48 690.43,278.73 691.13,277.99 691.83,277.24 692.53,276.48 693.21,275.71 693.89,274.94 694.56,274.16 695.23,273.38 695.89,272.59 696.54,271.80 697.18,271.00 697.82,270.19 698.45,269.38 699.07,268.57 699.69,267.74 700.30,266.92 700.90,266.09 701.50,265.25 702.08,264.40 702.66,263.56 703.24,262.70 703.80,261.85 704.36,260.98 704.91,260.12 705.45,259.24 705.98,258.37 706.51,257.48 707.03,256.60 707.54,255.71 708.05,254.81 708.54,253.91 709.03,253.01 709.51,252.10 709.98,251.19 710.45,250.27 710.90,249.35 711.35,248.43 711.79,247.50 712.22,246.57 712.64,245.63 713.06,244.69 713.47,243.75 713.87,242.80 714.26,241.85 714.64,240.90 715.01,239.94 715.38,238.98 715.74,238.02 716.08,237.05 716.43,236.08 716.76,235.11 717.08,234.14 717.40,233.16 717.70,232.18 718.00,231.19 718.29,230.21 718.57,229.22 718.84,228.23 719.10,227.24 719.36,226.24 719.60,225.24 719.84,224.25 720.07,223.24 720.29,222.24 720.50,221.23 720.70,220.23 720.90,219.22 721.08,218.21 721.26,217.20 721.42,216.18 721.58,215.17 721.73,214.15 721.87,213.13 722.00,212.12 722.12,211.10 722.24,210.07 722.34,209.05 722.44,208.03 722.52,207.01 722.60,205.98 722.67,204.96 722.73,203.93 722.78,202.91 722.82,201.88 722.86,200.85 722.88,199.83 722.89,198.80 722.90,197.77 722.90,196.74 722.88,195.72 722.86,194.69 722.83,193.66 722.80,192.64 722.75,191.61 722.69,190.59 722.62,189.56 722.55,188.54 722.47,187.51 722.37,186.49 722.27,185.47 722.16,184.45 722.04,183.42 721.91,182.41 721.78,181.39 721.63,180.37 721.48,179.36 721.31,178.34 721.14,177.33 720.96,176.32 720.77,175.31 720.57,174.30 720.36,173.29 720.14,172.29 719.92,171.29 719.68,170.29 719.44,169.29 719.19,168.29 718.93,167.30 718.66,166.31 718.38,165.32 718.10,164.33 717.80,163.35 717.50,162.37 717.19,161.39 716.87,160.41 716.54,159.44 716.20,158.47 715.85,157.50 715.50,156.54 715.14,155.58 714.76,154.62 714.39,153.67 714.00,152.72 713.60,151.77 713.20,150.82 712.78,149.88 712.36,148.95 711.93,148.01 711.50,147.08 711.05,146.16 710.60,145.24 710.14,144.32 709.67,143.40 709.19,142.49 708.70,141.59 708.21,140.69 707.71,139.79 707.20,138.90 706.69,138.01 706.16,137.13 705.63,136.25 705.09,135.38 704.54,134.51 703.99,133.64 703.42,132.78 702.85,131.93 702.28,131.08 701.69,130.23 701.10,129.39 700.50,128.56 699.89,127.73 699.28,126.91 698.66,126.09 698.03,125.28 697.40,124.47 696.75,123.67 696.10,122.87 695.45,122.08 694.78,121.30 694.12,120.52 693.44,119.75 692.75,118.98 692.06,118.22 691.37,117.46 690.66,116.71 689.96,115.97 689.24,115.23 688.52,114.50 687.79,113.78 687.05,113.06 686.31,112.35 685.56,111.65 684.81,110.95 684.05,110.26 683.28,109.58 682.51,108.90 681.73,108.23 680.95,107.56 680.16,106.90 679.37,106.25 678.57,105.61 677.76,104.97 676.95,104.35 676.13,103.72 675.31,103.11 674.48,102.50 673.65,101.90 672.81,101.31 671.96,100.72 671.11,100.14 670.26,99.57 669.40,99.01 668.54,98.45 667.67,97.90 666.80,97.36 665.92,96.83 665.04,96.30 664.15,95.78 663.26,95.27 662.36,94.77 661.46,94.28 660.56,93.79 659.65,93.31 658.74,92.84 657.82,92.38 656.90,91.92 655.97,91.48 655.04,91.04 654.11,90.61 653.17,90.19 652.23,89.77 651.29,89.37 650.34,88.97 649.39,88.58 648.44,88.20 647.48,87.83 646.52,87.46 645.56,87.11 644.59,86.76 643.62,86.42 642.65,86.09 641.67,85.77 640.69,85.45 639.71,85.15 638.73,84.85 637.74,84.56 636.76,84.28 635.76,84.01 634.77,83.75 633.78,83.50 632.78,83.26 631.78,83.02 630.78,82.79 629.77,82.57 628.77,82.37 627.76,82.16 626.75,81.97 625.74,81.79 624.73,81.62 623.71,81.45 622.70,81.29 621.68,81.15 620.66,81.01 619.65,80.88 618.62,80.76 617.60,80.65 616.58,80.54 615.56,80.45 614.54,80.36 613.51,80.29 612.49,80.22 611.46,80.16 610.43,80.11 609.41,80.07 608.38,80.04 607.35,80.02 606.33,80.00 605.30,80.00" fill="#fdbf6f"/>
<polygon points="605.30,80.00 606.33,80.00 607.35,80.02 608.38,80.04 609.40,80.07 610.43,80.11 611.45,80.16 612.48,80.22 613.50,80.29 614.53,80.36 615.55,80.45 616.57,80.54 617.59,80.64 618.61,80.76 619.63,80.88 620.65,81.01 621.67,81.14 622.68,81.29 623.70,81.45 624.71,81.61 625.72,81.79 626.73,81.97 627.74,82.16 628.75,82.36 629.75,82.57 630.75,82.79 631.75,83.01 632.75,83.25 633.75,83.49 634.74,83.75 635.74,84.01 636.73,84.28 637.71,84.56 638.70,84.84 639.68,85.14 640.66,85.44 641.64,85.76 642.62,86.08 643.59,86.41 644.56,86.75 645.52,87.09 646.48,87.45 647.44,87.81 648.40,88.18 649.35,88.56 650.30,88.95 651.25,89.35 652.19,89.75 653.13,90.17 654.07,90.59 655.00,91.02 655.93,91.46 656.85,91.90 657.77,92.36 658.69,92.82 659.60,93.29 660.51,93.77 661.41,94.25 662.31,94.74 663.21,95.25 664.10,95.76 664.99,96.27 665.87,96.80 666.75,97.33 667.62,97.87 668.49,98.42 669.35,98.97 670.21,99.54 671.06,100.11 671.91,100.68 672.75,101.27 673.59,101.86 674.42,102.46 675.25,103.07 676.07,103.68 676.89,104.30 677.70,104.93 678.51,105.57 679.31,106.21 680.10,106.86 680.89,107.51 681.68,108.18 682.45,108.85 683.22,109.52 683.99,110.21 684.75,110.90 685.50,111.59 686.25,112.30 686.99,113.01 687.73,113.72 688.46,114.44 689.18,115.17 689.89,115.91 690.60,116.65 691.31,117.40 692.00,118.15 692.69,118.91 693.38,119.68 694.05,120.45 694.72,121.22 695.39,122.01 696.04,122.80 696.69,123.59 697.33,124.39 697.97,125.20 698.60,126.01 699.22,126.83 699.83,127.65 700.44,128.48 701.04,129.31 701.63,130.15 702.22,130.99 702.79,131.84 703.36,132.69 703.93,133.55 704.48,134.41 705.03,135.28 705.57,136.15 706.10,137.03 706.63,137.91 707.14,138.80 707.65,139.69 708.16,140.59 708.65,141.49 709.13,142.39 709.61,143.30 710.08,144.21 710.54,145.13 711.00,146.05 711.44,146.97 711.88,147.90 712.31,148.83 712.73,149.77 713.15,150.71 713.55,151.65 713.95,152.60 714.34,153.55 714.72,154.50 715.09,155.46 715.45,156.42 715.81,157.38 716.15,158.34 716.49,159.31 716.82,160.28 717.14,161.26 717.46,162.24 717.76,163.22 718.06,164.20 718.34,165.19 718.62,166.17 718.89,167.16 719.15,168.16 719.41,169.15 719.65,170.15 719.89,171.15 720.11,172.15 720.33,173.15 720.54,174.15 720.74,175.16 720.93,176.17 721.11,177.18 721.29,178.19 721.45,179.20 721.61,180.22 721.76,181.23 721.89,182.25 722.02,183.27 722.14,184.29 722.26,185.31 722.36,186.33 722.45,187.35 722.54,188.37 722.61,189.40 722.68,190.42 722.74,191.45 722.79,192.47 722.83,193.50 722.86,194.52 722.88,195.55 722.90,196.57 722.90,197.60 722.90,198.63 722.88,199.65 722.86,200.68 722.83,201.70 722.79,202.73 722.74,203.75 722.68,204.78 722.61,205.80 722.54,206.83 722.45,207.85 722.36,208.87 722.26,209.89 722.14,210.91 722.02,211.93 721.89,212.95 721.76,213.97 721.61,214.98 721.45,216.00 721.29,217.01 721.11,218.02 720.93,219.03 720.74,220.04 720.54,221.05 720.33,222.05 720.11,223.05 719.89,224.05 719.65,225.05 719.41,226.05 719.15,227.04 718.89,228.04 718.62,229.03 718.34,230.01 718.06,231.00 717.76,231.98 717.46,232.96 717.14,233.94 716.82,234.92 716.49,235.89 716.15,236.86 715.81,237.82 715.45,238.78 715.09,239.74 714.72,240.70 714.34,241.65 713.95,242.60 713.55,243.55 713.15,244.49 712.73,245.43 712.31,246.37 711.88,247.30 711.44,248.23 711.00,249.15 710.54,250.07 710.08,250.99 709.61,251.90 709.13,252.81 708.65,253.71 708.16,254.61 707.65,255.51 707.14,256.40 706.63,257.29 706.10,258.17 705.57,259.05 705.03,259.92 704.48,260.79 703.93,261.65 703.36,262.51 702.79,263.36 702.22,264.21 701.63,265.05 701.04,265.89 700.44,266.72 699.83,267.55 699.22,268.37 698.60,269.19 697.97,270.00 697.33,270.81 696.69,271.61 696.04,272.40 695.39,273.19 694.72,273.98 694.05,274.75 693.38,275.52 692.69,276.29 692.00,277.05 691.31,277.80 690.60,278.55 689.89,279.29 689.18,280.03 688.46,280.76 687.73,281.48 686.99,282.19 686.25,282.90 685.50,283.61 684.75,284.30 683.99,284.99 683.22,285.68 682.45,286.35 681.68,287.02 680.89,287.69 680.10,288.34 679.31,288.99 678.51,289.63 677.70,290.27 676.89,290.90 676.07,291.52 675.25,292.13 674.42,292.74 673.59,293.34 672.75,293.93 671.91,294.52 671.06,295.09 670.21,295.66 669.35,296.23 668.49,296.78 667.62,297.33 666.75,297.87 665.87,298.40 664.99,298.93 664.10,299.44 663.21,299.95 662.31,300.46 661.41,300.95 660.51,301.43 659.60,301.91 658.69,302.38 657.77,302.84 656.85,303.30 655.93,303.74 655.00,304.18 654.07,304.61 653.13,305.03 652.19,305.45 651.25,305.85 650.30,306.25 649.35,306.64 648.40,307.02 647.44,307.39 646.48,307.75 645.52,308.11 644.56,308.45 643.59,308.79 642.62,309.12 641.64,309.44 640.66,309.76 639.68,310.06 638.70,310.36 637.71,310.64 636.73,310.92 635.74,311.19 634.74,311.45 633.75,311.71 632.75,311.95 631.75,312.19 630.75,312.41 629.75,312.63 628.75,312.84 627.74,313.04 626.73,313.23 625.72,313.41 624.71,313.59 623.70,313.75 622.68,313.91 621.67,314.06 620.65,314.19 619.63,314.32 618.61,314.44 617.59,314.56 616.57,314.66 615.55,314.75 614.53,314.84 613.50,314.91 612.48,314.98 611.45,315.04 610.43,315.09 609.40,315.13 608.38,315.16 607.35,315.18 606.33,315.20 605.30,315.20 605.30,249.90 605.76,249.90 606.21,249.89 606.67,249.88 607.13,249.87 607.58,249.85 608.04,249.83 608.49,249.80 608.95,249.77 609.40,249.74 609.86,249.70 610.31,249.66 610.77,249.61 611.22,249.56 611.67,249.51 612.13,249.45 612.58,249.39 613.03,249.33 613.48,249.26 613.93,249.18 614.38,249.11 614.83,249.02 615.28,248.94 615.73,248.85 616.17,248.76 616.62,248.66 617.06,248.56 617.51,248.45 617.95,248.35 618.39,248.23 618.84,248.12 619.28,248.00 619.72,247.87 620.15,247.75 620.59,247.61 621.03,247.48 621.46,247.34 621.90,247.20 622.33,247.05 622.76,246.90 623.19,246.75 623.62,246.59 624.04,246.43 624.47,246.26 624.89,246.09 625.31,245.92 625.74,245.74 626.15,245.56 626.57,245.38 626.99,245.19 627.40,245.00 627.82,244.81 628.23,244.61 628.64,244.41 629.04,244.20 629.45,243.99 629.85,243.78 630.26,243.56 630.66,243.34 631.05,243.12 631.45,242.89 631.84,242.66 632.24,242.43 632.63,242.19 633.01,241.95 633.40,241.71 633.78,241.46 634.17,241.21 634.55,240.96 634.92,240.70 635.30,240.44 635.67,240.18 636.04,239.91 636.41,239.64 636.77,239.37 637.14,239.09 637.50,238.81 637.86,238.53 638.21,238.24 638.57,237.96 638.92,237.66 639.27,237.37 639.61,237.07 639.96,236.77 640.30,236.47 640.63,236.16 640.97,235.85 641.30,235.54 641.63,235.22 641.96,234.90 642.28,234.58 642.60,234.26 642.92,233.93 643.24,233.60 643.55,233.27 643.86,232.93 644.17,232.60 644.47,232.26 644.77,231.91 645.07,231.57 645.36,231.22 645.66,230.87 645.94,230.51 646.23,230.16 646.51,229.80 646.79,229.44 647.07,229.07 647.34,228.71 647.61,228.34 647.88,227.97 648.14,227.60 648.40,227.22 648.66,226.85 648.91,226.47 649.16,226.08 649.41,225.70 649.65,225.31 649.89,224.93 650.13,224.54 650.36,224.14 650.59,223.75 650.82,223.35 651.04,222.96 651.26,222.56 651.48,222.15 651.69,221.75 651.90,221.34 652.11,220.94 652.31,220.53 652.51,220.12 652.70,219.70 652.89,219.29 653.08,218.87 653.26,218.45 653.44,218.04 653.62,217.61 653.79,217.19 653.96,216.77 654.13,216.34 654.29,215.92 654.45,215.49 654.60,215.06 654.75,214.63 654.90,214.20 655.04,213.76 655.18,213.33 655.31,212.89 655.45,212.45 655.57,212.02 655.70,211.58 655.82,211.14 655.93,210.69 656.05,210.25 656.15,209.81 656.26,209.36 656.36,208.92 656.46,208.47 656.55,208.03 656.64,207.58 656.72,207.13 656.81,206.68 656.88,206.23 656.96,205.78 657.03,205.33 657.09,204.88 657.15,204.43 657.21,203.97 657.26,203.52 657.31,203.07 657.36,202.61 657.40,202.16 657.44,201.70 657.47,201.25 657.50,200.79 657.53,200.34 657.55,199.88 657.57,199.43 657.58,198.97 657.59,198.51 657.60,198.06 657.60,197.60 657.60,197.14 657.59,196.69 657.58,196.23 657.57,195.77 657.55,195.32 657.53,194.86 657.50,194.41 657.47,193.95 657.44,193.50 657.40,193.04 657.36,192.59 657.31,192.13 657.26,191.68 657.21,191.23 657.15,190.77 657.09,190.32 657.03,189.87 656.96,189.42 656.88,188.97 656.81,188.52 656.72,188.07 656.64,187.62 656.55,187.17 656.46,186.73 656.36,186.28 656.26,185.84 656.15,185.39 656.05,184.95 655.93,184.51 655.82,184.06 655.70,183.62 655.57,183.18 655.45,182.75 655.31,182.31 655.18,181.87 655.04,181.44 654.90,181.00 654.75,180.57 654.60,180.14 654.45,179.71 654.29,179.28 654.13,178.86 653.96,178.43 653.79,178.01 653.62,177.59 653.44,177.16 653.26,176.75 653.08,176.33 652.89,175.91 652.70,175.50 652.51,175.08 652.31,174.67 652.11,174.26 651.90,173.86 651.69,173.45 651.48,173.05 651.26,172.64 651.04,172.24 650.82,171.85 650.59,171.45 650.36,171.06 650.13,170.66 649.89,170.27 649.65,169.89 649.41,169.50 649.16,169.12 648.91,168.73 648.66,168.35 648.40,167.98 648.14,167.60 647.88,167.23 647.61,166.86 647.34,166.49 647.07,166.13 646.79,165.76 646.51,165.40 646.23,165.04 645.94,164.69 645.66,164.33 645.36,163.98 645.07,163.63 644.77,163.29 644.47,162.94 644.17,162.60 643.86,162.27 643.55,161.93 643.24,161.60 642.92,161.27 642.60,160.94 642.28,160.62 641.96,160.30 641.63,159.98 641.30,159.66 640.97,159.35 640.63,159.04 640.30,158.73 639.96,158.43 639.61,158.13 639.27,157.83 638.92,157.54 638.57,157.24 638.21,156.96 637.86,156.67 637.50,156.39 637.14,156.11 636.77,155.83 636.41,155.56 636.04,155.29 635.67,155.02 635.30,154.76 634.92,154.50 634.55,154.24 634.17,153.99 633.78,153.74 633.40,153.49 633.01,153.25 632.63,153.01 632.24,152.77 631.84,152.54 631.45,152.31 631.05,152.08 630.66,151.86 630.26,151.64 629.85,151.42 629.45,151.21 629.04,151.00 628.64,150.79 628.23,150.59 627.82,150.39 627.40,150.20 626.99,150.01 626.57,149.82 626.15,149.64 625.74,149.46 625.31,149.28 624.89,149.11 624.47,148.94 624.04,148.77 623.62,148.61 623.19,148.45 622.76,148.30 622.33,148.15 621.90,148.00 621.46,147.86 621.03,147.72 620.59,147.59 620.15,147.45 619.72,147.33 619.28,147.20 618.84,147.08 618.39,146.97 617.95,146.85 617.51,146.75 617.06,146.64 616.62,146.54 616.17,146.44 615.73,146.35 615.28,146.26 614.83,146.18 614.38,146.09 613.93,146.02 613.48,145.94 613.03,145.87 612.58,145.81 612.13,145.75 611.67,145.69 611.22,145.64 610.77,145.59 610.31,145.54 609.86,145.50 609.40,145.46 608.95,145.43 608.49,145.40 608.04,145.37 607.58,145.35 607.13,145.33 606.67,145.32 606.21,145.31 605.76,145.30 605.30,145.30" fill="#ff7f00"/>
<polygon points="605.3,197.6 605.30,145.30 605.76,145.30 606.22,145.31 606.67,145.32 607.13,145.33 607.59,145.35 608.05,145.37 608.50,145.40 608.96,145.43 609.42,145.46 609.87,145.50 610.33,145.54 610.79,145.59 611.24,145.64 611.70,145.69 612.15,145.75 612.60,145.81 613.06,145.88 613.51,145.95 613.96,146.02 614.41,146.10 614.86,146.18 615.31,146.27 615.76,146.36 616.21,146.45 616.66,146.55 617.10,146.65 617.55,146.75 617.99,146.86 618.44,146.98 618.88,147.09 619.32,147.21 619.76,147.34 620.20,147.47 620.64,147.60 621.08,147.74 621.51,147.88 621.95,148.02 622.38,148.17 622.81,148.32 623.25,148.48 623.68,148.63 624.10,148.80 624.53,148.96 624.96,149.13 625.38,149.31 625.80,149.49 626.22,149.67 626.64,149.85 627.06,150.04 627.47,150.23 627.89,150.43 628.30,150.63 628.71,150.83 629.12,151.04 629.52,151.25 629.93,151.46 630.33,151.68 630.73,151.90 631.13,152.13 631.53,152.35 631.93,152.58 632.32,152.82 632.71,153.06 633.10,153.30 633.49,153.54 633.87,153.79 634.25,154.05 634.63,154.30 635.01,154.56 635.39,154.82 635.76,155.09 636.13,155.35 636.50,155.63 636.87,155.90 637.23,156.18 637.59,156.46 637.95,156.74 638.31,157.03 638.66,157.32 639.01,157.62 639.36,157.91 639.71,158.21 640.05,158.51 640.39,158.82 640.73,159.13 641.07,159.44 641.40,159.76 641.73,160.07 642.06,160.39 642.38,160.72 642.70,161.04 643.02,161.37 643.34,161.70 643.65,162.04 643.96,162.38 644.27,162.71 644.57,163.06 644.87,163.40 645.17,163.75 645.46,164.10 645.76,164.45 646.04,164.81 646.33,165.17 646.61,165.53 646.89,165.89 647.17,166.26 647.44,166.62 647.71,166.99 647.98,167.37 648.24,167.74 648.50,168.12 648.76,168.50 649.01,168.88 649.26,169.26 649.50,169.65 649.75,170.04 649.99,170.43 650.22,170.82" fill="#e31a1c"/>
<line x1="650.22" y1="170.82" x2="713.44" y2="133.13" stroke="#e31a1c" stroke-width="1.1"/>
<polygon points="605.30,197.60 605.80,197.64 605.96,197.67 606.13,197.70 606.29,197.74 606.45,197.78 606.61,197.83 606.77,197.89 606.93,197.95 607.09,198.01 607.24,198.08 607.39,198.16 607.54,198.24 607.69,198.33 607.84,198.42 607.98,198.52 608.12,198.63 608.21,198.72 608.31,198.81 608.40,198.91 608.48,199.02 608.57,199.12 608.65,199.23 608.73,199.35 608.81,199.46 608.88,199.58 608.95,199.71 609.01,199.83 609.08,199.96 609.14,200.09 609.19,200.23 609.25,200.36 609.30,200.50 609.34,200.65 609.38,200.79 609.42,200.94 609.46,201.09 609.49,201.24 609.51,201.39 609.53,201.55 609.55,201.70 609.56,201.86 609.57,202.03 609.58,202.19 609.58,202.35 609.57,202.52 609.57,202.68 609.55,202.85 609.54,203.02 609.51,203.19 609.45,203.32 609.39,203.44 609.33,203.57 609.26,203.70 609.19,203.82 609.11,203.95 609.04,204.07 608.96,204.20 608.87,204.32 608.78,204.44 608.69,204.56 608.60,204.68 608.50,204.80 608.40,204.91 608.30,205.03 608.20,205.14 608.09,205.26 607.97,205.37 607.86,205.48 607.74,205.59 607.62,205.69 607.50,205.80 607.37,205.90 607.24,206.00 607.11,206.10 606.97,206.20 606.83,206.29 606.69,206.38 606.55,206.47 606.40,206.56 606.25,206.64 606.10,206.73 605.94,206.81 605.79,206.88 605.63,206.96 605.46,207.03 605.30,207.10 605.13,207.15 604.96,207.20 604.79,207.25 604.62,207.29 604.45,207.33 604.27,207.37 604.10,207.40 603.92,207.44 603.74,207.46 603.56,207.49 603.37,207.51 603.19,207.53 603.01,207.54 602.82,207.55 602.63,207.56 602.44,207.56 602.25,207.56 602.06,207.56 601.87,207.55 601.68,207.54 601.49,207.53 601.30,207.51 601.10,207.49 600.91,207.46 600.71,207.43 600.52,207.40 600.33,207.36 600.13,207.32 599.94,207.28 599.74,207.23 599.54,207.18 599.35,207.12 599.16,207.06 598.96,207.00 598.77,206.93 598.57,206.86 598.38,206.78 598.19,206.70 598.00,206.62 597.81,206.53 597.61,206.44 597.43,206.35 597.24,206.25 597.05,206.14 596.86,206.04 596.68,205.92 596.50,205.81 596.31,205.69 596.13,205.57 595.95,205.44 595.79,205.30 595.64,205.15 595.48,205.00 595.32,204.85 595.17,204.69 595.02,204.53 594.88,204.37 594.73,204.20 594.59,204.03 594.45,203.86 594.32,203.69 594.18,203.51 594.05,203.33 593.93,203.15 593.80,202.96 593.68,202.77 593.56,202.58 593.45,202.39 593.33,202.19 593.22,201.99 593.12,201.79 593.02,201.59 592.92,201.39 592.82,201.18 592.73,200.97 592.64,200.76 592.56,200.54 592.48,200.33 592.40,200.11 592.33,199.89 592.26,199.67 592.19,199.44 592.13,199.22 592.07,198.99 592.01,198.76 591.96,198.53 591.92,198.30 591.87,198.07 591.83,197.84 591.80,197.60 591.77,197.36 591.74,197.13 591.72,196.89 591.70,196.65 591.69,196.41 591.68,196.17 591.67,195.93 591.67,195.68 591.67,195.44 591.68,195.20 591.69,194.95 591.70,194.71 591.72,194.47 591.75,194.22 591.78,193.98 591.81,193.73 591.85,193.49 591.89,193.24 591.94,193.00 591.99,192.75 592.04,192.51 592.10,192.27 592.17,192.03 592.24,191.78 592.31,191.54 592.39,191.30 592.47,191.06 592.56,190.82 592.65,190.59 592.74,190.35 592.66,190.00 592.58,189.65 592.51,189.29 592.45,188.93 592.40,188.57 592.36,188.20 592.32,187.82 592.30,187.44 592.28,187.06 592.28,186.67 592.28,186.28 592.29,185.89 592.32,185.49 592.35,185.10 592.40,184.70 592.45,184.29 592.51,183.89 592.59,183.48 592.67,183.07 592.77,182.66 592.73,182.08 592.72,181.50 592.72,180.91 592.74,180.31 592.78,179.72 592.83,179.11 592.90,178.51 592.99,177.90 593.09,177.29 593.22,176.67 593.36,176.06 593.52,175.44 593.69,174.82 593.89,174.20 594.10,173.58 594.25,172.78 594.42,171.98 594.62,171.18 594.85,170.37 595.10,169.57 595.37,168.76 595.69,168.04 596.04,167.32 596.41,166.60 596.80,165.89 597.22,165.18 597.65,164.47 598.09,163.66 598.55,162.85 599.03,162.05 599.54,161.25 600.08,160.46 600.68,160.01 601.30,159.56 601.93,159.12 602.58,158.70 603.25,158.40 603.92,158.12 604.61,157.86 605.30,157.60 605.30,157.60" fill="#dddddd"/>
<circle cx="605.3" cy="197.6" r="115.0" fill="none" stroke="#ffffff" stroke-opacity="0.55" stroke-width="0.7" stroke-dasharray="3,3"/>
<circle cx="605.3" cy="197.6" r="90.2" fill="none" stroke="#ffffff" stroke-opacity="0.55" stroke-width="0.7" stroke-dasharray="3,3"/>
<circle cx="605.3" cy="197.6" r="12.6" fill="none" stroke="#ffffff" stroke-opacity="0.55" stroke-width="0.7" stroke-dasharray="3,3"/>
<circle cx="605.3" cy="197.6" r="125.9" fill="none" stroke="#111" stroke-width="0.9"/>
<circle cx="605.3" cy="197.6" r="153.4" fill="none" stroke="#111" stroke-width="1.1"/>
<line x1="605.3" y1="197.6" x2="605.3" y2="61.19999999999999" stroke="#111" stroke-width="1.1"/>
<line x1="605.3" y1="53.79999999999998" x2="605.3" y2="44.19999999999999" stroke="#111" stroke-width="1.1"/>
<line x1="603.10" y1="79.69" x2="605.3" y2="79.69" stroke="#111" stroke-width="0.6"/>
<line x1="599.90" y1="83.01" x2="605.3" y2="83.01" stroke="#111" stroke-width="0.9"/>
<line x1="603.10" y1="87.69" x2="605.3" y2="87.69" stroke="#111" stroke-width="0.6"/>
<line x1="603.10" y1="91.28" x2="605.3" y2="91.28" stroke="#111" stroke-width="0.6"/>
<line x1="603.10" y1="94.31" x2="605.3" y2="94.31" stroke="#111" stroke-width="0.6"/>
<line x1="603.10" y1="96.98" x2="605.3" y2="96.98" stroke="#111" stroke-width="0.6"/>
<line x1="603.10" y1="99.39" x2="605.3" y2="99.39" stroke="#111" stroke-width="0.6"/>
<line x1="603.10" y1="101.61" x2="605.3" y2="101.61" stroke="#111" stroke-width="0.6"/>
<line x1="603.10" y1="103.68" x2="605.3" y2="103.68" stroke="#111" stroke-width="0.6"/>
<line x1="603.10" y1="105.62" x2="605.3" y2="105.62" stroke="#111" stroke-width="0.6"/>
<line x1="599.90" y1="107.45" x2="605.3" y2="107.45" stroke="#111" stroke-width="0.9"/>
<line x1="603.10" y1="122.26" x2="605.3" y2="122.26" stroke="#111" stroke-width="0.6"/>
<line x1="603.10" y1="133.63" x2="605.3" y2="133.63" stroke="#111" stroke-width="0.6"/>
<line x1="603.10" y1="143.21" x2="605.3" y2="143.21" stroke="#111" stroke-width="0.6"/>
<line x1="603.10" y1="151.65" x2="605.3" y2="151.65" stroke="#111" stroke-width="0.6"/>
<line x1="603.10" y1="159.28" x2="605.3" y2="159.28" stroke="#111" stroke-width="0.6"/>
<line x1="603.10" y1="166.29" x2="605.3" y2="166.29" stroke="#111" stroke-width="0.6"/>
<line x1="603.10" y1="172.83" x2="605.3" y2="172.83" stroke="#111" stroke-width="0.6"/>
<line x1="603.10" y1="178.96" x2="605.3" y2="178.96" stroke="#111" stroke-width="0.6"/>
<line x1="598.30" y1="184.76" x2="605.3" y2="184.76" stroke="#111" stroke-width="0.9"/>
<line x1="603.10" y1="190.28" x2="605.3" y2="190.28" stroke="#111" stroke-width="0.6"/>
<line x1="603.10" y1="195.55" x2="605.3" y2="195.55" stroke="#111" stroke-width="0.6"/>
<text x="598.10" y="83.21" font-size="8.6" text-anchor="end" fill="#222" textLength="23.2" lengthAdjust="spacingAndGlyphs">1.00M</text>
<text x="598.10" y="107.65" font-size="8.6" text-anchor="end" fill="#222" textLength="23.2" lengthAdjust="spacingAndGlyphs">10.0M</text>
<text x="596.90" y="184.96" font-size="8.6" text-anchor="end" fill="#222" textLength="21.0" lengthAdjust="spacingAndGlyphs">100M</text>
<line x1="605.30" y1="71.70" x2="605.30" y2="63.10" stroke="#111" stroke-width="1.1"/>
<line x1="605.30" y1="51.60" x2="605.30" y2="44.20" stroke="#111" stroke-width="1.1"/>
<line x1="621.08" y1="72.69" x2="621.47" y2="69.62" stroke="#111" stroke-width="0.6"/>
<line x1="624.10" y1="48.78" x2="624.53" y2="45.41" stroke="#111" stroke-width="0.6"/>
<line x1="636.61" y1="75.66" x2="637.38" y2="72.65" stroke="#111" stroke-width="0.6"/>
<line x1="642.60" y1="52.31" x2="643.45" y2="49.02" stroke="#111" stroke-width="0.6"/>
<line x1="651.65" y1="80.54" x2="652.79" y2="77.66" stroke="#111" stroke-width="0.6"/>
<line x1="660.52" y1="58.13" x2="661.77" y2="54.97" stroke="#111" stroke-width="0.6"/>
<line x1="665.95" y1="87.27" x2="667.45" y2="84.56" stroke="#111" stroke-width="0.6"/>
<line x1="677.56" y1="66.15" x2="679.20" y2="63.17" stroke="#111" stroke-width="0.6"/>
<line x1="679.30" y1="95.74" x2="684.36" y2="88.79" stroke="#111" stroke-width="1.1"/>
<line x1="691.12" y1="79.48" x2="695.47" y2="73.50" stroke="#111" stroke-width="1.1"/>
<line x1="691.48" y1="105.82" x2="693.61" y2="103.56" stroke="#111" stroke-width="0.6"/>
<line x1="707.98" y1="88.25" x2="710.31" y2="85.78" stroke="#111" stroke-width="0.6"/>
<line x1="702.31" y1="117.35" x2="704.70" y2="115.37" stroke="#111" stroke-width="0.6"/>
<line x1="720.88" y1="101.99" x2="723.50" y2="99.82" stroke="#111" stroke-width="0.6"/>
<line x1="711.60" y1="130.14" x2="714.22" y2="128.48" stroke="#111" stroke-width="0.6"/>
<line x1="731.95" y1="117.23" x2="734.82" y2="115.40" stroke="#111" stroke-width="0.6"/>
<line x1="719.22" y1="143.99" x2="722.02" y2="142.67" stroke="#111" stroke-width="0.6"/>
<line x1="741.02" y1="133.73" x2="744.10" y2="132.29" stroke="#111" stroke-width="0.6"/>
<line x1="725.04" y1="158.69" x2="733.22" y2="156.04" stroke="#111" stroke-width="1.1"/>
<line x1="744.15" y1="152.48" x2="751.19" y2="150.20" stroke="#111" stroke-width="1.1"/>
<line x1="728.97" y1="174.01" x2="732.02" y2="173.43" stroke="#111" stroke-width="0.6"/>
<line x1="752.64" y1="169.49" x2="755.98" y2="168.86" stroke="#111" stroke-width="0.6"/>
<line x1="730.95" y1="189.69" x2="734.05" y2="189.50" stroke="#111" stroke-width="0.6"/>
<line x1="755.00" y1="188.18" x2="758.40" y2="187.97" stroke="#111" stroke-width="0.6"/>
<line x1="730.95" y1="205.51" x2="734.05" y2="205.70" stroke="#111" stroke-width="0.6"/>
<line x1="755.00" y1="207.02" x2="758.40" y2="207.23" stroke="#111" stroke-width="0.6"/>
<line x1="728.97" y1="221.19" x2="732.02" y2="221.77" stroke="#111" stroke-width="0.6"/>
<line x1="752.64" y1="225.71" x2="755.98" y2="226.34" stroke="#111" stroke-width="0.6"/>
<line x1="725.04" y1="236.51" x2="733.22" y2="239.16" stroke="#111" stroke-width="1.1"/>
<line x1="744.15" y1="242.72" x2="751.19" y2="245.00" stroke="#111" stroke-width="1.1"/>
<line x1="719.22" y1="251.21" x2="722.02" y2="252.53" stroke="#111" stroke-width="0.6"/>
<line x1="741.02" y1="261.47" x2="744.10" y2="262.91" stroke="#111" stroke-width="0.6"/>
<line x1="711.60" y1="265.06" x2="714.22" y2="266.72" stroke="#111" stroke-width="0.6"/>
<line x1="731.95" y1="277.97" x2="734.82" y2="279.80" stroke="#111" stroke-width="0.6"/>
<line x1="702.31" y1="277.85" x2="704.70" y2="279.83" stroke="#111" stroke-width="0.6"/>
<line x1="720.88" y1="293.21" x2="723.50" y2="295.38" stroke="#111" stroke-width="0.6"/>
<line x1="691.48" y1="289.38" x2="693.61" y2="291.64" stroke="#111" stroke-width="0.6"/>
<line x1="707.98" y1="306.95" x2="710.31" y2="309.42" stroke="#111" stroke-width="0.6"/>
<line x1="679.30" y1="299.46" x2="684.36" y2="306.41" stroke="#111" stroke-width="1.1"/>
<line x1="691.12" y1="315.72" x2="695.47" y2="321.70" stroke="#111" stroke-width="1.1"/>
<line x1="665.95" y1="307.93" x2="667.45" y2="310.64" stroke="#111" stroke-width="0.6"/>
<line x1="677.56" y1="329.05" x2="679.20" y2="332.03" stroke="#111" stroke-width="0.6"/>
<line x1="651.65" y1="314.66" x2="652.79" y2="317.54" stroke="#111" stroke-width="0.6"/>
<line x1="660.52" y1="337.07" x2="661.77" y2="340.23" stroke="#111" stroke-width="0.6"/>
<line x1="636.61" y1="319.54" x2="637.38" y2="322.55" stroke="#111" stroke-width="0.6"/>
<line x1="642.60" y1="342.89" x2="643.45" y2="346.18" stroke="#111" stroke-width="0.6"/>
<line x1="621.08" y1="322.51" x2="621.47" y2="325.58" stroke="#111" stroke-width="0.6"/>
<line x1="624.10" y1="346.42" x2="624.53" y2="349.79" stroke="#111" stroke-width="0.6"/>
<line x1="605.30" y1="323.50" x2="605.30" y2="332.10" stroke="#111" stroke-width="1.1"/>
<line x1="605.30" y1="343.60" x2="605.30" y2="351.00" stroke="#111" stroke-width="1.1"/>
<line x1="589.52" y1="322.51" x2="589.13" y2="325.58" stroke="#111" stroke-width="0.6"/>
<line x1="586.50" y1="346.42" x2="586.07" y2="349.79" stroke="#111" stroke-width="0.6"/>
<line x1="573.99" y1="319.54" x2="573.22" y2="322.55" stroke="#111" stroke-width="0.6"/>
<line x1="568.00" y1="342.89" x2="567.15" y2="346.18" stroke="#111" stroke-width="0.6"/>
<line x1="558.95" y1="314.66" x2="557.81" y2="317.54" stroke="#111" stroke-width="0.6"/>
<line x1="550.08" y1="337.07" x2="548.83" y2="340.23" stroke="#111" stroke-width="0.6"/>
<line x1="544.65" y1="307.93" x2="543.15" y2="310.64" stroke="#111" stroke-width="0.6"/>
<line x1="533.04" y1="329.05" x2="531.40" y2="332.03" stroke="#111" stroke-width="0.6"/>
<line x1="531.30" y1="299.46" x2="526.24" y2="306.41" stroke="#111" stroke-width="1.1"/>
<line x1="519.48" y1="315.72" x2="515.13" y2="321.70" stroke="#111" stroke-width="1.1"/>
<line x1="519.12" y1="289.38" x2="516.99" y2="291.64" stroke="#111" stroke-width="0.6"/>
<line x1="502.62" y1="306.95" x2="500.29" y2="309.42" stroke="#111" stroke-width="0.6"/>
<line x1="508.29" y1="277.85" x2="505.90" y2="279.83" stroke="#111" stroke-width="0.6"/>
<line x1="489.72" y1="293.21" x2="487.10" y2="295.38" stroke="#111" stroke-width="0.6"/>
<line x1="499.00" y1="265.06" x2="496.38" y2="266.72" stroke="#111" stroke-width="0.6"/>
<line x1="478.65" y1="277.97" x2="475.78" y2="279.80" stroke="#111" stroke-width="0.6"/>
<line x1="491.38" y1="251.21" x2="488.58" y2="252.53" stroke="#111" stroke-width="0.6"/>
<line x1="469.58" y1="261.47" x2="466.50" y2="262.91" stroke="#111" stroke-width="0.6"/>
<line x1="485.56" y1="236.51" x2="477.38" y2="239.16" stroke="#111" stroke-width="1.1"/>
<line x1="466.45" y1="242.72" x2="459.41" y2="245.00" stroke="#111" stroke-width="1.1"/>
<line x1="481.63" y1="221.19" x2="478.58" y2="221.77" stroke="#111" stroke-width="0.6"/>
<line x1="457.96" y1="225.71" x2="454.62" y2="226.34" stroke="#111" stroke-width="0.6"/>
<line x1="479.65" y1="205.51" x2="476.55" y2="205.70" stroke="#111" stroke-width="0.6"/>
<line x1="455.60" y1="207.02" x2="452.20" y2="207.23" stroke="#111" stroke-width="0.6"/>
<line x1="479.65" y1="189.69" x2="476.55" y2="189.50" stroke="#111" stroke-width="0.6"/>
<line x1="455.60" y1="188.18" x2="452.20" y2="187.97" stroke="#111" stroke-width="0.6"/>
<line x1="481.63" y1="174.01" x2="478.58" y2="173.43" stroke="#111" stroke-width="0.6"/>
<line x1="457.96" y1="169.49" x2="454.62" y2="168.86" stroke="#111" stroke-width="0.6"/>
<line x1="485.56" y1="158.69" x2="477.38" y2="156.04" stroke="#111" stroke-width="1.1"/>
<line x1="466.45" y1="152.48" x2="459.41" y2="150.20" stroke="#111" stroke-width="1.1"/>
<line x1="491.38" y1="143.99" x2="488.58" y2="142.67" stroke="#111" stroke-width="0.6"/>
<line x1="469.58" y1="133.73" x2="466.50" y2="132.29" stroke="#111" stroke-width="0.6"/>
<line x1="499.00" y1="130.14" x2="496.38" y2="128.48" stroke="#111" stroke-width="0.6"/>
<line x1="478.65" y1="117.23" x2="475.78" y2="115.40" stroke="#111" stroke-width="0.6"/>
<line x1="508.29" y1="117.35" x2="505.90" y2="115.37" stroke="#111" stroke-width="0.6"/>
<line x1="489.72" y1="101.99" x2="487.10" y2="99.82" stroke="#111" stroke-width="0.6"/>
<line x1="519.12" y1="105.82" x2="516.99" y2="103.56" stroke="#111" stroke-width="0.6"/>
<line x1="502.62" y1="88.25" x2="500.29" y2="85.78" stroke="#111" stroke-width="0.6"/>
<line x1="531.30" y1="95.74" x2="526.24" y2="88.79" stroke="#111" stroke-width="1.1"/>
<line x1="519.48" y1="79.48" x2="515.13" y2="73.50" stroke="#111" stroke-width="1.1"/>
<line x1="544.65" y1="87.27" x2="543.15" y2="84.56" stroke="#111" stroke-width="0.6"/>
<line x1="533.04" y1="66.15" x2="531.40" y2="63.17" stroke="#111" stroke-width="0.6"/>
<line x1="558.95" y1="80.54" x2="557.81" y2="77.66" stroke="#111" stroke-width="0.6"/>
<line x1="550.08" y1="58.13" x2="548.83" y2="54.97" stroke="#111" stroke-width="0.6"/>
<line x1="573.99" y1="75.66" x2="573.22" y2="72.65" stroke="#111" stroke-width="0.6"/>
<line x1="568.00" y1="52.31" x2="567.15" y2="49.02" stroke="#111" stroke-width="0.6"/>
<line x1="589.52" y1="72.69" x2="589.13" y2="69.62" stroke="#111" stroke-width="0.6"/>
<line x1="586.50" y1="48.78" x2="586.07" y2="45.41" stroke="#111" stroke-width="0.6"/>
<text transform="rotate(0,605.3,197.6)" x="606.20" y="43.00" font-size="8.0" text-anchor="end" fill="#333">754M</text>
<text transform="rotate(0,605.3,197.6)" x="605.3" y="60.50" font-size="8.6" text-anchor="middle" fill="#333" stroke="#a6cee3" stroke-width="0" >0%</text>
<text transform="rotate(36,605.3,197.6)" x="606.20" y="43.00" font-size="8.0" text-anchor="end" fill="#333">75.4M</text>
<text transform="rotate(36,605.3,197.6)" x="605.3" y="60.50" font-size="8.6" text-anchor="middle" fill="#333" stroke="#a6cee3" stroke-width="0" >10</text>
<text transform="rotate(72,605.3,197.6)" x="606.20" y="43.00" font-size="8.0" text-anchor="end" fill="#333">151M</text>
<text transform="rotate(72,605.3,197.6)" x="605.3" y="60.50" font-size="8.6" text-anchor="middle" fill="#333" stroke="#a6cee3" stroke-width="0" >20</text>
<text transform="rotate(108,605.3,197.6)" x="606.20" y="43.00" font-size="8.0" text-anchor="end" fill="#333">226M</text>
<text transform="rotate(108,605.3,197.6)" x="605.3" y="60.50" font-size="8.6" text-anchor="middle" fill="#333" stroke="#a6cee3" stroke-width="0" >30</text>
<text transform="rotate(144,605.3,197.6)" x="606.20" y="43.00" font-size="8.0" text-anchor="end" fill="#333">302M</text>
<text transform="rotate(144,605.3,197.6)" x="605.3" y="60.50" font-size="8.6" text-anchor="middle" fill="#333" stroke="#a6cee3" stroke-width="0" >40</text>
<text transform="rotate(180,605.3,197.6)" x="606.20" y="43.00" font-size="8.0" text-anchor="end" fill="#333">377M</text>
<text transform="rotate(180,605.3,197.6)" x="605.3" y="60.50" font-size="8.6" text-anchor="middle" fill="#333" stroke="#a6cee3" stroke-width="0" >50</text>
<text transform="rotate(216,605.3,197.6)" x="606.20" y="43.00" font-size="8.0" text-anchor="end" fill="#333">453M</text>
<text transform="rotate(216,605.3,197.6)" x="605.3" y="60.50" font-size="8.6" text-anchor="middle" fill="#333" stroke="#a6cee3" stroke-width="0" >60</text>
<text transform="rotate(252,605.3,197.6)" x="606.20" y="43.00" font-size="8.0" text-anchor="end" fill="#333">528M</text>
<text transform="rotate(252,605.3,197.6)" x="605.3" y="60.50" font-size="8.6" text-anchor="middle" fill="#333" stroke="#a6cee3" stroke-width="0" >70</text>
<text transform="rotate(288,605.3,197.6)" x="606.20" y="43.00" font-size="8.0" text-anchor="end" fill="#333">604M</text>
<text transform="rotate(288,605.3,197.6)" x="605.3" y="60.50" font-size="8.6" text-anchor="middle" fill="#333" stroke="#a6cee3" stroke-width="0" >80</text>
<text transform="rotate(324,605.3,197.6)" x="606.20" y="43.00" font-size="8.0" text-anchor="end" fill="#333">679M</text>
<text transform="rotate(324,605.3,197.6)" x="605.3" y="60.50" font-size="8.6" text-anchor="middle" fill="#333" stroke="#a6cee3" stroke-width="0" >90</text>
<text x="403.2" y="18.8" font-size="19" textLength="11.1" lengthAdjust="spacingAndGlyphs" font-weight="bold" fill="#000" style="stroke:#000;stroke-width:0.6px">B</text>
<text x="419.2" y="11.8" font-size="10.6" textLength="81" lengthAdjust="spacingAndGlyphs" fill="#222">Scaffold statistics</text>
<rect x="419.0" y="17.00" width="8.6" height="8.7" fill="#dddddd" stroke="#222" stroke-width="1.35"/>
<text x="431.8" y="23.60" font-size="7.9" textLength="111" lengthAdjust="spacingAndGlyphs" fill="#333">Log10 scaffold count (total 1.95k)</text>
<rect x="419.0" y="29.60" width="8.6" height="8.7" fill="#999999" stroke="#222" stroke-width="1.35"/>
<text x="431.8" y="36.20" font-size="7.9" textLength="93.5" lengthAdjust="spacingAndGlyphs" fill="#333">Scaffold length (total 754M)</text>
<rect x="419.0" y="42.20" width="8.6" height="8.7" fill="#e31a1c" stroke="#222" stroke-width="1.35"/>
<text x="431.8" y="48.80" font-size="7.9" textLength="77.5" lengthAdjust="spacingAndGlyphs" fill="#333">Longest scaffold (124M)</text>
<rect x="419.0" y="54.80" width="8.6" height="8.7" fill="#ff7f00" stroke="#222" stroke-width="1.35"/>
<text x="431.8" y="61.40" font-size="7.9" textLength="61.5" lengthAdjust="spacingAndGlyphs" fill="#333">N50 length (41.8M)</text>
<rect x="419.0" y="67.40" width="8.6" height="8.7" fill="#fdbf6f" stroke="#222" stroke-width="1.35"/>
<text x="431.8" y="74.00" font-size="7.9" textLength="56.5" lengthAdjust="spacingAndGlyphs" fill="#333">N90 length (516k)</text>
<text x="645.5" y="11.6" font-size="10.2" textLength="32.8" lengthAdjust="spacingAndGlyphs" fill="#222">BUSCO</text>
<text x="686.6" y="11.5" font-size="7.6" textLength="72" lengthAdjust="spacingAndGlyphs" fill="#333">metazoa_odb10 (954)</text>
<rect x="645.1" y="17.0" width="8.6" height="8.6" fill="#33a02c" stroke="#222" stroke-width="1.35"/>
<text x="657.7" y="24.20" font-size="7.9" textLength="48" lengthAdjust="spacingAndGlyphs" fill="#333">Comp. (96.6%)</text>
<rect x="645.1" y="29.6" width="8.6" height="8.6" fill="#20641c" stroke="#222" stroke-width="1.35"/>
<text x="657.7" y="36.80" font-size="7.9" textLength="40.3" lengthAdjust="spacingAndGlyphs" fill="#333">Dupl. (4.9%)</text>
<rect x="719.9" y="17.0" width="8.6" height="8.6" fill="#b2df8a" stroke="#222" stroke-width="1.35"/>
<text x="732.5" y="24.20" font-size="7.9" textLength="39.8" lengthAdjust="spacingAndGlyphs" fill="#333">Frag. (1.6%)</text>
<rect x="719.9" y="29.6" width="8.6" height="8.6" fill="#ffffff" stroke="#222" stroke-width="1.35"/>
<text x="732.5" y="36.80" font-size="7.9" textLength="51" lengthAdjust="spacingAndGlyphs" fill="#333">Missing (1.8%)</text>
<polygon points="751.80,47.20 752.25,47.20 752.70,47.22 753.15,47.24 753.60,47.26 754.05,47.30 754.49,47.34 754.94,47.39 755.38,47.45 755.83,47.52 756.27,47.59 756.71,47.67 757.16,47.76 757.59,47.86 758.03,47.97 758.47,48.08 758.90,48.20 759.33,48.33 759.76,48.46 760.19,48.61 760.61,48.76 761.03,48.91 761.45,49.08 761.86,49.25 762.28,49.43 762.68,49.62 763.09,49.81 763.49,50.01 763.89,50.22 764.29,50.44 764.68,50.66 765.06,50.89 765.45,51.12 765.83,51.36 766.20,51.61 766.57,51.87 766.94,52.13 767.30,52.40 767.65,52.67 768.00,52.95 768.35,53.24 768.69,53.53 769.03,53.83 769.36,54.13 769.69,54.44 770.01,54.76 770.32,55.08 770.63,55.41 770.93,55.74 771.23,56.08 771.52,56.42 771.81,56.77 772.08,57.12 772.36,57.48 772.62,57.84 772.88,58.21 773.14,58.58 773.39,58.95 773.63,59.33 773.86,59.72 774.09,60.10 774.31,60.50 774.52,60.89 774.73,61.29 774.93,61.69 775.12,62.10 775.31,62.51 775.48,62.92 775.65,63.34 775.82,63.76 775.97,64.18 776.12,64.60 776.27,65.03 776.40,65.46 776.53,65.89 776.64,66.32 776.76,66.76 776.86,67.20 776.96,67.64 777.04,68.08 777.12,68.52 777.20,68.96 777.26,69.41 777.32,69.85 777.37,70.30 777.41,70.75 777.44,71.20 777.47,71.64 777.49,72.09 777.50,72.54 777.50,72.99 777.49,73.44 777.48,73.89 777.46,74.34 777.43,74.79 777.39,75.24 777.35,75.69 777.30,76.13 777.24,76.58 777.17,77.02 777.09,77.46 777.01,77.91 776.92,78.35 776.82,78.78 776.71,79.22 776.60,79.66 776.47,80.09 776.34,80.52 776.21,80.95 776.06,81.37 775.91,81.80 775.75,82.22 775.58,82.63 775.41,83.05 775.23,83.46 775.04,83.87 774.85,84.27 774.64,84.68 774.43,85.07 774.22,85.47 773.99,85.86 773.76,86.24 773.53,86.63 773.28,87.00 773.03,87.38 772.78,87.75 772.51,88.11 772.25,88.47 771.97,88.83 771.69,89.18 771.40,89.52 771.11,89.86 770.81,90.20 770.50,90.53 770.19,90.85 769.87,91.17 769.55,91.48 769.22,91.79 768.89,92.09 768.55,92.39 768.21,92.68 767.86,92.96 767.51,93.24 767.15,93.51 766.79,93.78 766.42,94.04 766.05,94.29 765.67,94.54 765.29,94.78 764.90,95.01 764.52,95.23 764.12,95.45 763.73,95.67 763.33,95.87 762.92,96.07 762.52,96.26 762.11,96.44 761.69,96.62 761.28,96.79 760.86,96.95 760.43,97.11 760.01,97.25 759.58,97.39 759.15,97.53 758.72,97.65 758.29,97.77 757.85,97.88 757.41,97.98 756.97,98.07 756.53,98.16 756.09,98.24 755.65,98.31 755.20,98.37 754.75,98.43 754.31,98.48 753.86,98.52 753.41,98.55 752.96,98.57 752.51,98.59 752.06,98.60 751.61,98.60 751.16,98.59 750.72,98.58 750.27,98.55 749.82,98.52 749.37,98.48 748.92,98.44 748.48,98.38 748.03,98.32 747.59,98.25 747.14,98.17 746.70,98.09 746.26,98.00 745.82,97.90 745.39,97.79 744.95,97.67 744.52,97.55 744.09,97.42 743.66,97.28 743.24,97.13 742.82,96.98 742.40,96.82 741.98,96.65 741.57,96.47 741.15,96.29 740.75,96.10 740.34,95.90 739.94,95.70 739.55,95.49 739.15,95.27 738.76,95.05 738.38,94.82 738.00,94.58 737.62,94.33 737.25,94.08 736.88,93.82 736.51,93.56 736.15,93.29 735.80,93.01 735.45,92.73 735.11,92.44 734.77,92.15 734.43,91.84 734.10,91.54 733.78,91.23 733.46,90.91 733.15,90.58 732.84,90.25 732.54,89.92 732.25,89.58 731.96,89.24 731.68,88.89 731.40,88.53 731.13,88.17 730.87,87.81 730.61,87.44 730.36,87.07 730.11,86.69 729.88,86.31 729.64,85.92 729.42,85.53 729.20,85.14 728.99,84.74 728.79,84.34 728.59,83.94 728.40,83.53 728.22,83.12 728.04,82.71 727.88,82.29 727.72,81.87 727.56,81.45 727.42,81.02 727.28,80.59 727.15,80.16 727.02,79.73 726.91,79.30 726.80,78.86 726.70,78.42 726.61,77.98 726.52,77.54 726.45,77.10 726.38,76.65 726.31,76.21 726.26,75.76 726.21,75.31 726.18,74.87 726.14,74.42 726.12,73.97 726.11,73.52 726.10,73.07 726.10,72.62 726.11,72.17 726.13,71.72 726.15,71.27 726.18,70.82 726.22,70.38 726.27,69.93 726.33,69.48 726.39,69.04 726.46,68.59 726.54,68.15 726.63,67.71 726.72,67.27 726.83,66.83 726.94,66.40 727.05,65.96 727.18,65.53 727.31,65.10 727.45,64.68 727.60,64.25 727.75,63.83 727.92,63.41 728.09,62.99 728.26,62.58 728.45,62.17 728.64,61.76 728.84,61.36 729.04,60.96 729.25,60.56 729.47,60.17 729.70,59.78 729.93,59.40 730.17,59.02 730.42,58.64 730.67,58.27 730.93,57.90 731.20,57.54 731.47,57.18 731.75,56.83 732.03,56.48 732.32,56.14 732.62,55.80 732.92,55.46 733.23,55.14 733.54,54.82 733.86,54.50 734.18,54.19 734.51,53.88 734.85,53.58 735.19,53.29 735.54,53.00 735.89,52.72 736.24,52.44 736.60,52.18 736.97,51.91 737.34,51.66 737.71,51.41 738.09,51.16 738.47,50.93 738.86,50.70 739.25,50.47 739.64,50.26 740.04,50.05 740.44,49.85 740.85,49.65 741.25,49.46 741.67,49.28 742.08,49.11 742.50,48.94 742.92,48.78 743.34,48.63 743.77,48.49 744.20,48.35 744.63,48.22 745.06,48.10 745.49,47.99 745.93,47.88 746.37,47.78 749.75,63.42 749.58,63.46 749.42,63.50 749.26,63.54 749.09,63.59 748.93,63.63 748.77,63.69 748.61,63.74 748.45,63.80 748.29,63.86 748.13,63.92 747.97,63.99 747.82,64.05 747.67,64.13 747.51,64.20 747.36,64.28 747.21,64.35 747.06,64.44 746.91,64.52 746.77,64.61 746.62,64.70 746.48,64.79 746.34,64.88 746.20,64.98 746.06,65.08 745.93,65.18 745.79,65.28 745.66,65.39 745.53,65.50 745.40,65.61 745.28,65.72 745.15,65.84 745.03,65.95 744.91,66.07 744.79,66.20 744.67,66.32 744.56,66.45 744.45,66.57 744.34,66.70 744.23,66.83 744.13,66.97 744.02,67.10 743.92,67.24 743.83,67.38 743.73,67.52 743.64,67.66 743.55,67.80 743.46,67.95 743.37,68.10 743.29,68.24 743.21,68.39 743.13,68.54 743.06,68.70 742.99,68.85 742.92,69.00 742.85,69.16 742.79,69.32 742.72,69.48 742.67,69.64 742.61,69.80 742.56,69.96 742.51,70.12 742.46,70.28 742.42,70.45 742.37,70.61 742.34,70.78 742.30,70.94 742.27,71.11 742.24,71.28 742.21,71.44 742.19,71.61 742.16,71.78 742.15,71.95 742.13,72.12 742.12,72.29 742.11,72.46 742.10,72.62 742.10,72.79 742.10,72.96 742.10,73.13 742.11,73.30 742.12,73.47 742.13,73.64 742.14,73.81 742.16,73.98 742.18,74.15 742.20,74.32 742.23,74.48 742.26,74.65 742.29,74.82 742.33,74.98 742.36,75.15 742.41,75.31 742.45,75.48 742.50,75.64 742.54,75.80 742.60,75.97 742.65,76.13 742.71,76.29 742.77,76.44 742.83,76.60 742.90,76.76 742.97,76.91 743.04,77.07 743.11,77.22 743.19,77.37 743.27,77.52 743.35,77.67 743.44,77.82 743.53,77.96 743.61,78.11 743.71,78.25 743.80,78.39 743.90,78.53 744.00,78.66 744.10,78.80 744.21,78.93 744.31,79.07 744.42,79.20 744.53,79.32 744.65,79.45 744.76,79.57 744.88,79.70 745.00,79.82 745.12,79.93 745.25,80.05 745.37,80.16 745.50,80.28 745.63,80.38 745.76,80.49 745.89,80.60 746.03,80.70 746.17,80.80 746.31,80.89 746.45,80.99 746.59,81.08 746.73,81.17 746.88,81.26 747.03,81.34 747.17,81.43 747.32,81.51 747.48,81.58 747.63,81.66 747.78,81.73 747.94,81.80 748.09,81.86 748.25,81.93 748.41,81.99 748.57,82.05 748.73,82.10 748.89,82.15 749.05,82.20 749.22,82.25 749.38,82.29 749.54,82.33 749.71,82.37 749.88,82.41 750.04,82.44 750.21,82.47 750.38,82.50 750.55,82.52 750.71,82.54 750.88,82.56 751.05,82.57 751.22,82.58 751.39,82.59 751.56,82.60 751.73,82.60 751.90,82.60 752.07,82.60 752.24,82.59 752.41,82.58 752.58,82.57 752.75,82.55 752.92,82.54 753.08,82.51 753.25,82.49 753.42,82.46 753.59,82.43 753.75,82.40 753.92,82.37 754.08,82.33 754.25,82.29 754.41,82.24 754.58,82.19 754.74,82.14 754.90,82.09 755.06,82.04 755.22,81.98 755.38,81.92 755.53,81.85 755.69,81.79 755.84,81.72 756.00,81.64 756.15,81.57 756.30,81.49 756.45,81.41 756.60,81.33 756.75,81.24 756.89,81.16 757.03,81.07 757.18,80.97 757.32,80.88 757.46,80.78 757.59,80.68 757.73,80.58 757.86,80.47 757.99,80.37 758.12,80.26 758.25,80.14 758.38,80.03 758.50,79.91 758.62,79.80 758.74,79.68 758.86,79.55 758.97,79.43 759.09,79.30 759.20,79.17 759.31,79.04 759.41,78.91 759.52,78.78 759.62,78.64 759.72,78.50 759.81,78.36 759.91,78.22 760.00,78.08 760.09,77.94 760.18,77.79 760.26,77.64 760.34,77.49 760.42,77.34 760.50,77.19 760.57,77.04 760.64,76.89 760.71,76.73 760.78,76.57 760.84,76.42 760.90,76.26 760.96,76.10 761.01,75.94 761.06,75.78 761.11,75.61 761.16,75.45 761.20,75.29 761.24,75.12 761.28,74.96 761.31,74.79 761.35,74.62 761.37,74.46 761.40,74.29 761.42,74.12 761.44,73.95 761.46,73.78 761.47,73.61 761.48,73.44 761.49,73.27 761.50,73.10 761.50,72.94 761.50,72.77 761.50,72.60 761.49,72.43 761.48,72.26 761.47,72.09 761.45,71.92 761.43,71.75 761.41,71.58 761.39,71.41 761.36,71.25 761.33,71.08 761.29,70.91 761.26,70.75 761.22,70.58 761.18,70.42 761.13,70.25 761.08,70.09 761.03,69.93 760.98,69.77 760.92,69.61 760.87,69.45 760.80,69.29 760.74,69.13 760.67,68.98 760.60,68.82 760.53,68.67 760.45,68.52 760.38,68.37 760.30,68.22 760.21,68.07 760.13,67.92 760.04,67.78 759.95,67.64 759.85,67.49 759.76,67.35 759.66,67.22 759.56,67.08 759.46,66.94 759.35,66.81 759.24,66.68 759.13,66.55 759.02,66.42 758.91,66.30 758.79,66.17 758.67,66.05 758.55,65.93 758.43,65.82 758.30,65.70 758.18,65.59 758.05,65.48 757.92,65.37 757.78,65.27 757.65,65.16 757.51,65.06 757.37,64.96 757.24,64.87 757.09,64.77 756.95,64.68 756.81,64.59 756.66,64.51 756.51,64.42 756.36,64.34 756.21,64.26 756.06,64.19 755.91,64.11 755.75,64.04 755.60,63.97 755.44,63.91 755.28,63.85 755.12,63.79 754.97,63.73 754.80,63.68 754.64,63.63 754.48,63.58 754.32,63.53 754.15,63.49 753.99,63.45 753.82,63.41 753.66,63.38 753.49,63.35 753.32,63.32 753.15,63.29 752.98,63.27 752.82,63.25 752.65,63.24 752.48,63.22 752.31,63.21 752.14,63.21 751.97,63.20 751.80,63.20" fill="#33a02c"/>
<polygon points="751.80,47.20 752.26,47.20 752.73,47.22 753.19,47.24 753.66,47.27 754.12,47.30 754.58,47.35 755.04,47.41 755.50,47.47 755.96,47.54 756.42,47.62 756.87,47.71 757.33,47.80 757.78,47.91 758.23,48.02 758.68,48.14 759.13,48.27 759.57,48.40 754.73,63.65 754.57,63.60 754.40,63.55 754.23,63.51 754.06,63.47 753.89,63.43 753.72,63.39 753.54,63.36 753.37,63.33 753.20,63.30 753.02,63.28 752.85,63.26 752.68,63.24 752.50,63.23 752.33,63.21 752.15,63.21 751.98,63.20 751.80,63.20" fill="#20641c"/>
<polygon points="746.37,47.78 746.87,47.68 747.37,47.58 747.88,47.50 748.38,47.43 748.89,47.37 750.70,63.26 750.51,63.29 750.32,63.31 750.13,63.35 749.94,63.38 749.75,63.42" fill="#b2df8a"/>
<line x1="751.8" y1="72.9" x2="751.8" y2="47.2" stroke="#999" stroke-width="1.2"/>
<text transform="rotate(-6.5,751.8,72.9)" x="751.8" y="45.20" font-size="6.6" text-anchor="middle" fill="#333">0%</text>
<text transform="rotate(29.5,751.8,72.9)" x="751.8" y="45.20" font-size="6.6" text-anchor="middle" fill="#333">10</text>
<text transform="rotate(65.5,751.8,72.9)" x="751.8" y="45.20" font-size="6.6" text-anchor="middle" fill="#333">20</text>
<text transform="rotate(101.5,751.8,72.9)" x="751.8" y="45.20" font-size="6.6" text-anchor="middle" fill="#333">30</text>
<text transform="rotate(137.5,751.8,72.9)" x="751.8" y="45.20" font-size="6.6" text-anchor="middle" fill="#333">40</text>
<text transform="rotate(173.5,751.8,72.9)" x="751.8" y="45.20" font-size="6.6" text-anchor="middle" fill="#333">50</text>
<text transform="rotate(209.5,751.8,72.9)" x="751.8" y="45.20" font-size="6.6" text-anchor="middle" fill="#333">60</text>
<text transform="rotate(245.5,751.8,72.9)" x="751.8" y="45.20" font-size="6.6" text-anchor="middle" fill="#333">70</text>
<text transform="rotate(281.5,751.8,72.9)" x="751.8" y="45.20" font-size="6.6" text-anchor="middle" fill="#333">80</text>
<text transform="rotate(317.5,751.8,72.9)" x="751.8" y="45.20" font-size="6.6" text-anchor="middle" fill="#333">90</text>
<text x="419" y="320.9" font-size="10.2" textLength="23.8" lengthAdjust="spacingAndGlyphs" fill="#222">Scale</text>
<circle cx="423.2" cy="331.0" r="4.3" fill="#fff" stroke="#222" stroke-width="1.3"/>
<line x1="423.2" y1="331.0" x2="423.2" y2="326.7" stroke="#222" stroke-width="1.3"/>
<rect x="431.6" y="326.4" width="29" height="9.0" fill="#fff" stroke="#222" stroke-width="1.1"/>
<text x="433.6" y="334.10" font-size="8.0" textLength="18.8" lengthAdjust="spacingAndGlyphs" fill="#333">754M</text>
<circle cx="423.2" cy="344.0" r="4.3" fill="#fff" stroke="#222" stroke-width="1.3"/>
<line x1="423.2" y1="344.0" x2="423.2" y2="339.7" stroke="#222" stroke-width="1.3"/>
<rect x="431.6" y="339.4" width="29" height="9.0" fill="#fff" stroke="#222" stroke-width="1.1"/>
<text x="433.6" y="347.10" font-size="8.0" textLength="18.8" lengthAdjust="spacingAndGlyphs" fill="#333">124M</text>
<text x="722.9" y="321.3" font-size="10.6" textLength="58.8" lengthAdjust="spacingAndGlyphs" fill="#222">Composition</text>
<rect x="722.7" y="326.60" width="9" height="8.7" fill="#1f78b4" stroke="#222" stroke-width="1.35"/>
<text x="735.6" y="333.90" font-size="7.9" textLength="35.7" lengthAdjust="spacingAndGlyphs" fill="#333">GC (36.8%)</text>
<rect x="722.7" y="339.20" width="9" height="8.7" fill="#a6cee3" stroke="#222" stroke-width="1.35"/>
<text x="735.6" y="346.50" font-size="7.9" textLength="34.8" lengthAdjust="spacingAndGlyphs" fill="#333">AT (63.2%)</text>
<rect x="722.7" y="351.80" width="9" height="8.7" fill="#ffffff" stroke="#222" stroke-width="1.35"/>
<text x="735.6" y="359.10" font-size="7.9" textLength="29.5" lengthAdjust="spacingAndGlyphs" fill="#333">N (0.0%)</text></svg></body></html>
